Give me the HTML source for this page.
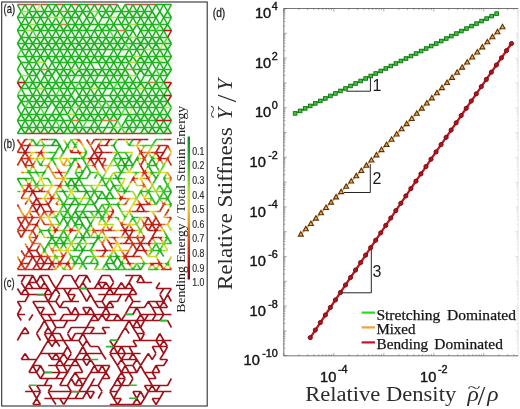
<!DOCTYPE html>
<html><head><meta charset="utf-8"><style>
html,body{margin:0;padding:0;background:#fff;width:520px;height:409px;overflow:hidden}
svg{display:block;filter:blur(0.3px)}
</style></head><body>
<svg width="520" height="409" viewBox="0 0 520 409">
<rect width="520" height="409" fill="#fff"/>
<rect x="1.7" y="2" width="205.5" height="404" fill="none" stroke="#303030" stroke-width="1.1"/>
<rect x="17.4" y="4.8" width="154" height="128.9" fill="#eefaee"/>
<path d="M17.4 4.5L25.1 4.5M25.1 4.5L32.8 4.5M32.8 4.5L40.5 4.5M40.5 4.5L48.2 4.5M55.9 4.5L63.6 4.5M71.3 4.5L79.0 4.5M86.7 4.5L94.4 4.5M94.4 4.5L102.1 4.5M102.1 4.5L109.8 4.5M109.8 4.5L117.5 4.5M125.2 4.5L132.9 4.5M132.9 4.5L140.6 4.5M140.6 4.5L148.3 4.5M148.3 4.5L156.0 4.5" stroke="#c05a48" stroke-width="1.35" fill="none"/>
<path d="M48.2 4.5L55.9 4.5M63.6 4.5L71.3 4.5M79.0 4.5L86.7 4.5M156.0 4.5L163.7 4.5M163.7 4.5L171.4 4.5M17.4 133.5L25.1 133.5M63.6 133.5L71.3 133.5M140.6 133.5L148.3 133.5M156.0 133.5L163.7 133.5" stroke="#18b018" stroke-width="1.35" fill="none"/>
<path d="M17.4 4.5L21.2 11.5M25.1 4.5L21.2 11.5M25.1 4.5L28.9 11.5M32.8 4.5L28.9 11.5M32.8 4.5L36.6 11.5M40.5 4.5L44.4 11.5M48.2 4.5L44.4 11.5M48.2 4.5L52.0 11.5M55.9 4.5L52.0 11.5M55.9 4.5L59.8 11.5M63.6 4.5L59.8 11.5M63.6 4.5L67.5 11.5M71.3 4.5L67.5 11.5M71.3 4.5L75.2 11.5M79.0 4.5L75.2 11.5M79.0 4.5L82.8 11.5M86.7 4.5L82.8 11.5M86.7 4.5L90.5 11.5M94.4 4.5L90.5 11.5M94.4 4.5L98.2 11.5M102.1 4.5L98.2 11.5M102.1 4.5L106.0 11.5M109.8 4.5L106.0 11.5M109.8 4.5L113.7 11.5M117.5 4.5L113.7 11.5M117.5 4.5L121.4 11.5M125.2 4.5L121.4 11.5M125.2 4.5L129.1 11.5M132.9 4.5L129.1 11.5M132.9 4.5L136.8 11.5M140.6 4.5L136.8 11.5M140.6 4.5L144.4 11.5M148.3 4.5L144.4 11.5M148.3 4.5L152.2 11.5M156.0 4.5L152.2 11.5M156.0 4.5L159.8 11.5M163.7 4.5L159.8 11.5M163.7 4.5L167.6 11.5M171.4 4.5L167.6 11.5M21.2 11.5L17.4 17.5M28.9 11.5L25.1 17.5M28.9 11.5L32.8 17.5M36.6 11.5L32.8 17.5M36.6 11.5L40.5 17.5M44.4 11.5L40.5 17.5M44.4 11.5L48.2 17.5M52.0 11.5L48.2 17.5M52.0 11.5L55.9 17.5M59.8 11.5L55.9 17.5M59.8 11.5L63.6 17.5M67.5 11.5L63.6 17.5M67.5 11.5L71.3 17.5M75.2 11.5L71.3 17.5M75.2 11.5L79.0 17.5M82.8 11.5L79.0 17.5M82.8 11.5L86.7 17.5M90.5 11.5L86.7 17.5M90.5 11.5L94.4 17.5M98.2 11.5L102.1 17.5M106.0 11.5L102.1 17.5M106.0 11.5L109.8 17.5M113.7 11.5L109.8 17.5M121.4 11.5L117.5 17.5M121.4 11.5L125.2 17.5M129.1 11.5L125.2 17.5M129.1 11.5L132.9 17.5M136.8 11.5L132.9 17.5M136.8 11.5L140.6 17.5M144.4 11.5L140.6 17.5M144.4 11.5L148.3 17.5M152.2 11.5L148.3 17.5M152.2 11.5L156.0 17.5M159.8 11.5L156.0 17.5M159.8 11.5L163.7 17.5M167.6 11.5L163.7 17.5M167.6 11.5L171.4 17.5M17.4 17.5L21.2 24.5M25.1 17.5L21.2 24.5M25.1 17.5L28.9 24.5M32.8 17.5L28.9 24.5M32.8 17.5L36.6 24.5M40.5 17.5L36.6 24.5M40.5 17.5L44.4 24.5M48.2 17.5L44.4 24.5M48.2 17.5L52.0 24.5M55.9 17.5L52.0 24.5M55.9 17.5L59.8 24.5M63.6 17.5L59.8 24.5M63.6 17.5L67.5 24.5M71.3 17.5L67.5 24.5M71.3 17.5L75.2 24.5M79.0 17.5L75.2 24.5M79.0 17.5L82.8 24.5M86.7 17.5L82.8 24.5M86.7 17.5L90.5 24.5M94.4 17.5L90.5 24.5M94.4 17.5L98.2 24.5M102.1 17.5L98.2 24.5M109.8 17.5L106.0 24.5M109.8 17.5L113.7 24.5M117.5 17.5L113.7 24.5M117.5 17.5L121.4 24.5M125.2 17.5L121.4 24.5M125.2 17.5L129.1 24.5M132.9 17.5L129.1 24.5M132.9 17.5L136.8 24.5M140.6 17.5L136.8 24.5M140.6 17.5L144.4 24.5M148.3 17.5L144.4 24.5M148.3 17.5L152.2 24.5M156.0 17.5L152.2 24.5M156.0 17.5L159.8 24.5M163.7 17.5L159.8 24.5M163.7 17.5L167.6 24.5M171.4 17.5L167.6 24.5M21.2 24.5L17.4 30.5M21.2 24.5L25.1 30.5M28.9 24.5L25.1 30.5M28.9 24.5L32.8 30.5M36.6 24.5L32.8 30.5M36.6 24.5L40.5 30.5M44.4 24.5L40.5 30.5M44.4 24.5L48.2 30.5M52.0 24.5L48.2 30.5M52.0 24.5L55.9 30.5M59.8 24.5L55.9 30.5M59.8 24.5L63.6 30.5M67.5 24.5L63.6 30.5M67.5 24.5L71.3 30.5M75.2 24.5L71.3 30.5M75.2 24.5L79.0 30.5M82.8 24.5L79.0 30.5M82.8 24.5L86.7 30.5M90.5 24.5L86.7 30.5M98.2 24.5L94.4 30.5M98.2 24.5L102.1 30.5M106.0 24.5L102.1 30.5M106.0 24.5L109.8 30.5M113.7 24.5L109.8 30.5M113.7 24.5L117.5 30.5M121.4 24.5L125.2 30.5M129.1 24.5L125.2 30.5M129.1 24.5L132.9 30.5M136.8 24.5L132.9 30.5M136.8 24.5L140.6 30.5M144.4 24.5L140.6 30.5M144.4 24.5L148.3 30.5M152.2 24.5L148.3 30.5M152.2 24.5L156.0 30.5M159.8 24.5L163.7 30.5M167.6 24.5L163.7 30.5M167.6 24.5L171.4 30.5M17.4 30.5L21.2 37.5M25.1 30.5L21.2 37.5M25.1 30.5L28.9 37.5M32.8 30.5L28.9 37.5M40.5 30.5L36.6 37.5M40.5 30.5L44.4 37.5M48.2 30.5L44.4 37.5M48.2 30.5L52.0 37.5M55.9 30.5L52.0 37.5M55.9 30.5L59.8 37.5M63.6 30.5L59.8 37.5M63.6 30.5L67.5 37.5M71.3 30.5L67.5 37.5M71.3 30.5L75.2 37.5M79.0 30.5L75.2 37.5M79.0 30.5L82.8 37.5M86.7 30.5L82.8 37.5M86.7 30.5L90.5 37.5M94.4 30.5L90.5 37.5M94.4 30.5L98.2 37.5M102.1 30.5L98.2 37.5M102.1 30.5L106.0 37.5M109.8 30.5L106.0 37.5M117.5 30.5L113.7 37.5M117.5 30.5L121.4 37.5M125.2 30.5L121.4 37.5M125.2 30.5L129.1 37.5M132.9 30.5L129.1 37.5M132.9 30.5L136.8 37.5M140.6 30.5L136.8 37.5M140.6 30.5L144.4 37.5M148.3 30.5L144.4 37.5M148.3 30.5L152.2 37.5M156.0 30.5L152.2 37.5M156.0 30.5L159.8 37.5M163.7 30.5L159.8 37.5M163.7 30.5L167.6 37.5M21.2 37.5L17.4 43.5M21.2 37.5L25.1 43.5M28.9 37.5L25.1 43.5M28.9 37.5L32.8 43.5M36.6 37.5L32.8 43.5M36.6 37.5L40.5 43.5M44.4 37.5L40.5 43.5M44.4 37.5L48.2 43.5M52.0 37.5L48.2 43.5M52.0 37.5L55.9 43.5M59.8 37.5L55.9 43.5M59.8 37.5L63.6 43.5M67.5 37.5L63.6 43.5M67.5 37.5L71.3 43.5M75.2 37.5L71.3 43.5M75.2 37.5L79.0 43.5M82.8 37.5L79.0 43.5M82.8 37.5L86.7 43.5M90.5 37.5L86.7 43.5M90.5 37.5L94.4 43.5M98.2 37.5L94.4 43.5M98.2 37.5L102.1 43.5M106.0 37.5L102.1 43.5M106.0 37.5L109.8 43.5M113.7 37.5L109.8 43.5M113.7 37.5L117.5 43.5M121.4 37.5L117.5 43.5M121.4 37.5L125.2 43.5M129.1 37.5L125.2 43.5M129.1 37.5L132.9 43.5M136.8 37.5L132.9 43.5M136.8 37.5L140.6 43.5M144.4 37.5L140.6 43.5M144.4 37.5L148.3 43.5M152.2 37.5L148.3 43.5M152.2 37.5L156.0 43.5M159.8 37.5L156.0 43.5M159.8 37.5L163.7 43.5M167.6 37.5L171.4 43.5M17.4 43.5L21.2 49.5M25.1 43.5L21.2 49.5M25.1 43.5L28.9 49.5M32.8 43.5L28.9 49.5M32.8 43.5L36.6 49.5M40.5 43.5L36.6 49.5M40.5 43.5L44.4 49.5M48.2 43.5L44.4 49.5M48.2 43.5L52.0 49.5M55.9 43.5L52.0 49.5M55.9 43.5L59.8 49.5M63.6 43.5L59.8 49.5M63.6 43.5L67.5 49.5M71.3 43.5L67.5 49.5M71.3 43.5L75.2 49.5M79.0 43.5L75.2 49.5M79.0 43.5L82.8 49.5M86.7 43.5L82.8 49.5M86.7 43.5L90.5 49.5M94.4 43.5L90.5 49.5M94.4 43.5L98.2 49.5M102.1 43.5L98.2 49.5M102.1 43.5L106.0 49.5M109.8 43.5L106.0 49.5M109.8 43.5L113.7 49.5M117.5 43.5L113.7 49.5M117.5 43.5L121.4 49.5M125.2 43.5L121.4 49.5M132.9 43.5L129.1 49.5M132.9 43.5L136.8 49.5M140.6 43.5L136.8 49.5M140.6 43.5L144.4 49.5M148.3 43.5L144.4 49.5M148.3 43.5L152.2 49.5M156.0 43.5L152.2 49.5M156.0 43.5L159.8 49.5M163.7 43.5L167.6 49.5M171.4 43.5L167.6 49.5M21.2 49.5L25.1 56.5M28.9 49.5L25.1 56.5M28.9 49.5L32.8 56.5M36.6 49.5L32.8 56.5M36.6 49.5L40.5 56.5M44.4 49.5L40.5 56.5M44.4 49.5L48.2 56.5M52.0 49.5L48.2 56.5M52.0 49.5L55.9 56.5M59.8 49.5L55.9 56.5M59.8 49.5L63.6 56.5M67.5 49.5L63.6 56.5M67.5 49.5L71.3 56.5M75.2 49.5L71.3 56.5M75.2 49.5L79.0 56.5M82.8 49.5L79.0 56.5M82.8 49.5L86.7 56.5M90.5 49.5L86.7 56.5M90.5 49.5L94.4 56.5M98.2 49.5L94.4 56.5M98.2 49.5L102.1 56.5M106.0 49.5L102.1 56.5M113.7 49.5L109.8 56.5M113.7 49.5L117.5 56.5M121.4 49.5L117.5 56.5M129.1 49.5L125.2 56.5M129.1 49.5L132.9 56.5M136.8 49.5L132.9 56.5M136.8 49.5L140.6 56.5M144.4 49.5L140.6 56.5M144.4 49.5L148.3 56.5M152.2 49.5L148.3 56.5M152.2 49.5L156.0 56.5M159.8 49.5L156.0 56.5M159.8 49.5L163.7 56.5M167.6 49.5L163.7 56.5M167.6 49.5L171.4 56.5M17.4 56.5L21.2 62.5M25.1 56.5L28.9 62.5M32.8 56.5L28.9 62.5M32.8 56.5L36.6 62.5M40.5 56.5L36.6 62.5M40.5 56.5L44.4 62.5M48.2 56.5L44.4 62.5M48.2 56.5L52.0 62.5M55.9 56.5L52.0 62.5M55.9 56.5L59.8 62.5M63.6 56.5L59.8 62.5M63.6 56.5L67.5 62.5M71.3 56.5L67.5 62.5M71.3 56.5L75.2 62.5M79.0 56.5L75.2 62.5M79.0 56.5L82.8 62.5M86.7 56.5L82.8 62.5M86.7 56.5L90.5 62.5M94.4 56.5L90.5 62.5M94.4 56.5L98.2 62.5M102.1 56.5L98.2 62.5M102.1 56.5L106.0 62.5M109.8 56.5L106.0 62.5M109.8 56.5L113.7 62.5M117.5 56.5L113.7 62.5M117.5 56.5L121.4 62.5M125.2 56.5L121.4 62.5M125.2 56.5L129.1 62.5M132.9 56.5L129.1 62.5M132.9 56.5L136.8 62.5M140.6 56.5L136.8 62.5M140.6 56.5L144.4 62.5M148.3 56.5L144.4 62.5M148.3 56.5L152.2 62.5M156.0 56.5L152.2 62.5M156.0 56.5L159.8 62.5M163.7 56.5L167.6 62.5M171.4 56.5L167.6 62.5M21.2 62.5L17.4 69.5M21.2 62.5L25.1 69.5M28.9 62.5L25.1 69.5M28.9 62.5L32.8 69.5M36.6 62.5L32.8 69.5M36.6 62.5L40.5 69.5M44.4 62.5L40.5 69.5M44.4 62.5L48.2 69.5M52.0 62.5L48.2 69.5M52.0 62.5L55.9 69.5M59.8 62.5L55.9 69.5M59.8 62.5L63.6 69.5M67.5 62.5L63.6 69.5M67.5 62.5L71.3 69.5M75.2 62.5L71.3 69.5M75.2 62.5L79.0 69.5M82.8 62.5L79.0 69.5M82.8 62.5L86.7 69.5M90.5 62.5L86.7 69.5M90.5 62.5L94.4 69.5M98.2 62.5L102.1 69.5M106.0 62.5L102.1 69.5M106.0 62.5L109.8 69.5M113.7 62.5L109.8 69.5M113.7 62.5L117.5 69.5M121.4 62.5L117.5 69.5M121.4 62.5L125.2 69.5M129.1 62.5L125.2 69.5M129.1 62.5L132.9 69.5M136.8 62.5L132.9 69.5M136.8 62.5L140.6 69.5M144.4 62.5L140.6 69.5M144.4 62.5L148.3 69.5M152.2 62.5L148.3 69.5M152.2 62.5L156.0 69.5M159.8 62.5L156.0 69.5M159.8 62.5L163.7 69.5M167.6 62.5L163.7 69.5M167.6 62.5L171.4 69.5M17.4 69.5L21.2 75.5M25.1 69.5L28.9 75.5M32.8 69.5L28.9 75.5M32.8 69.5L36.6 75.5M40.5 69.5L36.6 75.5M40.5 69.5L44.4 75.5M48.2 69.5L44.4 75.5M48.2 69.5L52.0 75.5M55.9 69.5L52.0 75.5M55.9 69.5L59.8 75.5M63.6 69.5L59.8 75.5M63.6 69.5L67.5 75.5M71.3 69.5L67.5 75.5M71.3 69.5L75.2 75.5M79.0 69.5L75.2 75.5M79.0 69.5L82.8 75.5M86.7 69.5L82.8 75.5M86.7 69.5L90.5 75.5M94.4 69.5L90.5 75.5M94.4 69.5L98.2 75.5M102.1 69.5L98.2 75.5M102.1 69.5L106.0 75.5M109.8 69.5L106.0 75.5M109.8 69.5L113.7 75.5M117.5 69.5L113.7 75.5M117.5 69.5L121.4 75.5M125.2 69.5L121.4 75.5M125.2 69.5L129.1 75.5M132.9 69.5L136.8 75.5M140.6 69.5L136.8 75.5M140.6 69.5L144.4 75.5M148.3 69.5L144.4 75.5M148.3 69.5L152.2 75.5M156.0 69.5L152.2 75.5M163.7 69.5L159.8 75.5M163.7 69.5L167.6 75.5M171.4 69.5L167.6 75.5M21.2 75.5L17.4 82.5M21.2 75.5L25.1 82.5M28.9 75.5L25.1 82.5M28.9 75.5L32.8 82.5M36.6 75.5L32.8 82.5M36.6 75.5L40.5 82.5M44.4 75.5L40.5 82.5M44.4 75.5L48.2 82.5M52.0 75.5L48.2 82.5M52.0 75.5L55.9 82.5M59.8 75.5L55.9 82.5M59.8 75.5L63.6 82.5M67.5 75.5L63.6 82.5M67.5 75.5L71.3 82.5M75.2 75.5L71.3 82.5M82.8 75.5L79.0 82.5M82.8 75.5L86.7 82.5M90.5 75.5L86.7 82.5M90.5 75.5L94.4 82.5M98.2 75.5L94.4 82.5M106.0 75.5L102.1 82.5M106.0 75.5L109.8 82.5M113.7 75.5L109.8 82.5M113.7 75.5L117.5 82.5M121.4 75.5L117.5 82.5M121.4 75.5L125.2 82.5M129.1 75.5L125.2 82.5M129.1 75.5L132.9 82.5M136.8 75.5L132.9 82.5M136.8 75.5L140.6 82.5M144.4 75.5L140.6 82.5M152.2 75.5L148.3 82.5M152.2 75.5L156.0 82.5M159.8 75.5L156.0 82.5M159.8 75.5L163.7 82.5M167.6 75.5L163.7 82.5M25.1 82.5L21.2 88.5M25.1 82.5L28.9 88.5M32.8 82.5L28.9 88.5M32.8 82.5L36.6 88.5M40.5 82.5L36.6 88.5M40.5 82.5L44.4 88.5M48.2 82.5L44.4 88.5M48.2 82.5L52.0 88.5M55.9 82.5L52.0 88.5M55.9 82.5L59.8 88.5M63.6 82.5L59.8 88.5M63.6 82.5L67.5 88.5M71.3 82.5L67.5 88.5M71.3 82.5L75.2 88.5M79.0 82.5L82.8 88.5M86.7 82.5L82.8 88.5M86.7 82.5L90.5 88.5M94.4 82.5L90.5 88.5M94.4 82.5L98.2 88.5M102.1 82.5L98.2 88.5M102.1 82.5L106.0 88.5M109.8 82.5L106.0 88.5M109.8 82.5L113.7 88.5M117.5 82.5L121.4 88.5M125.2 82.5L121.4 88.5M125.2 82.5L129.1 88.5M132.9 82.5L129.1 88.5M132.9 82.5L136.8 88.5M140.6 82.5L136.8 88.5M140.6 82.5L144.4 88.5M148.3 82.5L144.4 88.5M148.3 82.5L152.2 88.5M156.0 82.5L152.2 88.5M156.0 82.5L159.8 88.5M163.7 82.5L167.6 88.5M21.2 88.5L25.1 95.5M28.9 88.5L32.8 95.5M36.6 88.5L32.8 95.5M36.6 88.5L40.5 95.5M44.4 88.5L40.5 95.5M44.4 88.5L48.2 95.5M52.0 88.5L48.2 95.5M52.0 88.5L55.9 95.5M59.8 88.5L63.6 95.5M67.5 88.5L63.6 95.5M67.5 88.5L71.3 95.5M75.2 88.5L71.3 95.5M75.2 88.5L79.0 95.5M82.8 88.5L79.0 95.5M82.8 88.5L86.7 95.5M90.5 88.5L86.7 95.5M90.5 88.5L94.4 95.5M98.2 88.5L94.4 95.5M98.2 88.5L102.1 95.5M106.0 88.5L102.1 95.5M113.7 88.5L109.8 95.5M113.7 88.5L117.5 95.5M121.4 88.5L117.5 95.5M121.4 88.5L125.2 95.5M129.1 88.5L125.2 95.5M129.1 88.5L132.9 95.5M136.8 88.5L132.9 95.5M136.8 88.5L140.6 95.5M144.4 88.5L140.6 95.5M144.4 88.5L148.3 95.5M152.2 88.5L148.3 95.5M152.2 88.5L156.0 95.5M159.8 88.5L156.0 95.5M159.8 88.5L163.7 95.5M167.6 88.5L163.7 95.5M167.6 88.5L171.4 95.5M17.4 95.5L21.2 101.5M25.1 95.5L21.2 101.5M25.1 95.5L28.9 101.5M32.8 95.5L28.9 101.5M32.8 95.5L36.6 101.5M40.5 95.5L36.6 101.5M40.5 95.5L44.4 101.5M48.2 95.5L44.4 101.5M48.2 95.5L52.0 101.5M55.9 95.5L52.0 101.5M55.9 95.5L59.8 101.5M63.6 95.5L59.8 101.5M63.6 95.5L67.5 101.5M71.3 95.5L67.5 101.5M71.3 95.5L75.2 101.5M79.0 95.5L75.2 101.5M79.0 95.5L82.8 101.5M86.7 95.5L82.8 101.5M86.7 95.5L90.5 101.5M94.4 95.5L90.5 101.5M94.4 95.5L98.2 101.5M102.1 95.5L98.2 101.5M102.1 95.5L106.0 101.5M109.8 95.5L113.7 101.5M117.5 95.5L113.7 101.5M117.5 95.5L121.4 101.5M125.2 95.5L121.4 101.5M125.2 95.5L129.1 101.5M132.9 95.5L129.1 101.5M132.9 95.5L136.8 101.5M140.6 95.5L136.8 101.5M140.6 95.5L144.4 101.5M148.3 95.5L144.4 101.5M148.3 95.5L152.2 101.5M156.0 95.5L152.2 101.5M156.0 95.5L159.8 101.5M163.7 95.5L159.8 101.5M163.7 95.5L167.6 101.5M21.2 101.5L17.4 107.5M21.2 101.5L25.1 107.5M28.9 101.5L32.8 107.5M36.6 101.5L32.8 107.5M36.6 101.5L40.5 107.5M44.4 101.5L40.5 107.5M44.4 101.5L48.2 107.5M52.0 101.5L48.2 107.5M52.0 101.5L55.9 107.5M59.8 101.5L55.9 107.5M59.8 101.5L63.6 107.5M67.5 101.5L63.6 107.5M67.5 101.5L71.3 107.5M75.2 101.5L71.3 107.5M75.2 101.5L79.0 107.5M82.8 101.5L79.0 107.5M82.8 101.5L86.7 107.5M90.5 101.5L86.7 107.5M90.5 101.5L94.4 107.5M98.2 101.5L94.4 107.5M106.0 101.5L102.1 107.5M113.7 101.5L109.8 107.5M113.7 101.5L117.5 107.5M121.4 101.5L117.5 107.5M121.4 101.5L125.2 107.5M129.1 101.5L125.2 107.5M129.1 101.5L132.9 107.5M136.8 101.5L132.9 107.5M136.8 101.5L140.6 107.5M144.4 101.5L140.6 107.5M144.4 101.5L148.3 107.5M152.2 101.5L148.3 107.5M152.2 101.5L156.0 107.5M159.8 101.5L156.0 107.5M159.8 101.5L163.7 107.5M167.6 101.5L163.7 107.5M167.6 101.5L171.4 107.5M17.4 107.5L21.2 114.5M25.1 107.5L21.2 114.5M25.1 107.5L28.9 114.5M32.8 107.5L28.9 114.5M32.8 107.5L36.6 114.5M40.5 107.5L36.6 114.5M48.2 107.5L44.4 114.5M55.9 107.5L52.0 114.5M55.9 107.5L59.8 114.5M63.6 107.5L59.8 114.5M63.6 107.5L67.5 114.5M71.3 107.5L67.5 114.5M71.3 107.5L75.2 114.5M79.0 107.5L75.2 114.5M79.0 107.5L82.8 114.5M86.7 107.5L82.8 114.5M86.7 107.5L90.5 114.5M94.4 107.5L90.5 114.5M94.4 107.5L98.2 114.5M102.1 107.5L98.2 114.5M102.1 107.5L106.0 114.5M109.8 107.5L106.0 114.5M109.8 107.5L113.7 114.5M117.5 107.5L113.7 114.5M117.5 107.5L121.4 114.5M125.2 107.5L129.1 114.5M132.9 107.5L136.8 114.5M140.6 107.5L136.8 114.5M140.6 107.5L144.4 114.5M148.3 107.5L144.4 114.5M148.3 107.5L152.2 114.5M156.0 107.5L152.2 114.5M156.0 107.5L159.8 114.5M163.7 107.5L159.8 114.5M163.7 107.5L167.6 114.5M171.4 107.5L167.6 114.5M21.2 114.5L17.4 120.5M21.2 114.5L25.1 120.5M28.9 114.5L25.1 120.5M28.9 114.5L32.8 120.5M36.6 114.5L32.8 120.5M36.6 114.5L40.5 120.5M44.4 114.5L40.5 120.5M44.4 114.5L48.2 120.5M52.0 114.5L48.2 120.5M52.0 114.5L55.9 120.5M59.8 114.5L55.9 120.5M59.8 114.5L63.6 120.5M67.5 114.5L71.3 120.5M75.2 114.5L71.3 120.5M75.2 114.5L79.0 120.5M82.8 114.5L79.0 120.5M82.8 114.5L86.7 120.5M90.5 114.5L86.7 120.5M90.5 114.5L94.4 120.5M98.2 114.5L94.4 120.5M98.2 114.5L102.1 120.5M106.0 114.5L102.1 120.5M106.0 114.5L109.8 120.5M113.7 114.5L109.8 120.5M113.7 114.5L117.5 120.5M121.4 114.5L117.5 120.5M129.1 114.5L125.2 120.5M129.1 114.5L132.9 120.5M136.8 114.5L132.9 120.5M136.8 114.5L140.6 120.5M144.4 114.5L140.6 120.5M144.4 114.5L148.3 120.5M152.2 114.5L148.3 120.5M152.2 114.5L156.0 120.5M159.8 114.5L156.0 120.5M159.8 114.5L163.7 120.5M167.6 114.5L163.7 120.5M167.6 114.5L171.4 120.5M17.4 120.5L21.2 127.5M25.1 120.5L21.2 127.5M25.1 120.5L28.9 127.5M32.8 120.5L28.9 127.5M32.8 120.5L36.6 127.5M40.5 120.5L36.6 127.5M40.5 120.5L44.4 127.5M48.2 120.5L44.4 127.5M48.2 120.5L52.0 127.5M55.9 120.5L52.0 127.5M63.6 120.5L59.8 127.5M63.6 120.5L67.5 127.5M71.3 120.5L67.5 127.5M71.3 120.5L75.2 127.5M79.0 120.5L75.2 127.5M79.0 120.5L82.8 127.5M94.4 120.5L90.5 127.5M94.4 120.5L98.2 127.5M102.1 120.5L98.2 127.5M109.8 120.5L106.0 127.5M109.8 120.5L113.7 127.5M117.5 120.5L113.7 127.5M125.2 120.5L121.4 127.5M125.2 120.5L129.1 127.5M132.9 120.5L129.1 127.5M132.9 120.5L136.8 127.5M140.6 120.5L136.8 127.5M140.6 120.5L144.4 127.5M148.3 120.5L144.4 127.5M148.3 120.5L152.2 127.5M156.0 120.5L152.2 127.5M156.0 120.5L159.8 127.5M163.7 120.5L159.8 127.5M163.7 120.5L167.6 127.5M171.4 120.5L167.6 127.5M21.2 127.5L17.4 133.5M21.2 127.5L25.1 133.5M28.9 127.5L25.1 133.5M28.9 127.5L32.8 133.5M36.6 127.5L32.8 133.5M36.6 127.5L40.5 133.5M44.4 127.5L40.5 133.5M44.4 127.5L48.2 133.5M52.0 127.5L48.2 133.5M52.0 127.5L55.9 133.5M59.8 127.5L55.9 133.5M59.8 127.5L63.6 133.5M67.5 127.5L63.6 133.5M67.5 127.5L71.3 133.5M75.2 127.5L71.3 133.5M75.2 127.5L79.0 133.5M82.8 127.5L79.0 133.5M82.8 127.5L86.7 133.5M90.5 127.5L86.7 133.5M90.5 127.5L94.4 133.5M98.2 127.5L94.4 133.5M98.2 127.5L102.1 133.5M106.0 127.5L102.1 133.5M113.7 127.5L109.8 133.5M113.7 127.5L117.5 133.5M121.4 127.5L117.5 133.5M129.1 127.5L125.2 133.5M129.1 127.5L132.9 133.5M136.8 127.5L132.9 133.5M144.4 127.5L140.6 133.5M144.4 127.5L148.3 133.5M152.2 127.5L148.3 133.5M152.2 127.5L156.0 133.5M159.8 127.5L156.0 133.5M159.8 127.5L163.7 133.5M167.6 127.5L163.7 133.5M167.6 127.5L171.4 133.5" stroke="#18b018" stroke-width="1.50" fill="none"/>
<path d="M40.5 4.5L36.6 11.5M163.7 43.5L159.8 49.5M163.7 56.5L159.8 62.5M132.9 107.5L129.1 114.5" stroke="#d0e860" stroke-width="1.50" fill="none"/>
<path d="M21.2 11.5L28.9 11.5M90.5 11.5L98.2 11.5M48.2 17.5L55.9 17.5M55.9 17.5L63.6 17.5M109.8 17.5L117.5 17.5M28.9 24.5L36.6 24.5M129.1 24.5L136.8 24.5M25.1 30.5L32.8 30.5M129.1 37.5L136.8 37.5M144.4 49.5L152.2 49.5M132.9 56.5L140.6 56.5M36.6 62.5L44.4 62.5M129.1 62.5L136.8 62.5M71.3 69.5L79.0 69.5M21.2 75.5L28.9 75.5M129.1 75.5L136.8 75.5M36.6 88.5L44.4 88.5M90.5 88.5L98.2 88.5M136.8 88.5L144.4 88.5M71.3 107.5L79.0 107.5M163.7 107.5L171.4 107.5M67.5 114.5L75.2 114.5M113.7 127.5L121.4 127.5" stroke="#b8dc50" stroke-width="1.35" fill="none"/>
<path d="M28.9 11.5L36.6 11.5M36.6 11.5L44.4 11.5M44.4 11.5L52.0 11.5M52.0 11.5L59.8 11.5M67.5 11.5L75.2 11.5M75.2 11.5L82.8 11.5M82.8 11.5L90.5 11.5M98.2 11.5L106.0 11.5M106.0 11.5L113.7 11.5M113.7 11.5L121.4 11.5M121.4 11.5L129.1 11.5M129.1 11.5L136.8 11.5M136.8 11.5L144.4 11.5M144.4 11.5L152.2 11.5M17.4 17.5L25.1 17.5M25.1 17.5L32.8 17.5M32.8 17.5L40.5 17.5M40.5 17.5L48.2 17.5M63.6 17.5L71.3 17.5M71.3 17.5L79.0 17.5M86.7 17.5L94.4 17.5M102.1 17.5L109.8 17.5M117.5 17.5L125.2 17.5M125.2 17.5L132.9 17.5M132.9 17.5L140.6 17.5M140.6 17.5L148.3 17.5M148.3 17.5L156.0 17.5M163.7 17.5L171.4 17.5M21.2 24.5L28.9 24.5M36.6 24.5L44.4 24.5M44.4 24.5L52.0 24.5M52.0 24.5L59.8 24.5M67.5 24.5L75.2 24.5M75.2 24.5L82.8 24.5M82.8 24.5L90.5 24.5M90.5 24.5L98.2 24.5M98.2 24.5L106.0 24.5M106.0 24.5L113.7 24.5M113.7 24.5L121.4 24.5M121.4 24.5L129.1 24.5M136.8 24.5L144.4 24.5M144.4 24.5L152.2 24.5M152.2 24.5L159.8 24.5M159.8 24.5L167.6 24.5M17.4 30.5L25.1 30.5M32.8 30.5L40.5 30.5M40.5 30.5L48.2 30.5M48.2 30.5L55.9 30.5M55.9 30.5L63.6 30.5M63.6 30.5L71.3 30.5M71.3 30.5L79.0 30.5M79.0 30.5L86.7 30.5M86.7 30.5L94.4 30.5M94.4 30.5L102.1 30.5M102.1 30.5L109.8 30.5M109.8 30.5L117.5 30.5M125.2 30.5L132.9 30.5M140.6 30.5L148.3 30.5M148.3 30.5L156.0 30.5M156.0 30.5L163.7 30.5M21.2 37.5L28.9 37.5M28.9 37.5L36.6 37.5M36.6 37.5L44.4 37.5M44.4 37.5L52.0 37.5M52.0 37.5L59.8 37.5M59.8 37.5L67.5 37.5M67.5 37.5L75.2 37.5M75.2 37.5L82.8 37.5M82.8 37.5L90.5 37.5M90.5 37.5L98.2 37.5M98.2 37.5L106.0 37.5M106.0 37.5L113.7 37.5M113.7 37.5L121.4 37.5M121.4 37.5L129.1 37.5M136.8 37.5L144.4 37.5M144.4 37.5L152.2 37.5M152.2 37.5L159.8 37.5M159.8 37.5L167.6 37.5M17.4 43.5L25.1 43.5M25.1 43.5L32.8 43.5M32.8 43.5L40.5 43.5M40.5 43.5L48.2 43.5M48.2 43.5L55.9 43.5M55.9 43.5L63.6 43.5M63.6 43.5L71.3 43.5M71.3 43.5L79.0 43.5M79.0 43.5L86.7 43.5M86.7 43.5L94.4 43.5M94.4 43.5L102.1 43.5M102.1 43.5L109.8 43.5M109.8 43.5L117.5 43.5M117.5 43.5L125.2 43.5M125.2 43.5L132.9 43.5M132.9 43.5L140.6 43.5M140.6 43.5L148.3 43.5M148.3 43.5L156.0 43.5M156.0 43.5L163.7 43.5M163.7 43.5L171.4 43.5M21.2 49.5L28.9 49.5M28.9 49.5L36.6 49.5M36.6 49.5L44.4 49.5M44.4 49.5L52.0 49.5M52.0 49.5L59.8 49.5M59.8 49.5L67.5 49.5M67.5 49.5L75.2 49.5M75.2 49.5L82.8 49.5M82.8 49.5L90.5 49.5M90.5 49.5L98.2 49.5M98.2 49.5L106.0 49.5M106.0 49.5L113.7 49.5M113.7 49.5L121.4 49.5M121.4 49.5L129.1 49.5M129.1 49.5L136.8 49.5M136.8 49.5L144.4 49.5M152.2 49.5L159.8 49.5M159.8 49.5L167.6 49.5M17.4 56.5L25.1 56.5M25.1 56.5L32.8 56.5M32.8 56.5L40.5 56.5M40.5 56.5L48.2 56.5M48.2 56.5L55.9 56.5M55.9 56.5L63.6 56.5M63.6 56.5L71.3 56.5M71.3 56.5L79.0 56.5M79.0 56.5L86.7 56.5M86.7 56.5L94.4 56.5M94.4 56.5L102.1 56.5M102.1 56.5L109.8 56.5M109.8 56.5L117.5 56.5M117.5 56.5L125.2 56.5M125.2 56.5L132.9 56.5M140.6 56.5L148.3 56.5M148.3 56.5L156.0 56.5M156.0 56.5L163.7 56.5M163.7 56.5L171.4 56.5M21.2 62.5L28.9 62.5M28.9 62.5L36.6 62.5M52.0 62.5L59.8 62.5M59.8 62.5L67.5 62.5M67.5 62.5L75.2 62.5M75.2 62.5L82.8 62.5M82.8 62.5L90.5 62.5M90.5 62.5L98.2 62.5M98.2 62.5L106.0 62.5M106.0 62.5L113.7 62.5M113.7 62.5L121.4 62.5M121.4 62.5L129.1 62.5M136.8 62.5L144.4 62.5M144.4 62.5L152.2 62.5M152.2 62.5L159.8 62.5M159.8 62.5L167.6 62.5M25.1 69.5L32.8 69.5M32.8 69.5L40.5 69.5M48.2 69.5L55.9 69.5M55.9 69.5L63.6 69.5M63.6 69.5L71.3 69.5M79.0 69.5L86.7 69.5M86.7 69.5L94.4 69.5M94.4 69.5L102.1 69.5M102.1 69.5L109.8 69.5M109.8 69.5L117.5 69.5M117.5 69.5L125.2 69.5M132.9 69.5L140.6 69.5M140.6 69.5L148.3 69.5M156.0 69.5L163.7 69.5M163.7 69.5L171.4 69.5M28.9 75.5L36.6 75.5M44.4 75.5L52.0 75.5M59.8 75.5L67.5 75.5M67.5 75.5L75.2 75.5M75.2 75.5L82.8 75.5M82.8 75.5L90.5 75.5M90.5 75.5L98.2 75.5M98.2 75.5L106.0 75.5M106.0 75.5L113.7 75.5M113.7 75.5L121.4 75.5M121.4 75.5L129.1 75.5M144.4 75.5L152.2 75.5M152.2 75.5L159.8 75.5M159.8 75.5L167.6 75.5M25.1 82.5L32.8 82.5M32.8 82.5L40.5 82.5M40.5 82.5L48.2 82.5M48.2 82.5L55.9 82.5M55.9 82.5L63.6 82.5M63.6 82.5L71.3 82.5M71.3 82.5L79.0 82.5M79.0 82.5L86.7 82.5M86.7 82.5L94.4 82.5M94.4 82.5L102.1 82.5M102.1 82.5L109.8 82.5M109.8 82.5L117.5 82.5M117.5 82.5L125.2 82.5M125.2 82.5L132.9 82.5M132.9 82.5L140.6 82.5M140.6 82.5L148.3 82.5M156.0 82.5L163.7 82.5M21.2 88.5L28.9 88.5M28.9 88.5L36.6 88.5M44.4 88.5L52.0 88.5M52.0 88.5L59.8 88.5M59.8 88.5L67.5 88.5M67.5 88.5L75.2 88.5M75.2 88.5L82.8 88.5M82.8 88.5L90.5 88.5M98.2 88.5L106.0 88.5M106.0 88.5L113.7 88.5M113.7 88.5L121.4 88.5M121.4 88.5L129.1 88.5M129.1 88.5L136.8 88.5M144.4 88.5L152.2 88.5M152.2 88.5L159.8 88.5M159.8 88.5L167.6 88.5M17.4 95.5L25.1 95.5M25.1 95.5L32.8 95.5M32.8 95.5L40.5 95.5M40.5 95.5L48.2 95.5M48.2 95.5L55.9 95.5M55.9 95.5L63.6 95.5M63.6 95.5L71.3 95.5M79.0 95.5L86.7 95.5M86.7 95.5L94.4 95.5M94.4 95.5L102.1 95.5M102.1 95.5L109.8 95.5M109.8 95.5L117.5 95.5M117.5 95.5L125.2 95.5M125.2 95.5L132.9 95.5M132.9 95.5L140.6 95.5M140.6 95.5L148.3 95.5M148.3 95.5L156.0 95.5M156.0 95.5L163.7 95.5M21.2 101.5L28.9 101.5M28.9 101.5L36.6 101.5M36.6 101.5L44.4 101.5M44.4 101.5L52.0 101.5M52.0 101.5L59.8 101.5M59.8 101.5L67.5 101.5M67.5 101.5L75.2 101.5M75.2 101.5L82.8 101.5M82.8 101.5L90.5 101.5M90.5 101.5L98.2 101.5M98.2 101.5L106.0 101.5M106.0 101.5L113.7 101.5M113.7 101.5L121.4 101.5M121.4 101.5L129.1 101.5M129.1 101.5L136.8 101.5M136.8 101.5L144.4 101.5M144.4 101.5L152.2 101.5M152.2 101.5L159.8 101.5M159.8 101.5L167.6 101.5M25.1 107.5L32.8 107.5M32.8 107.5L40.5 107.5M40.5 107.5L48.2 107.5M55.9 107.5L63.6 107.5M63.6 107.5L71.3 107.5M79.0 107.5L86.7 107.5M86.7 107.5L94.4 107.5M94.4 107.5L102.1 107.5M102.1 107.5L109.8 107.5M109.8 107.5L117.5 107.5M117.5 107.5L125.2 107.5M125.2 107.5L132.9 107.5M132.9 107.5L140.6 107.5M140.6 107.5L148.3 107.5M148.3 107.5L156.0 107.5M156.0 107.5L163.7 107.5M21.2 114.5L28.9 114.5M28.9 114.5L36.6 114.5M36.6 114.5L44.4 114.5M44.4 114.5L52.0 114.5M52.0 114.5L59.8 114.5M59.8 114.5L67.5 114.5M75.2 114.5L82.8 114.5M82.8 114.5L90.5 114.5M90.5 114.5L98.2 114.5M98.2 114.5L106.0 114.5M106.0 114.5L113.7 114.5M113.7 114.5L121.4 114.5M121.4 114.5L129.1 114.5M129.1 114.5L136.8 114.5M136.8 114.5L144.4 114.5M144.4 114.5L152.2 114.5M152.2 114.5L159.8 114.5M159.8 114.5L167.6 114.5M17.4 120.5L25.1 120.5M25.1 120.5L32.8 120.5M32.8 120.5L40.5 120.5M40.5 120.5L48.2 120.5M48.2 120.5L55.9 120.5M55.9 120.5L63.6 120.5M63.6 120.5L71.3 120.5M79.0 120.5L86.7 120.5M86.7 120.5L94.4 120.5M94.4 120.5L102.1 120.5M125.2 120.5L132.9 120.5M132.9 120.5L140.6 120.5M140.6 120.5L148.3 120.5M148.3 120.5L156.0 120.5M21.2 127.5L28.9 127.5M28.9 127.5L36.6 127.5M36.6 127.5L44.4 127.5M44.4 127.5L52.0 127.5M52.0 127.5L59.8 127.5M59.8 127.5L67.5 127.5M67.5 127.5L75.2 127.5M75.2 127.5L82.8 127.5M82.8 127.5L90.5 127.5M90.5 127.5L98.2 127.5M98.2 127.5L106.0 127.5M106.0 127.5L113.7 127.5M121.4 127.5L129.1 127.5M129.1 127.5L136.8 127.5M136.8 127.5L144.4 127.5M144.4 127.5L152.2 127.5M152.2 127.5L159.8 127.5M159.8 127.5L167.6 127.5" stroke="#22b422" stroke-width="1.35" fill="none"/>
<path d="M59.8 11.5L67.5 11.5M59.8 24.5L67.5 24.5M117.5 30.5L125.2 30.5M40.5 69.5L48.2 69.5M125.2 69.5L132.9 69.5M148.3 82.5L156.0 82.5M71.3 120.5L79.0 120.5M102.1 120.5L109.8 120.5M109.8 120.5L117.5 120.5" stroke="#d08040" stroke-width="1.35" fill="none"/>
<path d="M21.2 11.5L25.1 17.5M98.2 11.5L94.4 17.5M159.8 24.5L156.0 30.5M32.8 30.5L36.6 37.5M109.8 30.5L113.7 37.5M167.6 37.5L163.7 43.5M125.2 43.5L129.1 49.5M21.2 49.5L17.4 56.5M156.0 69.5L159.8 75.5M79.0 82.5L75.2 88.5M117.5 82.5L113.7 88.5M163.7 82.5L159.8 88.5M21.2 88.5L17.4 95.5M59.8 88.5L55.9 95.5M28.9 101.5L25.1 107.5M98.2 101.5L102.1 107.5M106.0 101.5L109.8 107.5M40.5 107.5L44.4 114.5M125.2 107.5L121.4 114.5M55.9 120.5L59.8 127.5M86.7 120.5L82.8 127.5M117.5 120.5L121.4 127.5M121.4 127.5L125.2 133.5" stroke="#58d848" stroke-width="1.50" fill="none"/>
<path d="M163.7 30.5L171.4 30.5M17.4 82.5L25.1 82.5M163.7 82.5L171.4 82.5M163.7 95.5L171.4 95.5M156.0 120.5L163.7 120.5M163.7 120.5L171.4 120.5" stroke="#b81818" stroke-width="1.35" fill="none"/>
<path d="M171.4 30.5L167.6 37.5M17.4 82.5L21.2 88.5M171.4 82.5L167.6 88.5M171.4 95.5L167.6 101.5" stroke="#b81818" stroke-width="1.50" fill="none"/>
<path d="M25.1 133.5L32.8 133.5M32.8 133.5L40.5 133.5M40.5 133.5L48.2 133.5M48.2 133.5L55.9 133.5M55.9 133.5L63.6 133.5M71.3 133.5L79.0 133.5M79.0 133.5L86.7 133.5M86.7 133.5L94.4 133.5M94.4 133.5L102.1 133.5M102.1 133.5L109.8 133.5M109.8 133.5L117.5 133.5M117.5 133.5L125.2 133.5M125.2 133.5L132.9 133.5M132.9 133.5L140.6 133.5M148.3 133.5L156.0 133.5M163.7 133.5L171.4 133.5" stroke="#b83828" stroke-width="1.35" fill="none"/>
<path d="M25.1 139.5L27.7 139.5M45.6 139.5L48.2 139.5M99.5 139.5L102.1 139.5M130.3 139.5L132.9 139.5M163.7 139.5L166.3 139.5M20.0 143.5L21.2 145.5M22.5 143.5L21.2 145.5M88.0 141.5L89.3 143.5M21.2 145.5L23.8 145.5M106.0 145.5L108.5 145.5M21.2 145.5L20.0 147.8M21.2 145.5L22.5 147.8M70.0 150.2L71.3 152.5M72.6 150.2L71.3 152.5M93.1 150.2L94.4 152.5M139.3 150.2L140.6 152.5M167.6 145.5L168.8 147.8M17.4 152.5L20.0 152.5M79.0 152.5L81.6 152.5M140.6 152.5L143.2 152.5M27.7 156.5L28.9 158.5M79.0 152.5L80.3 154.5M145.7 156.5L144.4 158.5M21.2 158.5L23.8 158.5M103.4 158.5L106.0 158.5M21.2 158.5L20.0 160.8M20.0 160.8L18.7 163.2M21.2 158.5L22.5 160.8M27.7 160.8L26.4 163.2M106.0 158.5L104.7 160.8M104.7 160.8L103.4 163.2M167.6 158.5L168.8 160.8M168.8 160.8L170.1 163.2M170.1 163.2L171.4 165.5M27.7 165.5L30.2 165.5M30.2 165.5L32.8 165.5M102.1 165.5L104.7 165.5M79.0 165.5L77.7 167.8M102.1 165.5L103.4 167.8M54.6 172.5L57.2 172.5M134.2 176.5L132.9 178.5M144.4 172.5L143.2 174.5M61.0 183.2L59.8 185.5M132.9 178.5L134.2 180.8M25.1 191.5L23.8 193.8M23.8 193.8L22.5 196.2M50.8 196.2L52.0 198.5M53.3 196.2L52.0 198.5M122.6 196.2L121.4 198.5M49.5 198.5L52.0 198.5M121.4 198.5L120.1 200.5M149.6 202.5L148.3 204.5M148.3 204.5L150.9 204.5M17.4 204.5L18.7 206.8M162.4 206.8L161.1 209.2M161.1 209.2L159.8 211.5M168.8 209.2L167.6 211.5M49.5 211.5L52.0 211.5M44.4 211.5L43.1 213.5M44.4 211.5L45.6 213.5M20.0 217.5L22.5 217.5M25.1 217.5L27.7 217.5M145.7 217.5L148.3 217.5M168.8 217.5L171.4 217.5M25.1 217.5L23.8 219.8M43.1 222.2L44.4 224.5M156.0 217.5L154.7 219.8M156.0 217.5L157.3 219.8M171.4 217.5L170.1 219.8M44.4 224.5L46.9 224.5M20.0 226.5L18.7 228.5M27.7 226.5L26.4 228.5M34.1 228.5L32.8 230.5M53.3 226.5L54.6 228.5M108.5 228.5L109.8 230.5M111.1 228.5L109.8 230.5M159.8 224.5L161.1 226.5M20.0 230.5L22.5 230.5M27.7 230.5L30.2 230.5M94.4 230.5L97.0 230.5M97.0 230.5L99.5 230.5M102.1 230.5L104.7 230.5M109.8 230.5L112.4 230.5M18.7 232.8L20.0 235.2M111.1 237.5L113.7 237.5M113.7 237.5L116.2 237.5M126.5 237.5L129.1 237.5M131.6 237.5L134.2 237.5M134.2 237.5L136.8 237.5M136.8 237.5L139.3 237.5M159.8 237.5L162.4 237.5M34.1 241.5L32.8 243.5M113.7 237.5L114.9 239.5M131.6 241.5L132.9 243.5M136.8 237.5L138.0 239.5M138.0 239.5L139.3 241.5M152.2 237.5L153.4 239.5M132.9 243.5L135.5 243.5M32.8 243.5L31.5 245.8M39.2 245.8L37.9 248.2M102.1 243.5L103.4 245.8M95.7 250.5L98.2 250.5M23.8 254.5L25.1 256.5M26.4 254.5L25.1 256.5M62.3 254.5L63.6 256.5M64.9 254.5L63.6 256.5M103.4 254.5L102.1 256.5M25.1 256.5L27.7 256.5M45.6 256.5L48.2 256.5M25.1 256.5L23.8 258.8M126.5 263.5L129.1 263.5M18.7 267.5L17.4 269.5M27.7 265.5L26.4 267.5M59.8 263.5L58.5 265.5M17.4 269.5L20.0 269.5" stroke="#cb2c14" stroke-width="1.7" fill="none"/>
<path d="M27.7 139.5L30.2 139.5M31.5 141.5L30.2 143.5M100.8 141.5L99.5 143.5M138.0 143.5L136.8 145.5M136.8 145.5L138.0 147.8M143.2 147.8L141.9 150.2M149.6 150.2L148.3 152.5M170.1 150.2L171.4 152.5M30.2 152.5L32.8 152.5M32.8 152.5L35.4 152.5M81.6 152.5L84.1 152.5M130.3 152.5L132.9 152.5M37.9 156.5L36.6 158.5M80.3 154.5L81.6 156.5M171.4 152.5L170.1 154.5M62.3 158.5L64.9 158.5M64.9 158.5L67.5 158.5M154.7 158.5L157.3 158.5M61.0 160.8L62.3 163.2M158.6 160.8L157.3 163.2M166.3 160.8L165.0 163.2M63.6 165.5L66.2 165.5M89.3 165.5L91.8 165.5M139.3 172.5L141.9 172.5M165.0 172.5L167.6 172.5M135.5 174.5L134.2 176.5M61.0 178.5L63.6 178.5M31.5 180.8L30.2 183.2M40.5 178.5L41.8 180.8M31.5 185.5L34.1 185.5M52.0 185.5L54.6 185.5M22.5 187.5L23.8 189.5M49.5 189.5L48.2 191.5M48.2 191.5L46.9 193.8M26.4 198.5L28.9 198.5M41.8 198.5L44.4 198.5M44.4 198.5L46.9 198.5M54.6 198.5L57.2 198.5M116.2 198.5L118.8 198.5M129.1 198.5L131.6 198.5M28.9 198.5L27.7 200.5M44.4 198.5L45.6 200.5M58.5 200.5L57.2 202.5M150.9 200.5L149.6 202.5M161.1 200.5L162.4 202.5M132.9 204.5L135.5 204.5M150.9 204.5L153.4 204.5M130.3 209.2L129.1 211.5M126.5 211.5L129.1 211.5M28.9 211.5L27.7 213.5M46.9 215.5L48.2 217.5M49.5 215.5L48.2 217.5M107.2 213.5L108.5 215.5M165.0 215.5L163.7 217.5M40.5 217.5L43.1 217.5M43.1 217.5L45.6 217.5M163.7 217.5L166.3 217.5M49.5 219.8L50.8 222.2M50.8 222.2L52.0 224.5M168.8 222.2L167.6 224.5M52.0 224.5L54.6 224.5M98.2 224.5L100.8 224.5M126.5 224.5L129.1 224.5M165.0 224.5L167.6 224.5M37.9 226.5L39.2 228.5M68.7 226.5L70.0 228.5M73.9 226.5L72.6 228.5M143.2 226.5L141.9 228.5M50.8 230.5L53.3 230.5M114.9 230.5L117.5 230.5M117.5 230.5L120.1 230.5M93.1 232.8L91.8 235.2M141.9 232.8L143.2 235.2M106.0 237.5L108.5 237.5M118.8 237.5L121.4 237.5M121.4 237.5L123.9 237.5M106.0 237.5L107.2 239.5M40.5 243.5L41.8 245.8M68.7 248.2L67.5 250.5M118.8 245.8L120.1 248.2M120.1 248.2L121.4 250.5M166.3 248.2L167.6 250.5M57.2 250.5L59.8 250.5M64.9 250.5L67.5 250.5M118.8 250.5L121.4 250.5M121.4 250.5L123.9 250.5M59.8 250.5L61.0 252.5M147.0 254.5L148.3 256.5M58.5 256.5L61.0 256.5M171.4 256.5L170.1 258.8M57.2 267.5L55.9 269.5M130.3 265.5L131.6 267.5M153.4 265.5L154.7 267.5M158.6 265.5L157.3 267.5" stroke="#ebc025" stroke-width="1.7" fill="none"/>
<path d="M30.2 139.5L32.8 139.5M32.8 139.5L31.5 141.5M127.8 143.5L129.1 145.5M153.4 143.5L152.2 145.5M34.1 145.5L36.6 145.5M141.9 145.5L144.4 145.5M147.0 145.5L149.6 145.5M149.6 145.5L152.2 145.5M84.1 152.5L86.7 152.5M120.1 152.5L122.6 152.5M122.6 152.5L125.2 152.5M62.3 154.5L61.0 156.5M81.6 156.5L82.8 158.5M114.9 156.5L113.7 158.5M131.6 154.5L130.3 156.5M70.0 158.5L72.6 158.5M82.8 158.5L85.4 158.5M37.9 160.8L39.2 163.2M43.1 160.8L41.8 163.2M52.0 158.5L50.8 160.8M113.7 158.5L114.9 160.8M114.9 160.8L116.2 163.2M116.2 163.2L117.5 165.5M114.9 165.5L117.5 165.5M35.4 170.2L36.6 172.5M126.5 167.8L127.8 170.2M163.7 165.5L162.4 167.8M93.1 172.5L95.7 172.5M136.8 172.5L139.3 172.5M149.6 172.5L152.2 172.5M154.7 172.5L157.3 172.5M43.1 174.5L41.8 176.5M67.5 172.5L66.2 174.5M99.5 174.5L100.8 176.5M136.8 172.5L135.5 174.5M152.2 172.5L150.9 174.5M43.1 178.5L45.6 178.5M66.2 178.5L68.7 178.5M104.7 178.5L107.2 178.5M64.9 180.8L66.2 183.2M108.5 180.8L107.2 183.2M34.1 185.5L36.6 185.5M82.8 185.5L85.4 185.5M73.9 187.5L72.6 189.5M91.8 187.5L93.1 189.5M95.7 189.5L94.4 191.5M118.8 189.5L117.5 191.5M141.9 189.5L140.6 191.5M166.3 187.5L165.0 189.5M165.0 189.5L163.7 191.5M17.4 191.5L20.0 191.5M66.2 191.5L68.7 191.5M73.9 191.5L76.4 191.5M73.9 196.2L75.2 198.5M85.4 193.8L84.1 196.2M139.3 193.8L138.0 196.2M148.3 191.5L147.0 193.8M158.6 196.2L159.8 198.5M163.7 191.5L162.4 193.8M67.5 198.5L70.0 198.5M75.2 198.5L77.7 198.5M88.0 198.5L90.5 198.5M80.3 202.5L79.0 204.5M89.3 200.5L88.0 202.5M88.0 202.5L86.7 204.5M102.1 204.5L104.7 204.5M62.3 206.8L61.0 209.2M102.1 204.5L103.4 206.8M103.4 206.8L104.7 209.2M104.7 209.2L106.0 211.5M107.2 209.2L106.0 211.5M62.3 211.5L64.9 211.5M58.5 213.5L57.2 215.5M91.8 213.5L93.1 215.5M126.5 215.5L125.2 217.5M97.0 217.5L99.5 217.5M58.5 222.2L59.8 224.5M93.1 219.8L91.8 222.2M103.4 219.8L104.7 222.2M131.6 219.8L130.3 222.2M67.5 224.5L68.7 226.5M76.4 226.5L77.7 228.5M139.3 228.5L140.6 230.5M46.9 237.5L49.5 237.5M76.4 243.5L79.0 243.5M156.0 243.5L158.6 243.5M48.2 243.5L49.5 245.8M57.2 245.8L58.5 248.2M64.9 245.8L66.2 248.2M162.4 245.8L161.1 248.2M54.6 254.5L55.9 256.5M70.0 254.5L71.3 256.5M91.8 252.5L93.1 254.5M111.1 254.5L109.8 256.5M158.6 252.5L157.3 254.5M53.3 256.5L55.9 256.5M55.9 256.5L58.5 256.5M55.9 256.5L57.2 258.8M93.1 258.8L91.8 261.2M143.2 261.2L144.4 263.5M139.3 263.5L141.9 263.5M144.4 263.5L147.0 263.5M62.3 267.5L63.6 269.5M131.6 267.5L132.9 269.5M154.7 267.5L156.0 269.5M157.3 267.5L156.0 269.5M63.6 269.5L66.2 269.5" stroke="#48c621" stroke-width="1.7" fill="none"/>
<path d="M40.5 139.5L43.1 139.5M94.4 139.5L97.0 139.5M102.1 139.5L104.7 139.5M109.8 139.5L112.4 139.5M120.1 139.5L122.6 139.5M125.2 139.5L127.8 139.5M23.8 145.5L26.4 145.5M100.8 145.5L103.4 145.5M22.5 147.8L23.8 150.2M99.5 147.8L100.8 150.2M159.8 145.5L158.6 147.8M158.6 147.8L157.3 150.2M167.6 145.5L166.3 147.8M166.3 147.8L165.0 150.2M20.0 152.5L22.5 152.5M37.9 152.5L40.5 152.5M94.4 152.5L97.0 152.5M23.8 154.5L22.5 156.5M26.4 154.5L27.7 156.5M40.5 152.5L39.2 154.5M40.5 152.5L41.8 154.5M94.4 152.5L93.1 154.5M94.4 152.5L95.7 154.5M162.4 158.5L165.0 158.5M90.5 158.5L89.3 160.8M97.0 160.8L95.7 163.2M100.8 163.2L102.1 165.5M159.8 158.5L161.1 160.8M58.5 170.2L59.8 172.5M140.6 165.5L141.9 167.8M141.9 167.8L143.2 170.2M143.2 170.2L144.4 172.5M59.8 172.5L62.3 172.5M144.4 172.5L145.7 174.5M28.9 185.5L30.2 187.5M41.8 189.5L40.5 191.5M40.5 191.5L43.1 191.5M121.4 198.5L123.9 198.5M52.0 198.5L50.8 200.5M50.8 200.5L49.5 202.5M145.7 204.5L148.3 204.5M41.8 206.8L43.1 209.2M43.1 209.2L44.4 211.5M48.2 204.5L49.5 206.8M49.5 206.8L50.8 209.2M34.1 211.5L36.6 211.5M134.2 211.5L136.8 211.5M144.4 211.5L147.0 211.5M112.4 213.5L111.1 215.5M30.2 217.5L32.8 217.5M18.7 219.8L20.0 222.2M20.0 222.2L21.2 224.5M22.5 222.2L21.2 224.5M32.8 217.5L31.5 219.8M149.6 219.8L150.9 222.2M150.9 222.2L152.2 224.5M153.4 222.2L152.2 224.5M158.6 222.2L159.8 224.5M149.6 224.5L152.2 224.5M152.2 224.5L154.7 224.5M154.7 224.5L157.3 224.5M157.3 224.5L159.8 224.5M21.2 224.5L20.0 226.5M21.2 224.5L22.5 226.5M22.5 226.5L23.8 228.5M23.8 228.5L25.1 230.5M57.2 228.5L55.9 230.5M122.6 226.5L123.9 228.5M131.6 228.5L132.9 230.5M145.7 226.5L147.0 228.5M147.0 228.5L148.3 230.5M152.2 224.5L150.9 226.5M150.9 226.5L149.6 228.5M149.6 228.5L148.3 230.5M159.8 224.5L158.6 226.5M68.7 230.5L71.3 230.5M107.2 230.5L109.8 230.5M156.0 230.5L158.6 230.5M25.1 230.5L23.8 232.8M23.8 232.8L22.5 235.2M22.5 235.2L21.2 237.5M35.4 235.2L36.6 237.5M71.3 230.5L70.0 232.8M127.8 235.2L129.1 237.5M131.6 232.8L130.3 235.2M130.3 235.2L129.1 237.5M36.6 237.5L35.4 239.5M129.1 237.5L127.8 239.5M144.4 237.5L143.2 239.5M143.2 239.5L141.9 241.5M159.8 237.5L161.1 239.5M140.6 243.5L143.2 243.5M148.3 243.5L150.9 243.5M27.7 248.2L28.9 250.5M37.9 248.2L36.6 250.5M103.4 245.8L104.7 248.2M134.2 245.8L135.5 248.2M140.6 243.5L139.3 245.8M140.6 243.5L141.9 245.8M106.0 250.5L108.5 250.5M21.2 250.5L22.5 252.5M104.7 252.5L103.4 254.5M144.4 250.5L145.7 252.5M27.7 256.5L30.2 256.5M40.5 256.5L43.1 256.5M132.9 256.5L135.5 256.5M22.5 261.2L21.2 263.5M30.2 261.2L28.9 263.5M35.4 261.2L36.6 263.5M40.5 256.5L39.2 258.8M39.2 258.8L37.9 261.2M37.9 261.2L36.6 263.5M46.9 258.8L45.6 261.2M49.5 258.8L50.8 261.2M63.6 256.5L62.3 258.8M23.8 263.5L26.4 263.5M26.4 263.5L28.9 263.5M36.6 263.5L39.2 263.5M57.2 263.5L59.8 263.5M59.8 263.5L62.3 263.5M129.1 263.5L131.6 263.5M21.2 263.5L20.0 265.5M21.2 263.5L22.5 265.5M36.6 263.5L35.4 265.5M35.4 265.5L34.1 267.5M36.6 263.5L37.9 265.5M37.9 265.5L39.2 267.5M52.0 263.5L53.3 265.5M159.8 263.5L161.1 265.5M161.1 265.5L162.4 267.5M30.2 269.5L32.8 269.5M48.2 269.5L50.8 269.5" stroke="#be2114" stroke-width="1.7" fill="none"/>
<path d="M43.1 139.5L45.6 139.5M97.0 139.5L99.5 139.5M122.6 139.5L125.2 139.5M127.8 139.5L130.3 139.5M166.3 139.5L168.8 139.5M168.8 139.5L171.4 139.5M18.7 141.5L20.0 143.5M23.8 141.5L22.5 143.5M30.2 143.5L28.9 145.5M94.4 139.5L93.1 141.5M28.9 145.5L31.5 145.5M98.2 145.5L100.8 145.5M159.8 145.5L162.4 145.5M162.4 145.5L165.0 145.5M165.0 145.5L167.6 145.5M41.8 150.2L40.5 152.5M98.2 145.5L97.0 147.8M97.0 147.8L95.7 150.2M95.7 150.2L94.4 152.5M98.2 145.5L99.5 147.8M40.5 152.5L43.1 152.5M109.8 152.5L112.4 152.5M153.4 152.5L156.0 152.5M22.5 156.5L21.2 158.5M140.6 152.5L141.9 154.5M141.9 154.5L143.2 156.5M143.2 156.5L144.4 158.5M88.0 158.5L90.5 158.5M100.8 158.5L103.4 158.5M157.3 158.5L159.8 158.5M165.0 158.5L167.6 158.5M18.7 163.2L17.4 165.5M22.5 160.8L23.8 163.2M23.8 163.2L25.1 165.5M26.4 163.2L25.1 165.5M93.1 163.2L94.4 165.5M95.7 163.2L94.4 165.5M103.4 163.2L102.1 165.5M144.4 158.5L143.2 160.8M143.2 160.8L141.9 163.2M141.9 163.2L140.6 165.5M159.8 158.5L158.6 160.8M25.1 165.5L27.7 165.5M145.7 174.5L147.0 176.5M147.0 176.5L148.3 178.5M132.9 178.5L135.5 178.5M132.9 178.5L131.6 180.8M28.9 185.5L27.7 187.5M27.7 187.5L26.4 189.5M26.4 189.5L25.1 191.5M34.1 189.5L32.8 191.5M39.2 189.5L40.5 191.5M25.1 191.5L27.7 191.5M120.1 196.2L121.4 198.5M36.6 198.5L39.2 198.5M118.8 198.5L121.4 198.5M31.5 202.5L32.8 204.5M46.9 202.5L48.2 204.5M139.3 202.5L140.6 204.5M147.0 202.5L148.3 204.5M138.0 204.5L140.6 204.5M32.8 204.5L31.5 206.8M50.8 209.2L52.0 211.5M112.4 209.2L113.7 211.5M163.7 204.5L162.4 206.8M44.4 211.5L46.9 211.5M46.9 211.5L49.5 211.5M111.1 211.5L113.7 211.5M31.5 215.5L32.8 217.5M111.1 215.5L109.8 217.5M167.6 211.5L166.3 213.5M17.4 217.5L20.0 217.5M27.7 217.5L30.2 217.5M32.8 217.5L35.4 217.5M17.4 217.5L18.7 219.8M23.8 219.8L22.5 222.2M31.5 219.8L30.2 222.2M148.3 217.5L147.0 219.8M147.0 219.8L145.7 222.2M145.7 222.2L144.4 224.5M148.3 217.5L149.6 219.8M154.7 219.8L153.4 222.2M157.3 219.8L158.6 222.2M31.5 224.5L34.1 224.5M144.4 224.5L147.0 224.5M147.0 224.5L149.6 224.5M159.8 224.5L162.4 224.5M26.4 228.5L25.1 230.5M35.4 226.5L34.1 228.5M36.6 224.5L37.9 226.5M70.0 228.5L71.3 230.5M72.6 228.5L71.3 230.5M121.4 224.5L122.6 226.5M144.4 224.5L145.7 226.5M22.5 230.5L25.1 230.5M25.1 230.5L27.7 230.5M53.3 230.5L55.9 230.5M55.9 230.5L58.5 230.5M104.7 230.5L107.2 230.5M132.9 230.5L135.5 230.5M20.0 235.2L21.2 237.5M34.1 232.8L35.4 235.2M55.9 230.5L54.6 232.8M34.1 237.5L36.6 237.5M129.1 237.5L131.6 237.5M139.3 237.5L141.9 237.5M141.9 237.5L144.4 237.5M35.4 239.5L34.1 241.5M129.1 237.5L130.3 239.5M130.3 239.5L131.6 241.5M139.3 241.5L140.6 243.5M141.9 241.5L140.6 243.5M130.3 243.5L132.9 243.5M135.5 243.5L138.0 243.5M138.0 243.5L140.6 243.5M31.5 245.8L30.2 248.2M132.9 243.5L134.2 245.8M148.3 243.5L149.6 245.8M144.4 250.5L147.0 250.5M22.5 252.5L23.8 254.5M27.7 252.5L26.4 254.5M123.9 254.5L125.2 256.5M126.5 254.5L125.2 256.5M43.1 256.5L45.6 256.5M135.5 256.5L138.0 256.5M20.0 261.2L21.2 263.5M23.8 258.8L22.5 261.2M48.2 256.5L46.9 258.8M48.2 256.5L49.5 258.8M53.3 261.2L52.0 263.5M62.3 258.8L61.0 261.2M61.0 261.2L59.8 263.5M68.7 261.2L67.5 263.5M158.6 261.2L159.8 263.5M67.5 263.5L70.0 263.5M149.6 263.5L152.2 263.5M20.0 265.5L18.7 267.5M22.5 265.5L23.8 267.5M28.9 263.5L27.7 265.5M67.5 263.5L66.2 265.5M68.7 265.5L70.0 267.5M129.1 263.5L130.3 265.5M152.2 263.5L150.9 265.5M152.2 263.5L153.4 265.5M162.4 267.5L163.7 269.5M27.7 269.5L30.2 269.5M163.7 269.5L166.3 269.5M166.3 269.5L168.8 269.5M168.8 269.5L171.4 269.5" stroke="#c52714" stroke-width="1.7" fill="none"/>
<path d="M48.2 139.5L50.8 139.5M34.1 141.5L35.4 143.5M35.4 143.5L36.6 145.5M66.2 143.5L67.5 145.5M68.7 143.5L67.5 145.5M131.6 141.5L130.3 143.5M36.6 145.5L39.2 145.5M111.1 145.5L113.7 145.5M58.5 147.8L57.2 150.2M63.6 152.5L62.3 154.5M86.7 152.5L85.4 154.5M85.4 154.5L84.1 156.5M84.1 156.5L82.8 158.5M118.8 154.5L120.1 156.5M126.5 154.5L127.8 156.5M138.0 156.5L136.8 158.5M150.9 156.5L152.2 158.5M136.8 158.5L139.3 158.5M39.2 163.2L40.5 165.5M41.8 163.2L40.5 165.5M72.6 163.2L71.3 165.5M75.2 158.5L76.4 160.8M82.8 158.5L84.1 160.8M131.6 163.2L132.9 165.5M134.2 163.2L132.9 165.5M136.8 158.5L138.0 160.8M45.6 170.2L44.4 172.5M85.4 167.8L84.1 170.2M122.6 170.2L121.4 172.5M150.9 170.2L152.2 172.5M156.0 165.5L157.3 167.8M28.9 172.5L31.5 172.5M31.5 172.5L34.1 172.5M34.1 172.5L36.6 172.5M36.6 172.5L39.2 172.5M77.7 172.5L80.3 172.5M28.9 172.5L30.2 174.5M44.4 172.5L43.1 174.5M95.7 176.5L94.4 178.5M121.4 172.5L120.1 174.5M152.2 172.5L153.4 174.5M165.0 176.5L163.7 178.5M27.7 178.5L30.2 178.5M68.7 178.5L71.3 178.5M81.6 178.5L84.1 178.5M18.7 180.8L20.0 183.2M25.1 178.5L26.4 180.8M66.2 183.2L67.5 185.5M102.1 178.5L103.4 180.8M103.4 180.8L104.7 183.2M104.7 183.2L106.0 185.5M165.0 180.8L166.3 183.2M77.7 185.5L80.3 185.5M62.3 189.5L63.6 191.5M67.5 185.5L68.7 187.5M84.1 187.5L85.4 189.5M106.0 185.5L107.2 187.5M114.9 187.5L116.2 189.5M159.8 185.5L161.1 187.5M170.1 189.5L171.4 191.5M120.1 191.5L122.6 191.5M168.8 191.5L171.4 191.5M64.9 193.8L66.2 196.2M88.0 193.8L89.3 196.2M95.7 193.8L97.0 196.2M102.1 191.5L100.8 193.8M102.1 191.5L103.4 193.8M103.4 193.8L104.7 196.2M166.3 196.2L167.6 198.5M168.8 196.2L167.6 198.5M165.0 198.5L167.6 198.5M62.3 202.5L63.6 204.5M64.9 202.5L63.6 204.5M107.2 200.5L108.5 202.5M89.3 204.5L91.8 204.5M112.4 204.5L114.9 204.5M117.5 204.5L120.1 204.5M63.6 204.5L64.9 206.8M64.9 206.8L66.2 209.2M66.2 209.2L67.5 211.5M80.3 211.5L82.8 211.5M85.4 211.5L88.0 211.5M88.0 211.5L90.5 211.5M100.8 211.5L103.4 211.5M67.5 211.5L66.2 213.5M67.5 211.5L68.7 213.5M73.9 213.5L72.6 215.5M81.6 213.5L80.3 215.5M82.8 211.5L84.1 213.5M98.2 211.5L97.0 213.5M103.4 215.5L102.1 217.5M131.6 215.5L132.9 217.5M66.2 217.5L68.7 217.5M73.9 217.5L76.4 217.5M70.0 219.8L68.7 222.2M72.6 219.8L73.9 222.2M91.8 222.2L90.5 224.5M132.9 217.5L131.6 219.8M49.5 228.5L48.2 230.5M66.2 226.5L64.9 228.5M75.2 224.5L76.4 226.5M88.0 228.5L86.7 230.5M40.5 230.5L41.8 232.8M53.3 235.2L52.0 237.5M86.7 230.5L88.0 232.8M99.5 235.2L98.2 237.5M93.1 237.5L95.7 237.5M49.5 241.5L48.2 243.5M57.2 241.5L55.9 243.5M67.5 237.5L66.2 239.5M98.2 237.5L99.5 239.5M48.2 243.5L50.8 243.5M50.8 243.5L53.3 243.5M168.8 243.5L171.4 243.5M43.1 248.2L44.4 250.5M48.2 243.5L46.9 245.8M55.9 243.5L57.2 245.8M80.3 245.8L81.6 248.2M75.2 250.5L77.7 250.5M44.4 250.5L45.6 252.5M159.8 250.5L161.1 252.5M161.1 252.5L162.4 254.5M117.5 256.5L120.1 256.5M84.1 261.2L82.8 263.5M122.6 261.2L121.4 263.5M80.3 263.5L82.8 263.5M85.4 263.5L88.0 263.5M88.0 263.5L90.5 263.5M121.4 263.5L123.9 263.5M75.2 263.5L73.9 265.5M82.8 263.5L84.1 265.5M116.2 267.5L117.5 269.5M118.8 267.5L117.5 269.5M134.2 267.5L132.9 269.5M144.4 263.5L143.2 265.5M114.9 269.5L117.5 269.5M130.3 269.5L132.9 269.5M153.4 269.5L156.0 269.5" stroke="#23b41c" stroke-width="1.7" fill="none"/>
<path d="M50.8 139.5L53.3 139.5M32.8 139.5L34.1 141.5M73.9 143.5L75.2 145.5M132.9 139.5L131.6 141.5M46.9 145.5L49.5 145.5M59.8 145.5L58.5 147.8M114.9 147.8L116.2 150.2M120.1 156.5L121.4 158.5M130.3 156.5L129.1 158.5M72.6 158.5L75.2 158.5M80.3 158.5L82.8 158.5M118.8 158.5L121.4 158.5M121.4 158.5L120.1 160.8M135.5 160.8L134.2 163.2M149.6 163.2L148.3 165.5M120.1 165.5L122.6 165.5M130.3 165.5L132.9 165.5M148.3 165.5L150.9 165.5M84.1 170.2L82.8 172.5M148.3 165.5L149.6 167.8M149.6 167.8L150.9 170.2M39.2 172.5L41.8 172.5M80.3 172.5L82.8 172.5M77.7 176.5L79.0 178.5M153.4 174.5L154.7 176.5M157.3 176.5L156.0 178.5M45.6 178.5L48.2 178.5M79.0 178.5L81.6 178.5M48.2 178.5L49.5 180.8M79.0 178.5L80.3 180.8M156.0 178.5L154.7 180.8M163.7 178.5L165.0 180.8M75.2 185.5L73.9 187.5M107.2 187.5L108.5 189.5M108.5 189.5L109.8 191.5M111.1 189.5L109.8 191.5M123.9 189.5L125.2 191.5M126.5 189.5L125.2 191.5M63.6 191.5L66.2 191.5M76.4 191.5L79.0 191.5M89.3 191.5L91.8 191.5M122.6 191.5L125.2 191.5M125.2 191.5L127.8 191.5M86.7 191.5L85.4 193.8M97.0 196.2L98.2 198.5M100.8 193.8L99.5 196.2M104.7 196.2L106.0 198.5M109.8 191.5L108.5 193.8M108.5 193.8L107.2 196.2M107.2 196.2L106.0 198.5M109.8 191.5L111.1 193.8M111.1 193.8L112.4 196.2M112.4 196.2L113.7 198.5M171.4 191.5L170.1 193.8M170.1 193.8L168.8 196.2M106.0 198.5L108.5 198.5M108.5 198.5L111.1 198.5M111.1 198.5L113.7 198.5M73.9 200.5L72.6 202.5M91.8 200.5L93.1 202.5M106.0 198.5L107.2 200.5M167.6 198.5L168.8 200.5M168.8 200.5L170.1 202.5M63.6 204.5L66.2 204.5M73.9 204.5L76.4 204.5M68.7 209.2L67.5 211.5M77.7 206.8L76.4 209.2M99.5 209.2L98.2 211.5M117.5 204.5L118.8 206.8M77.7 211.5L80.3 211.5M90.5 211.5L93.1 211.5M93.1 211.5L95.7 211.5M98.2 211.5L100.8 211.5M62.3 215.5L63.6 217.5M66.2 213.5L64.9 215.5M80.3 215.5L79.0 217.5M84.1 213.5L85.4 215.5M99.5 213.5L100.8 215.5M100.8 215.5L102.1 217.5M63.6 217.5L66.2 217.5M76.4 217.5L79.0 217.5M132.9 217.5L135.5 217.5M63.6 217.5L62.3 219.8M64.9 219.8L66.2 222.2M66.2 222.2L67.5 224.5M68.7 222.2L67.5 224.5M73.9 222.2L75.2 224.5M132.9 217.5L134.2 219.8M67.5 224.5L66.2 226.5M82.8 224.5L81.6 226.5M84.1 226.5L85.4 228.5M85.4 228.5L86.7 230.5M90.5 224.5L89.3 226.5M89.3 226.5L88.0 228.5M40.5 230.5L43.1 230.5M86.7 230.5L85.4 232.8M166.3 235.2L167.6 237.5M49.5 237.5L52.0 237.5M54.6 237.5L57.2 237.5M77.7 237.5L80.3 237.5M85.4 237.5L88.0 237.5M98.2 237.5L100.8 237.5M50.8 239.5L49.5 241.5M54.6 241.5L55.9 243.5M61.0 239.5L62.3 241.5M66.2 239.5L64.9 241.5M81.6 239.5L80.3 241.5M167.6 237.5L166.3 239.5M168.8 239.5L170.1 241.5M170.1 241.5L171.4 243.5M53.3 243.5L55.9 243.5M55.9 243.5L58.5 243.5M46.9 245.8L45.6 248.2M63.6 243.5L64.9 245.8M93.1 245.8L91.8 248.2M85.4 250.5L88.0 250.5M81.6 252.5L80.3 254.5M162.4 254.5L163.7 256.5M112.4 256.5L114.9 256.5M72.6 258.8L73.9 261.2M77.7 258.8L76.4 261.2M85.4 258.8L84.1 261.2M108.5 258.8L107.2 261.2M111.1 258.8L112.4 261.2M77.7 263.5L80.3 263.5M90.5 263.5L93.1 263.5M84.1 265.5L85.4 267.5M106.0 263.5L104.7 265.5M114.9 265.5L116.2 267.5M122.6 265.5L123.9 267.5M139.3 267.5L140.6 269.5M143.2 265.5L141.9 267.5M112.4 269.5L114.9 269.5M132.9 269.5L135.5 269.5" stroke="#20af1b" stroke-width="1.7" fill="none"/>
<path d="M53.3 139.5L55.9 139.5M55.9 139.5L57.2 141.5M57.2 141.5L58.5 143.5M58.5 143.5L59.8 145.5M114.9 143.5L113.7 145.5M57.2 145.5L59.8 145.5M59.8 145.5L61.0 147.8M61.0 147.8L62.3 150.2M62.3 150.2L63.6 152.5M67.5 145.5L66.2 147.8M66.2 147.8L64.9 150.2M64.9 150.2L63.6 152.5M127.8 156.5L129.1 158.5M77.7 158.5L80.3 158.5M121.4 158.5L123.9 158.5M123.9 158.5L126.5 158.5M73.9 160.8L72.6 163.2M121.4 158.5L122.6 160.8M130.3 160.8L131.6 163.2M136.8 158.5L135.5 160.8M152.2 158.5L150.9 160.8M150.9 160.8L149.6 163.2M152.2 158.5L153.4 160.8M153.4 160.8L154.7 163.2M154.7 163.2L156.0 165.5M127.8 165.5L130.3 165.5M150.9 165.5L153.4 165.5M153.4 165.5L156.0 165.5M123.9 167.8L122.6 170.2M125.2 165.5L126.5 167.8M41.8 172.5L44.4 172.5M82.8 172.5L81.6 174.5M81.6 174.5L80.3 176.5M80.3 176.5L79.0 178.5M116.2 176.5L117.5 178.5M120.1 174.5L118.8 176.5M154.7 176.5L156.0 178.5M25.1 178.5L27.7 178.5M71.3 178.5L73.9 178.5M73.9 178.5L76.4 178.5M76.4 178.5L79.0 178.5M114.9 178.5L117.5 178.5M117.5 178.5L120.1 178.5M17.4 178.5L18.7 180.8M71.3 178.5L70.0 180.8M70.0 180.8L68.7 183.2M68.7 183.2L67.5 185.5M71.3 178.5L72.6 180.8M79.0 178.5L77.7 180.8M77.7 180.8L76.4 183.2M112.4 183.2L113.7 185.5M117.5 178.5L118.8 180.8M67.5 185.5L70.0 185.5M70.0 185.5L72.6 185.5M75.2 185.5L77.7 185.5M113.7 185.5L116.2 185.5M85.4 189.5L86.7 191.5M112.4 187.5L111.1 189.5M113.7 185.5L114.9 187.5M61.0 191.5L63.6 191.5M63.6 191.5L64.9 193.8M86.7 191.5L88.0 193.8M99.5 196.2L98.2 198.5M98.2 198.5L100.8 198.5M100.8 198.5L103.4 198.5M103.4 198.5L106.0 198.5M72.6 202.5L71.3 204.5M98.2 198.5L97.0 200.5M170.1 202.5L171.4 204.5M66.2 204.5L68.7 204.5M91.8 204.5L94.4 204.5M114.9 204.5L117.5 204.5M70.0 206.8L68.7 209.2M76.4 209.2L75.2 211.5M97.0 209.2L98.2 211.5M75.2 211.5L77.7 211.5M95.7 211.5L98.2 211.5M64.9 215.5L63.6 217.5M75.2 211.5L73.9 213.5M75.2 211.5L76.4 213.5M76.4 213.5L77.7 215.5M77.7 215.5L79.0 217.5M98.2 211.5L99.5 213.5M79.0 217.5L81.6 217.5M86.7 217.5L89.3 217.5M63.6 217.5L64.9 219.8M79.0 217.5L77.7 219.8M77.7 219.8L76.4 222.2M76.4 222.2L75.2 224.5M79.0 217.5L80.3 219.8M80.3 219.8L81.6 222.2M88.0 219.8L89.3 222.2M89.3 222.2L90.5 224.5M75.2 224.5L77.7 224.5M77.7 224.5L80.3 224.5M82.8 224.5L84.1 226.5M43.1 230.5L45.6 230.5M45.6 230.5L48.2 230.5M48.2 230.5L49.5 232.8M81.6 235.2L82.8 237.5M85.4 232.8L84.1 235.2M95.7 237.5L98.2 237.5M53.3 239.5L54.6 241.5M82.8 237.5L84.1 239.5M167.6 237.5L168.8 239.5M58.5 243.5L61.0 243.5M63.6 243.5L66.2 243.5M91.8 243.5L94.4 243.5M45.6 248.2L44.4 250.5M63.6 243.5L62.3 245.8M84.1 248.2L82.8 250.5M77.7 250.5L80.3 250.5M116.2 254.5L117.5 256.5M86.7 256.5L89.3 256.5M73.9 261.2L75.2 263.5M76.4 261.2L75.2 263.5M97.0 261.2L98.2 263.5M107.2 261.2L106.0 263.5M112.4 261.2L113.7 263.5M75.2 263.5L77.7 263.5M93.1 263.5L95.7 263.5M98.2 263.5L97.0 265.5M113.7 263.5L114.9 265.5M120.1 265.5L118.8 267.5M141.9 267.5L140.6 269.5M107.2 269.5L109.8 269.5M135.5 269.5L138.0 269.5M138.0 269.5L140.6 269.5" stroke="#1daa1a" stroke-width="1.7" fill="none"/>
<path d="M71.3 139.5L73.9 139.5M40.5 139.5L41.8 141.5M134.2 145.5L136.8 145.5M136.8 145.5L139.3 145.5M139.3 154.5L138.0 156.5M36.6 158.5L39.2 158.5M39.2 158.5L41.8 158.5M44.4 158.5L46.9 158.5M50.8 160.8L49.5 163.2M76.4 160.8L77.7 163.2M138.0 160.8L139.3 163.2M145.7 160.8L147.0 163.2M31.5 167.8L30.2 170.2M34.1 167.8L35.4 170.2M97.0 170.2L98.2 172.5M109.8 165.5L108.5 167.8M127.8 170.2L129.1 172.5M23.8 172.5L26.4 172.5M159.8 172.5L162.4 172.5M41.8 176.5L40.5 178.5M106.0 172.5L104.7 174.5M113.7 172.5L112.4 174.5M167.6 172.5L166.3 174.5M40.5 178.5L43.1 178.5M63.6 178.5L66.2 178.5M26.4 180.8L27.7 183.2M43.1 183.2L44.4 185.5M63.6 178.5L64.9 180.8M99.5 183.2L98.2 185.5M123.9 180.8L122.6 183.2M122.6 183.2L121.4 185.5M135.5 183.2L136.8 185.5M140.6 178.5L141.9 180.8M46.9 185.5L49.5 185.5M49.5 185.5L52.0 185.5M62.3 185.5L64.9 185.5M93.1 185.5L95.7 185.5M98.2 185.5L100.8 185.5M136.8 185.5L139.3 185.5M57.2 189.5L55.9 191.5M70.0 189.5L71.3 191.5M72.6 189.5L71.3 191.5M98.2 185.5L97.0 187.5M152.2 185.5L153.4 187.5M153.4 187.5L154.7 189.5M154.7 189.5L156.0 191.5M68.7 191.5L71.3 191.5M71.3 191.5L73.9 191.5M45.6 196.2L44.4 198.5M55.9 191.5L54.6 193.8M80.3 198.5L82.8 198.5M82.8 198.5L85.4 198.5M82.8 198.5L81.6 200.5M135.5 200.5L134.2 202.5M134.2 202.5L132.9 204.5M166.3 204.5L168.8 204.5M57.2 211.5L59.8 211.5M152.2 211.5L154.7 211.5M152.2 211.5L153.4 213.5M48.2 217.5L50.8 217.5M112.4 217.5L114.9 217.5M118.8 219.8L120.1 222.2M103.4 224.5L106.0 224.5M131.6 224.5L134.2 224.5M91.8 226.5L93.1 228.5M162.4 228.5L163.7 230.5M167.6 224.5L168.8 226.5M168.8 226.5L170.1 228.5M43.1 235.2L44.4 237.5M79.0 230.5L77.7 232.8M44.4 237.5L46.9 237.5M84.1 243.5L86.7 243.5M49.5 245.8L50.8 248.2M66.2 248.2L67.5 250.5M71.3 243.5L70.0 245.8M53.3 252.5L54.6 254.5M113.7 250.5L112.4 252.5M94.4 256.5L97.0 256.5M120.1 256.5L122.6 256.5M148.3 256.5L150.9 256.5M150.9 256.5L153.4 256.5M153.4 256.5L156.0 256.5M123.9 258.8L122.6 261.2M141.9 258.8L143.2 261.2M123.9 263.5L126.5 263.5M134.2 263.5L136.8 263.5M66.2 269.5L68.7 269.5M94.4 269.5L97.0 269.5M97.0 269.5L99.5 269.5M99.5 269.5L102.1 269.5" stroke="#cada28" stroke-width="1.7" fill="none"/>
<path d="M73.9 139.5L76.4 139.5M81.6 143.5L82.8 145.5M31.5 145.5L34.1 145.5M154.7 145.5L157.3 145.5M43.1 147.8L41.8 150.2M43.1 152.5L45.6 152.5M112.4 152.5L114.9 152.5M31.5 154.5L30.2 156.5M43.1 156.5L44.4 158.5M31.5 158.5L34.1 158.5M85.4 158.5L88.0 158.5M62.3 163.2L63.6 165.5M67.5 158.5L66.2 160.8M66.2 160.8L64.9 163.2M50.8 170.2L52.0 172.5M77.7 167.8L76.4 170.2M104.7 170.2L106.0 172.5M52.0 172.5L53.3 174.5M53.3 174.5L54.6 176.5M54.6 176.5L55.9 178.5M167.6 172.5L168.8 174.5M55.9 178.5L58.5 178.5M58.5 178.5L61.0 178.5M63.6 178.5L62.3 180.8M141.9 180.8L143.2 183.2M23.8 185.5L26.4 185.5M139.3 185.5L141.9 185.5M35.4 187.5L34.1 189.5M37.9 187.5L39.2 189.5M30.2 196.2L28.9 198.5M28.9 198.5L30.2 200.5M20.0 209.2L21.2 211.5M30.2 209.2L28.9 211.5M111.1 206.8L112.4 209.2M28.9 211.5L31.5 211.5M54.6 211.5L57.2 211.5M154.7 211.5L157.3 211.5M21.2 211.5L22.5 213.5M28.9 211.5L30.2 213.5M153.4 213.5L154.7 215.5M104.7 226.5L103.4 228.5M129.1 224.5L127.8 226.5M129.1 224.5L130.3 226.5M58.5 230.5L61.0 230.5M76.4 230.5L79.0 230.5M135.5 230.5L138.0 230.5M30.2 235.2L28.9 237.5M70.0 232.8L68.7 235.2M122.6 235.2L121.4 237.5M28.9 237.5L30.2 239.5M116.2 241.5L117.5 243.5M153.4 239.5L154.7 241.5M114.9 243.5L117.5 243.5M117.5 243.5L120.1 243.5M112.4 248.2L113.7 250.5M149.6 245.8L150.9 248.2M93.1 250.5L95.7 250.5M111.1 250.5L113.7 250.5M123.9 250.5L126.5 250.5M126.5 250.5L129.1 250.5M147.0 250.5L149.6 250.5M67.5 250.5L66.2 252.5M121.4 250.5L122.6 252.5M97.0 256.5L99.5 256.5M17.4 256.5L18.7 258.8M54.6 258.8L53.3 261.2M70.0 258.8L68.7 261.2M147.0 263.5L149.6 263.5M54.6 267.5L55.9 269.5M66.2 265.5L64.9 267.5M150.9 265.5L149.6 267.5M53.3 269.5L55.9 269.5" stroke="#eba421" stroke-width="1.7" fill="none"/>
<path d="M76.4 139.5L79.0 139.5M27.7 152.5L30.2 152.5M35.4 152.5L37.9 152.5M143.2 152.5L145.7 152.5M39.2 154.5L37.9 156.5M41.8 154.5L43.1 156.5M140.6 152.5L139.3 154.5M147.0 154.5L145.7 156.5M141.9 158.5L144.4 158.5M34.1 163.2L32.8 165.5M139.3 163.2L140.6 165.5M144.4 158.5L145.7 160.8M167.6 158.5L166.3 160.8M91.8 165.5L94.4 165.5M48.2 165.5L49.5 167.8M149.6 176.5L148.3 178.5M170.1 176.5L171.4 178.5M27.7 183.2L28.9 185.5M143.2 183.2L144.4 185.5M59.8 185.5L62.3 185.5M141.9 185.5L144.4 185.5M43.1 187.5L41.8 189.5M59.8 185.5L61.0 187.5M22.5 191.5L25.1 191.5M49.5 193.8L50.8 196.2M30.2 200.5L31.5 202.5M57.2 202.5L55.9 204.5M162.4 202.5L163.7 204.5M165.0 202.5L163.7 204.5M55.9 204.5L58.5 204.5M135.5 204.5L138.0 204.5M163.7 204.5L166.3 204.5M31.5 206.8L30.2 209.2M147.0 211.5L149.6 211.5M157.3 211.5L159.8 211.5M23.8 215.5L25.1 217.5M26.4 215.5L25.1 217.5M30.2 213.5L31.5 215.5M43.1 213.5L41.8 215.5M52.0 211.5L53.3 213.5M166.3 213.5L165.0 215.5M107.2 217.5L109.8 217.5M109.8 217.5L112.4 217.5M41.8 219.8L43.1 222.2M122.6 222.2L121.4 224.5M46.9 224.5L49.5 224.5M93.1 228.5L94.4 230.5M103.4 228.5L102.1 230.5M130.3 226.5L131.6 228.5M144.4 224.5L143.2 226.5M91.8 230.5L94.4 230.5M120.1 230.5L122.6 230.5M32.8 230.5L31.5 232.8M94.4 230.5L93.1 232.8M102.1 230.5L103.4 232.8M31.5 237.5L34.1 237.5M31.5 241.5L32.8 243.5M103.4 241.5L102.1 243.5M107.2 239.5L108.5 241.5M32.8 243.5L35.4 243.5M131.6 245.8L130.3 248.2M52.0 250.5L54.6 250.5M108.5 250.5L111.1 250.5M66.2 252.5L64.9 254.5M122.6 252.5L123.9 254.5M145.7 252.5L147.0 254.5M99.5 256.5L102.1 256.5M18.7 258.8L20.0 261.2M59.8 263.5L61.0 265.5M165.0 267.5L163.7 269.5M170.1 267.5L171.4 269.5" stroke="#da4f17" stroke-width="1.7" fill="none"/>
<path d="M104.7 139.5L107.2 139.5M117.5 139.5L120.1 139.5M17.4 139.5L18.7 141.5M25.1 139.5L23.8 141.5M86.7 139.5L88.0 141.5M103.4 145.5L106.0 145.5M100.8 150.2L102.1 152.5M157.3 150.2L156.0 152.5M165.0 150.2L163.7 152.5M25.1 152.5L27.7 152.5M71.3 152.5L73.9 152.5M73.9 152.5L76.4 152.5M76.4 152.5L79.0 152.5M97.0 152.5L99.5 152.5M99.5 152.5L102.1 152.5M104.7 152.5L107.2 152.5M107.2 152.5L109.8 152.5M156.0 152.5L158.6 152.5M158.6 152.5L161.1 152.5M161.1 152.5L163.7 152.5M93.1 154.5L91.8 156.5M95.7 154.5L97.0 156.5M97.0 156.5L98.2 158.5M156.0 152.5L157.3 154.5M98.2 158.5L100.8 158.5M91.8 160.8L93.1 163.2M98.2 158.5L97.0 160.8M98.2 158.5L99.5 160.8M99.5 160.8L100.8 163.2M57.2 172.5L59.8 172.5M59.8 172.5L61.0 174.5M30.2 187.5L31.5 189.5M27.7 191.5L30.2 191.5M32.8 191.5L31.5 193.8M35.4 196.2L36.6 198.5M36.6 198.5L35.4 200.5M35.4 200.5L34.1 202.5M34.1 202.5L32.8 204.5M36.6 198.5L37.9 200.5M37.9 200.5L39.2 202.5M49.5 202.5L48.2 204.5M32.8 204.5L35.4 204.5M35.4 204.5L37.9 204.5M43.1 204.5L45.6 204.5M45.6 204.5L48.2 204.5M140.6 204.5L143.2 204.5M143.2 204.5L145.7 204.5M32.8 204.5L34.1 206.8M40.5 204.5L41.8 206.8M140.6 204.5L139.3 206.8M139.3 206.8L138.0 209.2M140.6 204.5L141.9 206.8M36.6 211.5L37.9 213.5M113.7 211.5L112.4 213.5M37.9 222.2L36.6 224.5M34.1 224.5L36.6 224.5M36.6 224.5L35.4 226.5M54.6 228.5L55.9 230.5M126.5 228.5L125.2 230.5M152.2 224.5L153.4 226.5M153.4 226.5L154.7 228.5M158.6 226.5L157.3 228.5M71.3 230.5L73.9 230.5M122.6 230.5L125.2 230.5M148.3 230.5L150.9 230.5M150.9 230.5L153.4 230.5M125.2 230.5L123.9 232.8M126.5 232.8L127.8 235.2M132.9 230.5L131.6 232.8M154.7 232.8L153.4 235.2M153.4 235.2L152.2 237.5M152.2 237.5L154.7 237.5M154.7 237.5L157.3 237.5M108.5 241.5L109.8 243.5M127.8 239.5L126.5 241.5M152.2 237.5L150.9 239.5M109.8 243.5L112.4 243.5M122.6 243.5L125.2 243.5M127.8 243.5L130.3 243.5M143.2 243.5L145.7 243.5M30.2 248.2L28.9 250.5M109.8 243.5L111.1 245.8M135.5 248.2L136.8 250.5M139.3 245.8L138.0 248.2M141.9 245.8L143.2 248.2M143.2 248.2L144.4 250.5M28.9 250.5L31.5 250.5M31.5 250.5L34.1 250.5M34.1 250.5L36.6 250.5M98.2 250.5L100.8 250.5M28.9 250.5L27.7 252.5M28.9 250.5L30.2 252.5M36.6 250.5L37.9 252.5M37.9 252.5L39.2 254.5M39.2 254.5L40.5 256.5M134.2 254.5L132.9 256.5M30.2 256.5L32.8 256.5M35.4 256.5L37.9 256.5M37.9 256.5L40.5 256.5M125.2 256.5L127.8 256.5M127.8 256.5L130.3 256.5M130.3 256.5L132.9 256.5M31.5 258.8L30.2 261.2M34.1 258.8L35.4 261.2M40.5 256.5L41.8 258.8M41.8 258.8L43.1 261.2M45.6 261.2L44.4 263.5M50.8 261.2L52.0 263.5M125.2 256.5L126.5 258.8M126.5 258.8L127.8 261.2M21.2 263.5L23.8 263.5M39.2 263.5L41.8 263.5M54.6 263.5L57.2 263.5M62.3 263.5L64.9 263.5M152.2 263.5L154.7 263.5M154.7 263.5L157.3 263.5M157.3 263.5L159.8 263.5M34.1 267.5L32.8 269.5M39.2 267.5L40.5 269.5M41.8 267.5L40.5 269.5M67.5 263.5L68.7 265.5M32.8 269.5L35.4 269.5M35.4 269.5L37.9 269.5M37.9 269.5L40.5 269.5M40.5 269.5L43.1 269.5" stroke="#b71b14" stroke-width="1.7" fill="none"/>
<path d="M107.2 139.5L109.8 139.5M132.9 139.5L135.5 139.5M135.5 139.5L138.0 139.5M138.0 139.5L140.6 139.5M140.6 139.5L143.2 139.5M109.8 139.5L108.5 141.5M108.5 141.5L107.2 143.5M107.2 143.5L106.0 145.5M26.4 145.5L28.9 145.5M23.8 150.2L25.1 152.5M22.5 152.5L25.1 152.5M102.1 152.5L104.7 152.5M25.1 152.5L23.8 154.5M25.1 152.5L26.4 154.5M91.8 156.5L90.5 158.5M102.1 152.5L100.8 154.5M100.8 154.5L99.5 156.5M99.5 156.5L98.2 158.5M157.3 154.5L158.6 156.5M158.6 156.5L159.8 158.5M163.7 152.5L162.4 154.5M162.4 154.5L161.1 156.5M93.1 158.5L95.7 158.5M95.7 158.5L98.2 158.5M159.8 158.5L162.4 158.5M90.5 158.5L91.8 160.8M31.5 189.5L32.8 191.5M30.2 191.5L32.8 191.5M32.8 191.5L35.4 191.5M35.4 191.5L37.9 191.5M37.9 191.5L40.5 191.5M32.8 191.5L34.1 193.8M34.1 193.8L35.4 196.2M39.2 202.5L40.5 204.5M37.9 204.5L40.5 204.5M40.5 204.5L43.1 204.5M34.1 206.8L35.4 209.2M35.4 209.2L36.6 211.5M40.5 204.5L39.2 206.8M39.2 206.8L37.9 209.2M37.9 209.2L36.6 211.5M138.0 209.2L136.8 211.5M141.9 206.8L143.2 209.2M143.2 209.2L144.4 211.5M136.8 211.5L139.3 211.5M139.3 211.5L141.9 211.5M141.9 211.5L144.4 211.5M123.9 228.5L125.2 230.5M154.7 228.5L156.0 230.5M157.3 228.5L156.0 230.5M127.8 230.5L130.3 230.5M130.3 230.5L132.9 230.5M153.4 230.5L156.0 230.5M125.2 230.5L126.5 232.8M156.0 230.5L154.7 232.8M157.3 237.5L159.8 237.5M126.5 241.5L125.2 243.5M150.9 239.5L149.6 241.5M149.6 241.5L148.3 243.5M125.2 243.5L127.8 243.5M145.7 243.5L148.3 243.5M104.7 248.2L106.0 250.5M138.0 248.2L136.8 250.5M100.8 250.5L103.4 250.5M103.4 250.5L106.0 250.5M136.8 250.5L139.3 250.5M139.3 250.5L141.9 250.5M141.9 250.5L144.4 250.5M30.2 252.5L31.5 254.5M31.5 254.5L32.8 256.5M106.0 250.5L104.7 252.5M136.8 250.5L135.5 252.5M135.5 252.5L134.2 254.5M32.8 256.5L35.4 256.5M32.8 256.5L31.5 258.8M32.8 256.5L34.1 258.8M43.1 261.2L44.4 263.5M127.8 261.2L129.1 263.5M41.8 263.5L44.4 263.5M44.4 263.5L46.9 263.5M46.9 263.5L49.5 263.5M49.5 263.5L52.0 263.5M52.0 263.5L54.6 263.5M64.9 263.5L67.5 263.5M44.4 263.5L43.1 265.5M43.1 265.5L41.8 267.5M52.0 263.5L50.8 265.5M50.8 265.5L49.5 267.5M49.5 267.5L48.2 269.5M43.1 269.5L45.6 269.5M45.6 269.5L48.2 269.5" stroke="#b11614" stroke-width="1.7" fill="none"/>
<path d="M112.4 139.5L114.9 139.5M79.0 139.5L77.7 141.5M80.3 141.5L81.6 143.5M89.3 143.5L90.5 145.5M91.8 143.5L90.5 145.5M139.3 141.5L138.0 143.5M90.5 145.5L91.8 147.8M138.0 147.8L139.3 150.2M168.8 147.8L170.1 150.2M30.2 156.5L28.9 158.5M28.9 158.5L31.5 158.5M32.8 165.5L31.5 167.8M32.8 165.5L34.1 167.8M103.4 167.8L104.7 170.2M21.2 172.5L23.8 172.5M143.2 174.5L141.9 176.5M135.5 178.5L138.0 178.5M62.3 180.8L61.0 183.2M131.6 180.8L130.3 183.2M171.4 178.5L170.1 180.8M54.6 185.5L57.2 185.5M144.4 185.5L143.2 187.5M144.4 185.5L145.7 187.5M21.2 198.5L23.8 198.5M39.2 198.5L41.8 198.5M46.9 198.5L49.5 198.5M27.7 200.5L26.4 202.5M45.6 200.5L46.9 202.5M127.8 200.5L126.5 202.5M138.0 200.5L139.3 202.5M122.6 204.5L125.2 204.5M18.7 206.8L20.0 209.2M45.6 213.5L46.9 215.5M50.8 213.5L49.5 215.5M166.3 217.5L168.8 217.5M120.1 222.2L121.4 224.5M170.1 219.8L168.8 222.2M123.9 224.5L126.5 224.5M162.4 224.5L165.0 224.5M107.2 226.5L108.5 228.5M112.4 226.5L111.1 228.5M112.4 230.5L114.9 230.5M158.6 230.5L161.1 230.5M94.4 230.5L95.7 232.8M138.0 235.2L136.8 237.5M108.5 237.5L111.1 237.5M116.2 237.5L118.8 237.5M123.9 237.5L126.5 237.5M30.2 239.5L31.5 241.5M114.9 239.5L116.2 241.5M161.1 239.5L162.4 241.5M35.4 243.5L37.9 243.5M40.5 243.5L39.2 245.8M50.8 248.2L52.0 250.5M46.9 254.5L48.2 256.5M52.0 250.5L53.3 252.5M61.0 252.5L62.3 254.5M129.1 250.5L127.8 252.5M48.2 256.5L50.8 256.5M102.1 256.5L104.7 256.5M157.3 258.8L158.6 261.2M131.6 263.5L134.2 263.5M58.5 265.5L57.2 267.5" stroke="#e26c1a" stroke-width="1.7" fill="none"/>
<path d="M114.9 139.5L117.5 139.5M63.6 139.5L64.9 141.5M125.2 139.5L126.5 141.5M108.5 145.5L111.1 145.5M68.7 147.8L70.0 150.2M73.9 147.8L72.6 150.2M76.4 147.8L77.7 150.2M82.8 145.5L84.1 147.8M32.8 152.5L31.5 154.5M132.9 152.5L131.6 154.5M148.3 152.5L149.6 154.5M154.7 154.5L153.4 156.5M34.1 158.5L36.6 158.5M41.8 158.5L44.4 158.5M59.8 158.5L62.3 158.5M67.5 158.5L70.0 158.5M36.6 158.5L35.4 160.8M59.8 158.5L61.0 160.8M67.5 158.5L68.7 160.8M107.2 165.5L109.8 165.5M26.4 167.8L27.7 170.2M80.3 167.8L81.6 170.2M108.5 167.8L107.2 170.2M107.2 170.2L106.0 172.5M130.3 170.2L129.1 172.5M147.0 167.8L145.7 170.2M126.5 172.5L129.1 172.5M129.1 172.5L131.6 172.5M147.0 172.5L149.6 172.5M162.4 172.5L165.0 172.5M39.2 176.5L40.5 178.5M64.9 176.5L63.6 178.5M141.9 176.5L140.6 178.5M150.9 174.5L149.6 176.5M138.0 178.5L140.6 178.5M140.6 178.5L143.2 178.5M40.5 178.5L39.2 180.8M41.8 180.8L43.1 183.2M125.2 178.5L123.9 180.8M130.3 183.2L129.1 185.5M150.9 183.2L152.2 185.5M170.1 180.8L168.8 183.2M95.7 185.5L98.2 185.5M44.4 185.5L43.1 187.5M52.0 185.5L50.8 187.5M50.8 187.5L49.5 189.5M143.2 187.5L141.9 189.5M145.7 187.5L147.0 189.5M20.0 191.5L22.5 191.5M46.9 193.8L45.6 196.2M71.3 191.5L70.0 193.8M71.3 191.5L72.6 193.8M123.9 193.8L122.6 196.2M143.2 196.2L144.4 198.5M145.7 196.2L144.4 198.5M131.6 198.5L134.2 198.5M144.4 198.5L147.0 198.5M120.1 200.5L118.8 202.5M136.8 198.5L138.0 200.5M166.3 200.5L165.0 202.5M58.5 204.5L61.0 204.5M132.9 204.5L131.6 206.8M131.6 206.8L130.3 209.2M170.1 206.8L168.8 209.2M123.9 211.5L126.5 211.5M149.6 211.5L152.2 211.5M53.3 213.5L54.6 215.5M129.1 211.5L127.8 213.5M129.1 211.5L130.3 213.5M45.6 217.5L48.2 217.5M104.7 217.5L107.2 217.5M140.6 217.5L143.2 217.5M48.2 217.5L49.5 219.8M99.5 222.2L98.2 224.5M107.2 222.2L106.0 224.5M123.9 219.8L122.6 222.2M140.6 217.5L141.9 219.8M100.8 224.5L103.4 224.5M129.1 224.5L131.6 224.5M52.0 224.5L50.8 226.5M106.0 224.5L104.7 226.5M106.0 224.5L107.2 226.5M113.7 224.5L112.4 226.5M89.3 230.5L91.8 230.5M161.1 230.5L163.7 230.5M39.2 232.8L37.9 235.2M54.6 232.8L53.3 235.2M104.7 235.2L106.0 237.5M139.3 232.8L138.0 235.2M162.4 237.5L165.0 237.5M106.0 237.5L104.7 239.5M162.4 241.5L163.7 243.5M70.0 245.8L68.7 248.2M117.5 243.5L116.2 245.8M116.2 245.8L114.9 248.2M114.9 248.2L113.7 250.5M117.5 243.5L118.8 245.8M165.0 245.8L166.3 248.2M59.8 250.5L62.3 250.5M62.3 250.5L64.9 250.5M67.5 250.5L70.0 250.5M113.7 250.5L116.2 250.5M116.2 250.5L118.8 250.5M165.0 250.5L167.6 250.5M43.1 252.5L41.8 254.5M67.5 250.5L68.7 252.5M50.8 256.5L53.3 256.5M104.7 256.5L107.2 256.5M57.2 258.8L58.5 261.2M156.0 256.5L157.3 258.8M70.0 263.5L72.6 263.5M162.4 263.5L165.0 263.5M61.0 265.5L62.3 267.5M166.3 265.5L165.0 267.5M168.8 265.5L170.1 267.5M158.6 269.5L161.1 269.5" stroke="#ebdc28" stroke-width="1.7" fill="none"/>
<path d="M143.2 139.5L145.7 139.5M145.7 139.5L148.3 139.5M28.9 145.5L27.7 147.8M27.7 147.8L26.4 150.2M26.4 150.2L25.1 152.5M161.1 156.5L159.8 158.5M90.5 158.5L93.1 158.5M125.2 230.5L127.8 230.5" stroke="#aa1014" stroke-width="1.7" fill="none"/>
<path d="M156.0 139.5L158.6 139.5M37.9 143.5L36.6 145.5M76.4 143.5L75.2 145.5M116.2 141.5L114.9 143.5M130.3 143.5L129.1 145.5M39.2 145.5L41.8 145.5M41.8 145.5L44.4 145.5M44.4 145.5L46.9 145.5M57.2 150.2L55.9 152.5M75.2 145.5L76.4 147.8M85.4 150.2L86.7 152.5M116.2 150.2L117.5 152.5M53.3 152.5L55.9 152.5M55.9 152.5L54.6 154.5M54.6 154.5L53.3 156.5M53.3 156.5L52.0 158.5M117.5 152.5L118.8 154.5M153.4 156.5L152.2 158.5M116.2 158.5L118.8 158.5M52.0 158.5L53.3 160.8M84.1 160.8L85.4 163.2M85.4 163.2L86.7 165.5M120.1 160.8L118.8 163.2M40.5 165.5L43.1 165.5M71.3 165.5L70.0 167.8M70.0 167.8L68.7 170.2M81.6 170.2L82.8 172.5M86.7 165.5L85.4 167.8M86.7 165.5L88.0 167.8M88.0 167.8L89.3 170.2M89.3 170.2L90.5 172.5M118.8 167.8L120.1 170.2M120.1 170.2L121.4 172.5M90.5 172.5L93.1 172.5M152.2 172.5L154.7 172.5M30.2 174.5L31.5 176.5M76.4 174.5L77.7 176.5M90.5 172.5L89.3 174.5M89.3 174.5L88.0 176.5M100.8 176.5L102.1 178.5M30.2 178.5L32.8 178.5M84.1 178.5L86.7 178.5M102.1 178.5L104.7 178.5M112.4 178.5L114.9 178.5M163.7 178.5L166.3 178.5M35.4 183.2L36.6 185.5M80.3 180.8L81.6 183.2M107.2 183.2L106.0 185.5M111.1 180.8L112.4 183.2M118.8 180.8L120.1 183.2M166.3 183.2L167.6 185.5M64.9 185.5L67.5 185.5M103.4 185.5L106.0 185.5M159.8 185.5L158.6 187.5M161.1 187.5L162.4 189.5M168.8 187.5L170.1 189.5M58.5 191.5L61.0 191.5M91.8 191.5L94.4 191.5M94.4 191.5L97.0 191.5M97.0 191.5L99.5 191.5M99.5 191.5L102.1 191.5M140.6 191.5L143.2 191.5M143.2 191.5L145.7 191.5M145.7 191.5L148.3 191.5M166.3 191.5L168.8 191.5M89.3 196.2L90.5 198.5M94.4 191.5L95.7 193.8M125.2 191.5L123.9 193.8M148.3 191.5L149.6 193.8M149.6 193.8L150.9 196.2M150.9 196.2L152.2 198.5M165.0 193.8L166.3 196.2M159.8 198.5L162.4 198.5M162.4 198.5L165.0 198.5M59.8 198.5L61.0 200.5M61.0 200.5L62.3 202.5M66.2 200.5L64.9 202.5M75.2 198.5L73.9 200.5M90.5 198.5L91.8 200.5M108.5 202.5L109.8 204.5M118.8 202.5L117.5 204.5M152.2 198.5L153.4 200.5M153.4 200.5L154.7 202.5M154.7 202.5L156.0 204.5M158.6 200.5L157.3 202.5M157.3 202.5L156.0 204.5M76.4 204.5L79.0 204.5M109.8 204.5L112.4 204.5M168.8 204.5L171.4 204.5M63.6 204.5L62.3 206.8M79.0 204.5L77.7 206.8M84.1 209.2L82.8 211.5M100.8 206.8L99.5 209.2M171.4 204.5L170.1 206.8M64.9 211.5L67.5 211.5M82.8 211.5L85.4 211.5M68.7 213.5L70.0 215.5M70.0 215.5L71.3 217.5M72.6 215.5L71.3 217.5M82.8 211.5L81.6 213.5M90.5 211.5L91.8 213.5M104.7 213.5L103.4 215.5M68.7 217.5L71.3 217.5M71.3 217.5L73.9 217.5M99.5 217.5L102.1 217.5M114.9 217.5L117.5 217.5M62.3 219.8L61.0 222.2M71.3 217.5L70.0 219.8M71.3 217.5L72.6 219.8M102.1 217.5L100.8 219.8M102.1 217.5L103.4 219.8M117.5 217.5L118.8 219.8M64.9 228.5L63.6 230.5M63.6 230.5L62.3 232.8M63.6 230.5L64.9 232.8M64.9 232.8L66.2 235.2M66.2 235.2L67.5 237.5M88.0 232.8L89.3 235.2M97.0 235.2L98.2 237.5M57.2 237.5L59.8 237.5M64.9 237.5L67.5 237.5M75.2 237.5L77.7 237.5M88.0 237.5L90.5 237.5M165.0 237.5L167.6 237.5M58.5 239.5L57.2 241.5M59.8 237.5L61.0 239.5M55.9 243.5L54.6 245.8M73.9 248.2L75.2 250.5M77.7 245.8L76.4 248.2M76.4 248.2L75.2 250.5M91.8 248.2L90.5 250.5M153.4 248.2L152.2 250.5M158.6 248.2L159.8 250.5M161.1 248.2L159.8 250.5M88.0 250.5L90.5 250.5M152.2 250.5L154.7 250.5M154.7 250.5L157.3 250.5M157.3 250.5L159.8 250.5M44.4 250.5L43.1 252.5M80.3 254.5L79.0 256.5M159.8 250.5L158.6 252.5M71.3 256.5L73.9 256.5M73.9 256.5L76.4 256.5M76.4 256.5L79.0 256.5M89.3 256.5L91.8 256.5M109.8 256.5L112.4 256.5M71.3 256.5L72.6 258.8M79.0 256.5L77.7 258.8M79.0 256.5L80.3 258.8M80.3 258.8L81.6 261.2M81.6 261.2L82.8 263.5M91.8 261.2L90.5 263.5M95.7 258.8L97.0 261.2M109.8 256.5L108.5 258.8M109.8 256.5L111.1 258.8M168.8 261.2L167.6 263.5M72.6 263.5L75.2 263.5M82.8 263.5L85.4 263.5M141.9 263.5L144.4 263.5M123.9 267.5L125.2 269.5M138.0 265.5L139.3 267.5M117.5 269.5L120.1 269.5M127.8 269.5L130.3 269.5M150.9 269.5L153.4 269.5" stroke="#25b91d" stroke-width="1.7" fill="none"/>
<path d="M158.6 139.5L161.1 139.5M161.1 139.5L163.7 139.5M43.1 143.5L44.4 145.5M70.0 141.5L68.7 143.5M72.6 141.5L73.9 143.5M156.0 139.5L154.7 141.5M154.7 141.5L153.4 143.5M129.1 145.5L131.6 145.5M144.4 145.5L147.0 145.5M67.5 145.5L68.7 147.8M75.2 145.5L73.9 147.8M48.2 152.5L50.8 152.5M50.8 152.5L53.3 152.5M117.5 152.5L120.1 152.5M117.5 152.5L116.2 154.5M116.2 154.5L114.9 156.5M125.2 152.5L126.5 154.5M49.5 158.5L52.0 158.5M52.0 158.5L54.6 158.5M113.7 158.5L116.2 158.5M152.2 158.5L154.7 158.5M53.3 160.8L54.6 163.2M54.6 163.2L55.9 165.5M70.0 163.2L71.3 165.5M118.8 163.2L117.5 165.5M147.0 163.2L148.3 165.5M157.3 163.2L156.0 165.5M68.7 165.5L71.3 165.5M117.5 165.5L120.1 165.5M27.7 170.2L28.9 172.5M30.2 170.2L28.9 172.5M68.7 170.2L67.5 172.5M117.5 165.5L118.8 167.8M132.9 165.5L131.6 167.8M148.3 165.5L147.0 167.8M157.3 167.8L158.6 170.2M26.4 172.5L28.9 172.5M75.2 172.5L77.7 172.5M118.8 172.5L121.4 172.5M121.4 172.5L123.9 172.5M134.2 172.5L136.8 172.5M31.5 176.5L32.8 178.5M36.6 172.5L37.9 174.5M75.2 172.5L76.4 174.5M88.0 176.5L86.7 178.5M97.0 174.5L95.7 176.5M103.4 176.5L102.1 178.5M114.9 174.5L116.2 176.5M158.6 174.5L157.3 176.5M120.1 178.5L122.6 178.5M20.0 183.2L21.2 185.5M32.8 178.5L34.1 180.8M34.1 180.8L35.4 183.2M37.9 183.2L36.6 185.5M49.5 180.8L50.8 183.2M81.6 183.2L82.8 185.5M102.1 178.5L100.8 180.8M154.7 180.8L153.4 183.2M36.6 185.5L39.2 185.5M80.3 185.5L82.8 185.5M116.2 185.5L118.8 185.5M82.8 185.5L84.1 187.5M93.1 189.5L94.4 191.5M116.2 189.5L117.5 191.5M122.6 187.5L123.9 189.5M127.8 187.5L126.5 189.5M149.6 189.5L148.3 191.5M162.4 189.5L163.7 191.5M167.6 185.5L166.3 187.5M167.6 185.5L168.8 187.5M117.5 191.5L120.1 191.5M127.8 191.5L130.3 191.5M148.3 191.5L150.9 191.5M163.7 191.5L166.3 191.5M58.5 196.2L59.8 198.5M66.2 196.2L67.5 198.5M94.4 191.5L93.1 193.8M93.1 193.8L91.8 196.2M91.8 196.2L90.5 198.5M140.6 191.5L139.3 193.8M140.6 191.5L141.9 193.8M162.4 193.8L161.1 196.2M161.1 196.2L159.8 198.5M163.7 191.5L165.0 193.8M70.0 198.5L72.6 198.5M72.6 198.5L75.2 198.5M113.7 198.5L116.2 198.5M149.6 198.5L152.2 198.5M67.5 198.5L66.2 200.5M75.2 198.5L76.4 200.5M76.4 200.5L77.7 202.5M77.7 202.5L79.0 204.5M90.5 198.5L89.3 200.5M159.8 198.5L158.6 200.5M167.6 198.5L166.3 200.5M61.0 204.5L63.6 204.5M79.0 204.5L81.6 204.5M81.6 204.5L84.1 204.5M84.1 204.5L86.7 204.5M86.7 204.5L89.3 204.5M104.7 204.5L107.2 204.5M107.2 204.5L109.8 204.5M86.7 204.5L85.4 206.8M85.4 206.8L84.1 209.2M102.1 204.5L100.8 206.8M109.8 204.5L108.5 206.8M108.5 206.8L107.2 209.2M118.8 206.8L120.1 209.2M103.4 211.5L106.0 211.5M57.2 215.5L55.9 217.5M61.0 213.5L62.3 215.5M97.0 213.5L95.7 215.5M106.0 211.5L104.7 213.5M123.9 215.5L125.2 217.5M53.3 217.5L55.9 217.5M89.3 217.5L91.8 217.5M102.1 217.5L104.7 217.5M135.5 217.5L138.0 217.5M55.9 217.5L57.2 219.8M57.2 219.8L58.5 222.2M61.0 222.2L59.8 224.5M134.2 219.8L135.5 222.2M39.2 228.5L40.5 230.5M75.2 224.5L73.9 226.5M81.6 226.5L80.3 228.5M90.5 224.5L91.8 226.5M48.2 230.5L50.8 230.5M86.7 230.5L89.3 230.5M40.5 230.5L39.2 232.8M62.3 232.8L61.0 235.2M61.0 235.2L59.8 237.5M76.4 235.2L75.2 237.5M80.3 232.8L81.6 235.2M89.3 235.2L90.5 237.5M165.0 232.8L166.3 235.2M59.8 237.5L62.3 237.5M62.3 237.5L64.9 237.5M90.5 237.5L93.1 237.5M100.8 237.5L103.4 237.5M59.8 237.5L58.5 239.5M67.5 237.5L68.7 239.5M75.2 237.5L73.9 239.5M80.3 241.5L79.0 243.5M84.1 239.5L85.4 241.5M166.3 239.5L165.0 241.5M66.2 243.5L68.7 243.5M89.3 243.5L91.8 243.5M166.3 243.5L168.8 243.5M62.3 245.8L61.0 248.2M79.0 243.5L77.7 245.8M79.0 243.5L80.3 245.8M85.4 245.8L84.1 248.2M156.0 243.5L154.7 245.8M154.7 245.8L153.4 248.2M156.0 243.5L157.3 245.8M157.3 245.8L158.6 248.2M72.6 250.5L75.2 250.5M159.8 250.5L162.4 250.5M90.5 250.5L91.8 252.5M114.9 252.5L116.2 254.5M152.2 250.5L150.9 252.5M165.0 263.5L167.6 263.5M82.8 263.5L81.6 265.5M97.0 265.5L95.7 267.5M104.7 265.5L103.4 267.5M135.5 265.5L134.2 267.5M167.6 263.5L166.3 265.5M167.6 263.5L168.8 265.5M104.7 269.5L107.2 269.5M120.1 269.5L122.6 269.5M122.6 269.5L125.2 269.5M125.2 269.5L127.8 269.5M148.3 269.5L150.9 269.5M156.0 269.5L158.6 269.5" stroke="#28be1e" stroke-width="1.7" fill="none"/>
<path d="M40.5 139.5L39.2 141.5M77.7 141.5L76.4 143.5M150.9 147.8L149.6 150.2M127.8 152.5L130.3 152.5M61.0 156.5L59.8 158.5M57.2 158.5L59.8 158.5M139.3 158.5L141.9 158.5M44.4 158.5L43.1 160.8M111.1 163.2L109.8 165.5M43.1 165.5L45.6 165.5M66.2 165.5L68.7 165.5M109.8 165.5L112.4 165.5M46.9 167.8L45.6 170.2M55.9 165.5L57.2 167.8M161.1 170.2L159.8 172.5M113.7 172.5L116.2 172.5M112.4 174.5L111.1 176.5M111.1 176.5L109.8 178.5M113.7 172.5L114.9 174.5M122.6 178.5L125.2 178.5M166.3 178.5L168.8 178.5M50.8 183.2L52.0 185.5M44.4 185.5L46.9 185.5M90.5 185.5L93.1 185.5M61.0 187.5L62.3 189.5M121.4 185.5L120.1 187.5M152.2 185.5L150.9 187.5M157.3 189.5L156.0 191.5M153.4 191.5L156.0 191.5M156.0 191.5L158.6 191.5M70.0 193.8L68.7 196.2M72.6 193.8L73.9 196.2M84.1 196.2L82.8 198.5M117.5 191.5L118.8 193.8M132.9 191.5L134.2 193.8M134.2 193.8L135.5 196.2M135.5 196.2L136.8 198.5M147.0 193.8L145.7 196.2M156.0 191.5L157.3 193.8M134.2 198.5L136.8 198.5M136.8 198.5L135.5 200.5M120.1 204.5L122.6 204.5M121.4 211.5L123.9 211.5M127.8 213.5L126.5 215.5M130.3 222.2L129.1 224.5M140.6 217.5L139.3 219.8M139.3 219.8L138.0 222.2M138.0 222.2L136.8 224.5M54.6 224.5L57.2 224.5M106.0 224.5L108.5 224.5M108.5 224.5L111.1 224.5M111.1 224.5L113.7 224.5M134.2 224.5L136.8 224.5M59.8 224.5L58.5 226.5M77.7 228.5L79.0 230.5M80.3 228.5L79.0 230.5M170.1 228.5L171.4 230.5M79.0 230.5L80.3 232.8M95.7 232.8L97.0 235.2M100.8 232.8L99.5 235.2M103.4 237.5L106.0 237.5M70.0 241.5L71.3 243.5M72.6 241.5L71.3 243.5M85.4 241.5L86.7 243.5M99.5 239.5L100.8 241.5M71.3 243.5L73.9 243.5M86.7 243.5L89.3 243.5M54.6 245.8L53.3 248.2M58.5 248.2L59.8 250.5M61.0 248.2L59.8 250.5M71.3 243.5L72.6 245.8M86.7 243.5L85.4 245.8M163.7 243.5L165.0 245.8M45.6 252.5L46.9 254.5M113.7 250.5L114.9 252.5M149.6 254.5L148.3 256.5M80.3 267.5L79.0 269.5" stroke="#a9d928" stroke-width="1.7" fill="none"/>
<path d="M39.2 141.5L37.9 143.5M64.9 141.5L66.2 143.5M71.3 139.5L70.0 141.5M71.3 139.5L72.6 141.5M117.5 139.5L116.2 141.5M131.6 145.5L134.2 145.5M44.4 145.5L43.1 147.8M144.4 145.5L143.2 147.8M152.2 145.5L150.9 147.8M125.2 152.5L127.8 152.5M149.6 154.5L150.9 156.5M46.9 158.5L49.5 158.5M54.6 158.5L57.2 158.5M113.7 158.5L112.4 160.8M165.0 163.2L163.7 165.5M86.7 165.5L89.3 165.5M162.4 167.8L161.1 170.2M116.2 172.5L118.8 172.5M104.7 174.5L103.4 176.5M166.3 174.5L165.0 176.5M107.2 178.5L109.8 178.5M109.8 178.5L112.4 178.5M100.8 180.8L99.5 183.2M109.8 178.5L108.5 180.8M109.8 178.5L111.1 180.8M168.8 183.2L167.6 185.5M39.2 185.5L41.8 185.5M85.4 185.5L88.0 185.5M100.8 185.5L103.4 185.5M36.6 185.5L35.4 187.5M36.6 185.5L37.9 187.5M68.7 187.5L70.0 189.5M147.0 189.5L148.3 191.5M150.9 187.5L149.6 189.5M158.6 187.5L157.3 189.5M55.9 191.5L58.5 191.5M150.9 191.5L153.4 191.5M161.1 191.5L163.7 191.5M57.2 193.8L58.5 196.2M68.7 196.2L67.5 198.5M157.3 193.8L158.6 196.2M57.2 198.5L59.8 198.5M59.8 198.5L58.5 200.5M152.2 198.5L150.9 200.5M159.8 198.5L161.1 200.5M153.4 204.5L156.0 204.5M61.0 209.2L59.8 211.5M120.1 209.2L121.4 211.5M59.8 211.5L62.3 211.5M54.6 215.5L55.9 217.5M59.8 211.5L61.0 213.5M122.6 213.5L123.9 215.5M130.3 213.5L131.6 215.5M125.2 217.5L123.9 219.8M135.5 222.2L136.8 224.5M57.2 224.5L59.8 224.5M50.8 226.5L49.5 228.5M138.0 226.5L139.3 228.5M141.9 228.5L140.6 230.5M61.0 230.5L63.6 230.5M63.6 230.5L66.2 230.5M41.8 232.8L43.1 235.2M68.7 235.2L67.5 237.5M140.6 230.5L139.3 232.8M140.6 230.5L141.9 232.8M163.7 230.5L165.0 232.8M68.7 239.5L70.0 241.5M73.9 239.5L72.6 241.5M165.0 241.5L163.7 243.5M79.0 243.5L81.6 243.5M158.6 243.5L161.1 243.5M163.7 243.5L166.3 243.5M41.8 245.8L43.1 248.2M72.6 245.8L73.9 248.2M150.9 248.2L152.2 250.5M90.5 250.5L93.1 250.5M149.6 250.5L152.2 250.5M150.9 252.5L149.6 254.5M91.8 256.5L94.4 256.5M107.2 256.5L109.8 256.5M55.9 256.5L54.6 258.8M71.3 256.5L70.0 258.8M94.4 256.5L93.1 258.8M94.4 256.5L95.7 258.8M136.8 263.5L139.3 263.5M64.9 267.5L63.6 269.5M81.6 265.5L80.3 267.5M136.8 263.5L135.5 265.5M136.8 263.5L138.0 265.5" stroke="#68ce24" stroke-width="1.7" fill="none"/>
<path d="M41.8 141.5L43.1 143.5M102.1 139.5L100.8 141.5M126.5 141.5L127.8 143.5M139.3 145.5L141.9 145.5M152.2 145.5L154.7 145.5M84.1 147.8L85.4 150.2M45.6 152.5L48.2 152.5M114.9 152.5L117.5 152.5M36.6 158.5L37.9 160.8M68.7 160.8L70.0 163.2M88.0 163.2L86.7 165.5M112.4 160.8L111.1 163.2M162.4 163.2L163.7 165.5M112.4 165.5L114.9 165.5M76.4 170.2L75.2 172.5M131.6 167.8L130.3 170.2M158.6 170.2L159.8 172.5M64.9 172.5L67.5 172.5M95.7 172.5L98.2 172.5M123.9 172.5L126.5 172.5M131.6 172.5L134.2 172.5M157.3 172.5L159.8 172.5M37.9 174.5L39.2 176.5M66.2 174.5L64.9 176.5M98.2 172.5L97.0 174.5M98.2 172.5L99.5 174.5M159.8 172.5L158.6 174.5M32.8 178.5L31.5 180.8M39.2 180.8L37.9 183.2M120.1 183.2L121.4 185.5M153.4 183.2L152.2 185.5M21.2 185.5L23.8 185.5M41.8 185.5L44.4 185.5M88.0 185.5L90.5 185.5M118.8 185.5L121.4 185.5M21.2 185.5L22.5 187.5M90.5 185.5L91.8 187.5M97.0 187.5L95.7 189.5M120.1 187.5L118.8 189.5M121.4 185.5L122.6 187.5M129.1 185.5L127.8 187.5M130.3 191.5L132.9 191.5M158.6 191.5L161.1 191.5M55.9 191.5L57.2 193.8M138.0 196.2L136.8 198.5M141.9 193.8L143.2 196.2M77.7 198.5L80.3 198.5M85.4 198.5L88.0 198.5M147.0 198.5L149.6 198.5M81.6 200.5L80.3 202.5M109.8 204.5L111.1 206.8M106.0 211.5L108.5 211.5M59.8 211.5L58.5 213.5M93.1 215.5L94.4 217.5M95.7 215.5L94.4 217.5M106.0 211.5L107.2 213.5M121.4 211.5L122.6 213.5M50.8 217.5L53.3 217.5M91.8 217.5L94.4 217.5M94.4 217.5L97.0 217.5M138.0 217.5L140.6 217.5M94.4 217.5L93.1 219.8M100.8 219.8L99.5 222.2M104.7 222.2L106.0 224.5M136.8 224.5L138.0 226.5M138.0 230.5L140.6 230.5M77.7 232.8L76.4 235.2M91.8 235.2L90.5 237.5M154.7 241.5L156.0 243.5M68.7 243.5L71.3 243.5M73.9 243.5L76.4 243.5M81.6 243.5L84.1 243.5M153.4 243.5L156.0 243.5M161.1 243.5L163.7 243.5M163.7 243.5L162.4 245.8M70.0 250.5L72.6 250.5M162.4 250.5L165.0 250.5M68.7 252.5L70.0 254.5M93.1 254.5L94.4 256.5M112.4 252.5L111.1 254.5M157.3 254.5L156.0 256.5M170.1 258.8L168.8 261.2M73.9 265.5L72.6 267.5M95.7 267.5L94.4 269.5M103.4 267.5L102.1 269.5M149.6 267.5L148.3 269.5M102.1 269.5L104.7 269.5" stroke="#88d628" stroke-width="1.7" fill="none"/>
<path d="M55.9 139.5L54.6 141.5M54.6 141.5L53.3 143.5M49.5 145.5L52.0 145.5M52.0 145.5L54.6 145.5M54.6 145.5L57.2 145.5M113.7 145.5L114.9 147.8M75.2 158.5L77.7 158.5M126.5 158.5L129.1 158.5M75.2 158.5L73.9 160.8M122.6 160.8L123.9 163.2M123.9 163.2L125.2 165.5M129.1 158.5L127.8 160.8M129.1 158.5L130.3 160.8M122.6 165.5L125.2 165.5M125.2 165.5L127.8 165.5M125.2 165.5L123.9 167.8M118.8 176.5L117.5 178.5M17.4 178.5L20.0 178.5M20.0 178.5L22.5 178.5M22.5 178.5L25.1 178.5M72.6 180.8L73.9 183.2M73.9 183.2L75.2 185.5M76.4 183.2L75.2 185.5M72.6 185.5L75.2 185.5M75.2 185.5L76.4 187.5M76.4 187.5L77.7 189.5M77.7 189.5L79.0 191.5M113.7 185.5L112.4 187.5M79.0 191.5L81.6 191.5M81.6 191.5L84.1 191.5M84.1 191.5L86.7 191.5M86.7 191.5L89.3 191.5M93.1 202.5L94.4 204.5M97.0 200.5L95.7 202.5M95.7 202.5L94.4 204.5M68.7 204.5L71.3 204.5M71.3 204.5L73.9 204.5M71.3 204.5L70.0 206.8M94.4 204.5L95.7 206.8M95.7 206.8L97.0 209.2M85.4 215.5L86.7 217.5M81.6 217.5L84.1 217.5M84.1 217.5L86.7 217.5M81.6 222.2L82.8 224.5M86.7 217.5L88.0 219.8M80.3 224.5L82.8 224.5M49.5 232.8L50.8 235.2M50.8 235.2L52.0 237.5M84.1 235.2L82.8 237.5M52.0 237.5L54.6 237.5M80.3 237.5L82.8 237.5M82.8 237.5L85.4 237.5M52.0 237.5L50.8 239.5M52.0 237.5L53.3 239.5M62.3 241.5L63.6 243.5M64.9 241.5L63.6 243.5M82.8 237.5L81.6 239.5M98.2 237.5L97.0 239.5M97.0 239.5L95.7 241.5M61.0 243.5L63.6 243.5M81.6 248.2L82.8 250.5M94.4 243.5L93.1 245.8M80.3 250.5L82.8 250.5M82.8 250.5L85.4 250.5M82.8 250.5L81.6 252.5M114.9 256.5L117.5 256.5M86.7 256.5L85.4 258.8M116.2 258.8L114.9 261.2M114.9 261.2L113.7 263.5M95.7 263.5L98.2 263.5M106.0 263.5L108.5 263.5M108.5 263.5L111.1 263.5M111.1 263.5L113.7 263.5M85.4 267.5L86.7 269.5M106.0 263.5L107.2 265.5M107.2 265.5L108.5 267.5M108.5 267.5L109.8 269.5M121.4 263.5L120.1 265.5M121.4 263.5L122.6 265.5M109.8 269.5L112.4 269.5" stroke="#1ba519" stroke-width="1.7" fill="none"/>
<path d="M53.3 143.5L52.0 145.5M127.8 160.8L126.5 163.2M126.5 163.2L125.2 165.5M95.7 241.5L94.4 243.5M117.5 256.5L116.2 258.8M117.5 256.5L118.8 258.8M118.8 258.8L120.1 261.2M120.1 261.2L121.4 263.5" stroke="#18a018" stroke-width="1.7" fill="none"/>
<path d="M79.0 139.5L80.3 141.5M93.1 141.5L91.8 143.5M99.5 143.5L98.2 145.5M140.6 139.5L139.3 141.5M157.3 145.5L159.8 145.5M20.0 147.8L18.7 150.2M18.7 150.2L17.4 152.5M77.7 150.2L79.0 152.5M91.8 147.8L93.1 150.2M141.9 150.2L140.6 152.5M150.9 152.5L153.4 152.5M156.0 152.5L154.7 154.5M168.8 156.5L167.6 158.5M23.8 158.5L26.4 158.5M26.4 158.5L28.9 158.5M28.9 158.5L27.7 160.8M28.9 158.5L30.2 160.8M30.2 160.8L31.5 163.2M31.5 163.2L32.8 165.5M77.7 163.2L79.0 165.5M25.1 165.5L26.4 167.8M79.0 165.5L80.3 167.8M94.4 165.5L95.7 167.8M145.7 170.2L144.4 172.5M141.9 172.5L144.4 172.5M144.4 172.5L147.0 172.5M61.0 174.5L62.3 176.5M145.7 178.5L148.3 178.5M30.2 183.2L28.9 185.5M148.3 178.5L149.6 180.8M26.4 185.5L28.9 185.5M28.9 185.5L31.5 185.5M57.2 185.5L59.8 185.5M23.8 189.5L25.1 191.5M59.8 185.5L58.5 187.5M43.1 191.5L45.6 191.5M22.5 196.2L21.2 198.5M31.5 193.8L30.2 196.2M52.0 198.5L54.6 198.5M123.9 198.5L126.5 198.5M26.4 202.5L25.1 204.5M126.5 202.5L125.2 204.5M145.7 200.5L147.0 202.5M31.5 211.5L34.1 211.5M52.0 211.5L54.6 211.5M131.6 211.5L134.2 211.5M37.9 213.5L39.2 215.5M52.0 211.5L50.8 213.5M108.5 215.5L109.8 217.5M154.7 215.5L156.0 217.5M22.5 217.5L25.1 217.5M35.4 217.5L37.9 217.5M25.1 217.5L26.4 219.8M26.4 219.8L27.7 222.2M27.7 222.2L28.9 224.5M30.2 222.2L28.9 224.5M39.2 219.8L37.9 222.2M109.8 217.5L108.5 219.8M143.2 222.2L144.4 224.5M28.9 224.5L31.5 224.5M121.4 224.5L123.9 224.5M18.7 228.5L17.4 230.5M28.9 224.5L27.7 226.5M127.8 226.5L126.5 228.5M17.4 230.5L20.0 230.5M30.2 230.5L32.8 230.5M73.9 230.5L76.4 230.5M99.5 230.5L102.1 230.5M17.4 230.5L18.7 232.8M32.8 230.5L34.1 232.8M37.9 235.2L36.6 237.5M123.9 232.8L122.6 235.2M143.2 235.2L144.4 237.5M112.4 243.5L114.9 243.5M120.1 243.5L122.6 243.5M26.4 245.8L27.7 248.2M111.1 245.8L112.4 248.2M132.9 243.5L131.6 245.8M41.8 254.5L40.5 256.5M127.8 252.5L126.5 254.5M61.0 256.5L63.6 256.5M122.6 256.5L125.2 256.5M138.0 256.5L140.6 256.5M58.5 261.2L59.8 263.5M125.2 256.5L123.9 258.8M159.8 263.5L162.4 263.5M23.8 267.5L25.1 269.5M26.4 267.5L25.1 269.5M53.3 265.5L54.6 267.5M70.0 267.5L71.3 269.5M159.8 263.5L158.6 265.5M20.0 269.5L22.5 269.5M22.5 269.5L25.1 269.5M25.1 269.5L27.7 269.5M50.8 269.5L53.3 269.5M161.1 269.5L163.7 269.5" stroke="#d23214" stroke-width="1.7" fill="none"/>
<path d="M145.7 152.5L148.3 152.5M148.3 152.5L150.9 152.5M148.3 152.5L147.0 154.5M170.1 154.5L168.8 156.5M35.4 160.8L34.1 163.2M49.5 163.2L48.2 165.5M64.9 163.2L63.6 165.5M89.3 160.8L88.0 163.2M161.1 160.8L162.4 163.2M45.6 165.5L48.2 165.5M104.7 165.5L107.2 165.5M48.2 165.5L46.9 167.8M49.5 167.8L50.8 170.2M57.2 167.8L58.5 170.2M95.7 167.8L97.0 170.2M52.0 172.5L54.6 172.5M62.3 172.5L64.9 172.5M62.3 176.5L63.6 178.5M168.8 174.5L170.1 176.5M143.2 178.5L145.7 178.5M168.8 178.5L171.4 178.5M134.2 180.8L135.5 183.2M149.6 180.8L150.9 183.2M58.5 187.5L57.2 189.5M45.6 191.5L48.2 191.5M48.2 191.5L49.5 193.8M54.6 193.8L53.3 196.2M118.8 193.8L120.1 196.2M23.8 198.5L26.4 198.5M126.5 198.5L129.1 198.5M129.1 198.5L127.8 200.5M144.4 198.5L145.7 200.5M108.5 211.5L111.1 211.5M129.1 211.5L131.6 211.5M22.5 213.5L23.8 215.5M27.7 213.5L26.4 215.5M39.2 215.5L40.5 217.5M41.8 215.5L40.5 217.5M37.9 217.5L40.5 217.5M143.2 217.5L145.7 217.5M40.5 217.5L39.2 219.8M40.5 217.5L41.8 219.8M108.5 219.8L107.2 222.2M141.9 219.8L143.2 222.2M49.5 224.5L52.0 224.5M52.0 224.5L53.3 226.5M58.5 226.5L57.2 228.5M161.1 226.5L162.4 228.5M66.2 230.5L68.7 230.5M31.5 232.8L30.2 235.2M102.1 230.5L100.8 232.8M103.4 232.8L104.7 235.2M28.9 237.5L31.5 237.5M100.8 241.5L102.1 243.5M104.7 239.5L103.4 241.5M37.9 243.5L40.5 243.5M150.9 243.5L153.4 243.5M25.1 243.5L26.4 245.8M53.3 248.2L52.0 250.5M130.3 248.2L129.1 250.5M54.6 250.5L57.2 250.5M140.6 256.5L141.9 258.8M72.6 267.5L71.3 269.5M68.7 269.5L71.3 269.5" stroke="#ea891e" stroke-width="1.7" fill="none"/>
<path d="M17.4 275.5L25.1 275.5M25.1 275.5L32.8 275.5M40.5 275.5L48.2 275.5M63.6 275.5L71.3 275.5M79.0 275.5L86.7 275.5M102.1 275.5L109.8 275.5M125.2 275.5L132.9 275.5M132.9 275.5L140.6 275.5M25.1 275.5L21.2 282.5M32.8 275.5L28.9 282.5M32.8 275.5L36.6 282.5M40.5 275.5L36.6 282.5M40.5 275.5L44.4 282.5M48.2 275.5L52.0 282.5M63.6 275.5L59.8 282.5M71.3 275.5L75.2 282.5M79.0 275.5L75.2 282.5M86.7 275.5L82.8 282.5M86.7 275.5L90.5 282.5M102.1 275.5L98.2 282.5M109.8 275.5L113.7 282.5M132.9 275.5L129.1 282.5M140.6 275.5L136.8 282.5M140.6 275.5L144.4 282.5M28.9 282.5L36.6 282.5M98.2 282.5L106.0 282.5M136.8 282.5L144.4 282.5M144.4 282.5L152.2 282.5M21.2 282.5L25.1 288.5M28.9 282.5L25.1 288.5M28.9 282.5L32.8 288.5M36.6 282.5L40.5 288.5M44.4 282.5L40.5 288.5M44.4 282.5L48.2 288.5M52.0 282.5L55.9 288.5M59.8 282.5L55.9 288.5M75.2 282.5L79.0 288.5M82.8 282.5L79.0 288.5M82.8 282.5L86.7 288.5M98.2 282.5L94.4 288.5M98.2 282.5L102.1 288.5M106.0 282.5L102.1 288.5M106.0 282.5L109.8 288.5M113.7 282.5L109.8 288.5M121.4 282.5L117.5 288.5M121.4 282.5L125.2 288.5M129.1 282.5L125.2 288.5M129.1 282.5L132.9 288.5M159.8 282.5L156.0 288.5M25.1 288.5L32.8 288.5M32.8 288.5L40.5 288.5M40.5 288.5L48.2 288.5M55.9 288.5L63.6 288.5M63.6 288.5L71.3 288.5M71.3 288.5L79.0 288.5M79.0 288.5L86.7 288.5M86.7 288.5L94.4 288.5M94.4 288.5L102.1 288.5M102.1 288.5L109.8 288.5M109.8 288.5L117.5 288.5M117.5 288.5L125.2 288.5M125.2 288.5L132.9 288.5M156.0 288.5L163.7 288.5M163.7 288.5L171.4 288.5M17.4 288.5L21.2 294.5M25.1 288.5L21.2 294.5M25.1 288.5L28.9 294.5M48.2 288.5L44.4 294.5M48.2 288.5L52.0 294.5M55.9 288.5L52.0 294.5M55.9 288.5L59.8 294.5M63.6 288.5L67.5 294.5M71.3 288.5L67.5 294.5M79.0 288.5L82.8 294.5M86.7 288.5L90.5 294.5M109.8 288.5L106.0 294.5M109.8 288.5L113.7 294.5M117.5 288.5L113.7 294.5M132.9 288.5L129.1 294.5M132.9 288.5L136.8 294.5M163.7 288.5L159.8 294.5M171.4 288.5L167.6 294.5M21.2 294.5L28.9 294.5M28.9 294.5L36.6 294.5M36.6 294.5L44.4 294.5M44.4 294.5L52.0 294.5M67.5 294.5L75.2 294.5M98.2 294.5L106.0 294.5M106.0 294.5L113.7 294.5M113.7 294.5L121.4 294.5M121.4 294.5L129.1 294.5M129.1 294.5L136.8 294.5M28.9 294.5L25.1 301.5M44.4 294.5L48.2 301.5M52.0 294.5L48.2 301.5M59.8 294.5L55.9 301.5M67.5 294.5L71.3 301.5M75.2 294.5L71.3 301.5M82.8 294.5L86.7 301.5M90.5 294.5L86.7 301.5M90.5 294.5L94.4 301.5M106.0 294.5L102.1 301.5M121.4 294.5L117.5 301.5M129.1 294.5L125.2 301.5M129.1 294.5L132.9 301.5M159.8 294.5L163.7 301.5M167.6 294.5L163.7 301.5M167.6 294.5L171.4 301.5M17.4 301.5L25.1 301.5M32.8 301.5L40.5 301.5M40.5 301.5L48.2 301.5M48.2 301.5L55.9 301.5M63.6 301.5L71.3 301.5M71.3 301.5L79.0 301.5M94.4 301.5L102.1 301.5M109.8 301.5L117.5 301.5M132.9 301.5L140.6 301.5M148.3 301.5L156.0 301.5M156.0 301.5L163.7 301.5M17.4 301.5L21.2 307.5M32.8 301.5L36.6 307.5M48.2 301.5L52.0 307.5M55.9 301.5L59.8 307.5M63.6 301.5L59.8 307.5M94.4 301.5L98.2 307.5M102.1 301.5L106.0 307.5M109.8 301.5L106.0 307.5M109.8 301.5L113.7 307.5M132.9 301.5L129.1 307.5M148.3 301.5L144.4 307.5M148.3 301.5L152.2 307.5M156.0 301.5L159.8 307.5M163.7 301.5L159.8 307.5M163.7 301.5L167.6 307.5M36.6 307.5L44.4 307.5M59.8 307.5L67.5 307.5M82.8 307.5L90.5 307.5M98.2 307.5L106.0 307.5M106.0 307.5L113.7 307.5M129.1 307.5L136.8 307.5M136.8 307.5L144.4 307.5M152.2 307.5L159.8 307.5M159.8 307.5L167.6 307.5M21.2 307.5L17.4 314.5M36.6 307.5L40.5 314.5M44.4 307.5L40.5 314.5M52.0 307.5L55.9 314.5M67.5 307.5L71.3 314.5M75.2 307.5L71.3 314.5M75.2 307.5L79.0 314.5M82.8 307.5L86.7 314.5M90.5 307.5L86.7 314.5M90.5 307.5L94.4 314.5M106.0 307.5L102.1 314.5M106.0 307.5L109.8 314.5M129.1 307.5L125.2 314.5M136.8 307.5L132.9 314.5M136.8 307.5L140.6 314.5M152.2 307.5L156.0 314.5M159.8 307.5L163.7 314.5M17.4 314.5L25.1 314.5M40.5 314.5L48.2 314.5M48.2 314.5L55.9 314.5M63.6 314.5L71.3 314.5M71.3 314.5L79.0 314.5M79.0 314.5L86.7 314.5M86.7 314.5L94.4 314.5M94.4 314.5L102.1 314.5M102.1 314.5L109.8 314.5M109.8 314.5L117.5 314.5M125.2 314.5L132.9 314.5M140.6 314.5L148.3 314.5M148.3 314.5L156.0 314.5M156.0 314.5L163.7 314.5M163.7 314.5L171.4 314.5M17.4 314.5L21.2 320.5M32.8 314.5L28.9 320.5M40.5 314.5L44.4 320.5M48.2 314.5L52.0 320.5M63.6 314.5L59.8 320.5M79.0 314.5L75.2 320.5M94.4 314.5L90.5 320.5M94.4 314.5L98.2 320.5M102.1 314.5L98.2 320.5M102.1 314.5L106.0 320.5M109.8 314.5L106.0 320.5M117.5 314.5L113.7 320.5M117.5 314.5L121.4 320.5M125.2 314.5L121.4 320.5M140.6 314.5L136.8 320.5M140.6 314.5L144.4 320.5M148.3 314.5L144.4 320.5M156.0 314.5L152.2 320.5M163.7 314.5L159.8 320.5M44.4 320.5L52.0 320.5M52.0 320.5L59.8 320.5M59.8 320.5L67.5 320.5M67.5 320.5L75.2 320.5M90.5 320.5L98.2 320.5M106.0 320.5L113.7 320.5M113.7 320.5L121.4 320.5M121.4 320.5L129.1 320.5M129.1 320.5L136.8 320.5M136.8 320.5L144.4 320.5M144.4 320.5L152.2 320.5M152.2 320.5L159.8 320.5M159.8 320.5L167.6 320.5M44.4 320.5L40.5 327.5M44.4 320.5L48.2 327.5M52.0 320.5L55.9 327.5M67.5 320.5L63.6 327.5M90.5 320.5L86.7 327.5M129.1 320.5L125.2 327.5M129.1 320.5L132.9 327.5M136.8 320.5L132.9 327.5M136.8 320.5L140.6 327.5M144.4 320.5L140.6 327.5M167.6 320.5L171.4 327.5M55.9 327.5L63.6 327.5M71.3 327.5L79.0 327.5M79.0 327.5L86.7 327.5M86.7 327.5L94.4 327.5M102.1 327.5L109.8 327.5M132.9 327.5L140.6 327.5M25.1 327.5L21.2 333.5M25.1 327.5L28.9 333.5M40.5 327.5L36.6 333.5M48.2 327.5L44.4 333.5M48.2 327.5L52.0 333.5M55.9 327.5L52.0 333.5M71.3 327.5L67.5 333.5M86.7 327.5L82.8 333.5M94.4 327.5L90.5 333.5M102.1 327.5L106.0 333.5M125.2 327.5L121.4 333.5M125.2 327.5L129.1 333.5M132.9 327.5L136.8 333.5M140.6 327.5L144.4 333.5M21.2 333.5L28.9 333.5M44.4 333.5L52.0 333.5M52.0 333.5L59.8 333.5M75.2 333.5L82.8 333.5M82.8 333.5L90.5 333.5M90.5 333.5L98.2 333.5M98.2 333.5L106.0 333.5M136.8 333.5L144.4 333.5M21.2 333.5L17.4 340.5M36.6 333.5L40.5 340.5M44.4 333.5L48.2 340.5M52.0 333.5L48.2 340.5M52.0 333.5L55.9 340.5M59.8 333.5L63.6 340.5M67.5 333.5L71.3 340.5M75.2 333.5L71.3 340.5M82.8 333.5L79.0 340.5M82.8 333.5L86.7 340.5M121.4 333.5L117.5 340.5M136.8 333.5L140.6 340.5M144.4 333.5L140.6 340.5M159.8 333.5L156.0 340.5M159.8 333.5L163.7 340.5M48.2 340.5L55.9 340.5M55.9 340.5L63.6 340.5M63.6 340.5L71.3 340.5M71.3 340.5L79.0 340.5M132.9 340.5L140.6 340.5M140.6 340.5L148.3 340.5M148.3 340.5L156.0 340.5M156.0 340.5L163.7 340.5M163.7 340.5L171.4 340.5M48.2 340.5L44.4 346.5M48.2 340.5L52.0 346.5M55.9 340.5L52.0 346.5M55.9 340.5L59.8 346.5M63.6 340.5L67.5 346.5M79.0 340.5L82.8 346.5M86.7 340.5L82.8 346.5M86.7 340.5L90.5 346.5M109.8 340.5L113.7 346.5M117.5 340.5L113.7 346.5M132.9 340.5L136.8 346.5M156.0 340.5L159.8 346.5M163.7 340.5L159.8 346.5M163.7 340.5L167.6 346.5M90.5 346.5L98.2 346.5M113.7 346.5L121.4 346.5M121.4 346.5L129.1 346.5M129.1 346.5L136.8 346.5M152.2 346.5L159.8 346.5M159.8 346.5L167.6 346.5M44.4 346.5L40.5 353.5M67.5 346.5L63.6 353.5M67.5 346.5L71.3 353.5M82.8 346.5L79.0 353.5M82.8 346.5L86.7 353.5M98.2 346.5L102.1 353.5M113.7 346.5L109.8 353.5M113.7 346.5L117.5 353.5M121.4 346.5L117.5 353.5M121.4 346.5L125.2 353.5M129.1 346.5L132.9 353.5M152.2 346.5L156.0 353.5M159.8 346.5L163.7 353.5M167.6 346.5L163.7 353.5M40.5 353.5L48.2 353.5M48.2 353.5L55.9 353.5M55.9 353.5L63.6 353.5M79.0 353.5L86.7 353.5M86.7 353.5L94.4 353.5M94.4 353.5L102.1 353.5M109.8 353.5L117.5 353.5M117.5 353.5L125.2 353.5M125.2 353.5L132.9 353.5M132.9 353.5L140.6 353.5M25.1 353.5L21.2 359.5M25.1 353.5L28.9 359.5M40.5 353.5L36.6 359.5M48.2 353.5L52.0 359.5M55.9 353.5L52.0 359.5M55.9 353.5L59.8 359.5M63.6 353.5L59.8 359.5M63.6 353.5L67.5 359.5M71.3 353.5L67.5 359.5M79.0 353.5L75.2 359.5M86.7 353.5L82.8 359.5M86.7 353.5L90.5 359.5M102.1 353.5L106.0 359.5M109.8 353.5L113.7 359.5M117.5 353.5L121.4 359.5M125.2 353.5L121.4 359.5M132.9 353.5L129.1 359.5M132.9 353.5L136.8 359.5M148.3 353.5L144.4 359.5M148.3 353.5L152.2 359.5M156.0 353.5L152.2 359.5M163.7 353.5L159.8 359.5M21.2 359.5L28.9 359.5M28.9 359.5L36.6 359.5M52.0 359.5L59.8 359.5M67.5 359.5L75.2 359.5M75.2 359.5L82.8 359.5M82.8 359.5L90.5 359.5M121.4 359.5L129.1 359.5M129.1 359.5L136.8 359.5M159.8 359.5L167.6 359.5M36.6 359.5L32.8 365.5M59.8 359.5L55.9 365.5M59.8 359.5L63.6 365.5M67.5 359.5L63.6 365.5M75.2 359.5L71.3 365.5M75.2 359.5L79.0 365.5M82.8 359.5L86.7 365.5M90.5 359.5L86.7 365.5M90.5 359.5L94.4 365.5M113.7 359.5L117.5 365.5M121.4 359.5L117.5 365.5M121.4 359.5L125.2 365.5M136.8 359.5L132.9 365.5M136.8 359.5L140.6 365.5M144.4 359.5L140.6 365.5M167.6 359.5L163.7 365.5M32.8 365.5L40.5 365.5M48.2 365.5L55.9 365.5M55.9 365.5L63.6 365.5M63.6 365.5L71.3 365.5M71.3 365.5L79.0 365.5M94.4 365.5L102.1 365.5M102.1 365.5L109.8 365.5M125.2 365.5L132.9 365.5M156.0 365.5L163.7 365.5M32.8 365.5L28.9 372.5M32.8 365.5L36.6 372.5M40.5 365.5L36.6 372.5M40.5 365.5L44.4 372.5M55.9 365.5L59.8 372.5M63.6 365.5L67.5 372.5M71.3 365.5L67.5 372.5M79.0 365.5L82.8 372.5M94.4 365.5L90.5 372.5M94.4 365.5L98.2 372.5M102.1 365.5L98.2 372.5M102.1 365.5L106.0 372.5M109.8 365.5L106.0 372.5M117.5 365.5L121.4 372.5M125.2 365.5L121.4 372.5M125.2 365.5L129.1 372.5M132.9 365.5L136.8 372.5M140.6 365.5L136.8 372.5M140.6 365.5L144.4 372.5M156.0 365.5L152.2 372.5M156.0 365.5L159.8 372.5M28.9 372.5L36.6 372.5M44.4 372.5L52.0 372.5M52.0 372.5L59.8 372.5M59.8 372.5L67.5 372.5M75.2 372.5L82.8 372.5M90.5 372.5L98.2 372.5M98.2 372.5L106.0 372.5M121.4 372.5L129.1 372.5M129.1 372.5L136.8 372.5M144.4 372.5L152.2 372.5M152.2 372.5L159.8 372.5M36.6 372.5L40.5 378.5M44.4 372.5L40.5 378.5M59.8 372.5L55.9 378.5M67.5 372.5L63.6 378.5M75.2 372.5L71.3 378.5M75.2 372.5L79.0 378.5M90.5 372.5L86.7 378.5M106.0 372.5L102.1 378.5M106.0 372.5L109.8 378.5M121.4 372.5L117.5 378.5M121.4 372.5L125.2 378.5M129.1 372.5L132.9 378.5M144.4 372.5L148.3 378.5M152.2 372.5L156.0 378.5M40.5 378.5L48.2 378.5M48.2 378.5L55.9 378.5M55.9 378.5L63.6 378.5M79.0 378.5L86.7 378.5M102.1 378.5L109.8 378.5M117.5 378.5L125.2 378.5M148.3 378.5L156.0 378.5M48.2 378.5L44.4 385.5M63.6 378.5L59.8 385.5M71.3 378.5L67.5 385.5M71.3 378.5L75.2 385.5M79.0 378.5L75.2 385.5M79.0 378.5L82.8 385.5M86.7 378.5L82.8 385.5M94.4 378.5L90.5 385.5M102.1 378.5L98.2 385.5M117.5 378.5L113.7 385.5M117.5 378.5L121.4 385.5M125.2 378.5L121.4 385.5M132.9 378.5L129.1 385.5M148.3 378.5L152.2 385.5M171.4 378.5L167.6 385.5M36.6 385.5L44.4 385.5M44.4 385.5L52.0 385.5M59.8 385.5L67.5 385.5M75.2 385.5L82.8 385.5M90.5 385.5L98.2 385.5M113.7 385.5L121.4 385.5M121.4 385.5L129.1 385.5M144.4 385.5L152.2 385.5M152.2 385.5L159.8 385.5M159.8 385.5L167.6 385.5M28.9 385.5L32.8 391.5M36.6 385.5L40.5 391.5M52.0 385.5L48.2 391.5M67.5 385.5L71.3 391.5M82.8 385.5L79.0 391.5M90.5 385.5L86.7 391.5M98.2 385.5L102.1 391.5M113.7 385.5L109.8 391.5M121.4 385.5L117.5 391.5M144.4 385.5L148.3 391.5M152.2 385.5L148.3 391.5M152.2 385.5L156.0 391.5M159.8 385.5L156.0 391.5M25.1 391.5L32.8 391.5M32.8 391.5L40.5 391.5M48.2 391.5L55.9 391.5M55.9 391.5L63.6 391.5M63.6 391.5L71.3 391.5M71.3 391.5L79.0 391.5M79.0 391.5L86.7 391.5M86.7 391.5L94.4 391.5M109.8 391.5L117.5 391.5M132.9 391.5L140.6 391.5M148.3 391.5L156.0 391.5M156.0 391.5L163.7 391.5M163.7 391.5L171.4 391.5M32.8 391.5L36.6 398.5M40.5 391.5L36.6 398.5M48.2 391.5L52.0 398.5M71.3 391.5L67.5 398.5M79.0 391.5L75.2 398.5M86.7 391.5L82.8 398.5M86.7 391.5L90.5 398.5M94.4 391.5L90.5 398.5M102.1 391.5L98.2 398.5M109.8 391.5L113.7 398.5M117.5 391.5L113.7 398.5M132.9 391.5L136.8 398.5M140.6 391.5L136.8 398.5M140.6 391.5L144.4 398.5M148.3 391.5L144.4 398.5M163.7 391.5L159.8 398.5M44.4 398.5L52.0 398.5M52.0 398.5L59.8 398.5M59.8 398.5L67.5 398.5M67.5 398.5L75.2 398.5M75.2 398.5L82.8 398.5M113.7 398.5L121.4 398.5M152.2 398.5L159.8 398.5M36.6 398.5L32.8 404.5M36.6 398.5L40.5 404.5M52.0 398.5L55.9 404.5M59.8 398.5L63.6 404.5M67.5 398.5L63.6 404.5M113.7 398.5L117.5 404.5M121.4 398.5L117.5 404.5M136.8 398.5L132.9 404.5M136.8 398.5L140.6 404.5M144.4 398.5L140.6 404.5M152.2 398.5L156.0 404.5M159.8 398.5L156.0 404.5M32.8 404.5L40.5 404.5M109.8 404.5L117.5 404.5M117.5 404.5L125.2 404.5M125.2 404.5L132.9 404.5M132.9 404.5L140.6 404.5" stroke="#a01018" stroke-width="1.6" fill="none"/>
<path d="M79.0 288.5L86.7 288.5M125.2 314.3L132.9 314.3M159.8 320.8L167.5 320.8M44.4 372.4L52.1 372.4M28.9 385.2L36.6 385.2M71.3 391.7L79.0 391.7M90.5 359.5L98.2 359.5M109.8 340.1L117.5 340.1M106.0 346.6L113.7 346.6M129.1 385.2L136.8 385.2M129.1 398.2L136.8 398.2M36.6 295.0L44.4 295.0" stroke="#30b830" stroke-width="1.6" fill="none"/>
<text transform="translate(3.6,13.2) scale(0.78,1)" font-family="Liberation Sans, sans-serif" fill="#222" stroke="#222" stroke-width="0.3" font-size="12">(a)</text>
<text transform="translate(3.6,147.8) scale(0.78,1)" font-family="Liberation Sans, sans-serif" fill="#222" stroke="#222" stroke-width="0.3" font-size="12">(b)</text>
<text transform="translate(3.6,286.6) scale(0.78,1)" font-family="Liberation Sans, sans-serif" fill="#222" stroke="#222" stroke-width="0.3" font-size="12">(c)</text>
<text transform="translate(212.8,16.7) scale(0.85,1)" font-family="Liberation Sans, sans-serif" fill="#222" stroke="#222" stroke-width="0.3" font-size="12">(d)</text>
<defs><linearGradient id="cb" x1="0" y1="0" x2="0" y2="1">
<stop offset="0.00" stop-color="#108c1e"/>
<stop offset="0.10" stop-color="#19a325"/>
<stop offset="0.20" stop-color="#3cbb28"/>
<stop offset="0.30" stop-color="#78d228"/>
<stop offset="0.40" stop-color="#c5dc28"/>
<stop offset="0.50" stop-color="#edc825"/>
<stop offset="0.60" stop-color="#f0961e"/>
<stop offset="0.70" stop-color="#df5a17"/>
<stop offset="0.80" stop-color="#ca2f14"/>
<stop offset="0.90" stop-color="#af1414"/>
<stop offset="1.00" stop-color="#780a0f"/>
</linearGradient></defs>
<rect x="187.6" y="136.5" width="2.4" height="143" fill="url(#cb)"/>
<text transform="translate(192.2,154.75) scale(0.86,1)" font-family="Liberation Sans, sans-serif" fill="#2a2a2a" font-size="10.2" stroke="#2a2a2a" stroke-width="0.15">0.1</text>
<text transform="translate(192.2,169.35) scale(0.86,1)" font-family="Liberation Sans, sans-serif" fill="#2a2a2a" font-size="10.2" stroke="#2a2a2a" stroke-width="0.15">0.2</text>
<text transform="translate(192.2,183.95) scale(0.86,1)" font-family="Liberation Sans, sans-serif" fill="#2a2a2a" font-size="10.2" stroke="#2a2a2a" stroke-width="0.15">0.3</text>
<text transform="translate(192.2,198.55) scale(0.86,1)" font-family="Liberation Sans, sans-serif" fill="#2a2a2a" font-size="10.2" stroke="#2a2a2a" stroke-width="0.15">0.4</text>
<text transform="translate(192.2,213.15) scale(0.86,1)" font-family="Liberation Sans, sans-serif" fill="#2a2a2a" font-size="10.2" stroke="#2a2a2a" stroke-width="0.15">0.5</text>
<text transform="translate(192.2,227.75) scale(0.86,1)" font-family="Liberation Sans, sans-serif" fill="#2a2a2a" font-size="10.2" stroke="#2a2a2a" stroke-width="0.15">0.6</text>
<text transform="translate(192.2,242.35) scale(0.86,1)" font-family="Liberation Sans, sans-serif" fill="#2a2a2a" font-size="10.2" stroke="#2a2a2a" stroke-width="0.15">0.7</text>
<text transform="translate(192.2,256.95) scale(0.86,1)" font-family="Liberation Sans, sans-serif" fill="#2a2a2a" font-size="10.2" stroke="#2a2a2a" stroke-width="0.15">0.8</text>
<text transform="translate(192.2,271.55) scale(0.86,1)" font-family="Liberation Sans, sans-serif" fill="#2a2a2a" font-size="10.2" stroke="#2a2a2a" stroke-width="0.15">0.9</text>
<text transform="translate(192.2,286.15) scale(0.86,1)" font-family="Liberation Sans, sans-serif" fill="#2a2a2a" font-size="10.2" stroke="#2a2a2a" stroke-width="0.15">1.0</text>
<text transform="translate(184.7,312.8) rotate(-90)" font-family="Liberation Serif, serif" font-size="13.3" fill="#1a1a1a" textLength="207" lengthAdjust="spacingAndGlyphs">Bending Energy / Total Strain Energy</text>
<path d="M283.80 355.70h3M283.80 348.23h1.6M283.80 343.87h1.6M283.80 340.77h1.6M283.80 338.37h1.6M283.80 336.40h1.6M283.80 334.74h1.6M283.80 333.30h1.6M283.80 332.03h1.6M283.80 330.90h3M283.80 323.43h1.6M283.80 319.07h1.6M283.80 315.97h1.6M283.80 313.57h1.6M283.80 311.60h1.6M283.80 309.94h1.6M283.80 308.50h1.6M283.80 307.23h1.6M283.80 306.10h3M283.80 298.63h1.6M283.80 294.27h1.6M283.80 291.17h1.6M283.80 288.77h1.6M283.80 286.80h1.6M283.80 285.14h1.6M283.80 283.70h1.6M283.80 282.43h1.6M283.80 281.30h3M283.80 273.83h1.6M283.80 269.47h1.6M283.80 266.37h1.6M283.80 263.97h1.6M283.80 262.00h1.6M283.80 260.34h1.6M283.80 258.90h1.6M283.80 257.63h1.6M283.80 256.50h3M283.80 249.03h1.6M283.80 244.67h1.6M283.80 241.57h1.6M283.80 239.17h1.6M283.80 237.20h1.6M283.80 235.54h1.6M283.80 234.10h1.6M283.80 232.83h1.6M283.80 231.70h3M283.80 224.23h1.6M283.80 219.87h1.6M283.80 216.77h1.6M283.80 214.37h1.6M283.80 212.40h1.6M283.80 210.74h1.6M283.80 209.30h1.6M283.80 208.03h1.6M283.80 206.90h3M283.80 199.43h1.6M283.80 195.07h1.6M283.80 191.97h1.6M283.80 189.57h1.6M283.80 187.60h1.6M283.80 185.94h1.6M283.80 184.50h1.6M283.80 183.23h1.6M283.80 182.10h3M283.80 174.63h1.6M283.80 170.27h1.6M283.80 167.17h1.6M283.80 164.77h1.6M283.80 162.80h1.6M283.80 161.14h1.6M283.80 159.70h1.6M283.80 158.43h1.6M283.80 157.30h3M283.80 149.83h1.6M283.80 145.47h1.6M283.80 142.37h1.6M283.80 139.97h1.6M283.80 138.00h1.6M283.80 136.34h1.6M283.80 134.90h1.6M283.80 133.63h1.6M283.80 132.50h3M283.80 125.03h1.6M283.80 120.67h1.6M283.80 117.57h1.6M283.80 115.17h1.6M283.80 113.20h1.6M283.80 111.54h1.6M283.80 110.10h1.6M283.80 108.83h1.6M283.80 107.70h3M283.80 100.23h1.6M283.80 95.87h1.6M283.80 92.77h1.6M283.80 90.37h1.6M283.80 88.40h1.6M283.80 86.74h1.6M283.80 85.30h1.6M283.80 84.03h1.6M283.80 82.90h3M283.80 75.43h1.6M283.80 71.07h1.6M283.80 67.97h1.6M283.80 65.57h1.6M283.80 63.60h1.6M283.80 61.94h1.6M283.80 60.50h1.6M283.80 59.23h1.6M283.80 58.10h3M283.80 50.63h1.6M283.80 46.27h1.6M283.80 43.17h1.6M283.80 40.77h1.6M283.80 38.80h1.6M283.80 37.14h1.6M283.80 35.70h1.6M283.80 34.43h1.6M283.80 33.30h3M283.80 25.83h1.6M283.80 21.47h1.6M283.80 18.37h1.6M283.80 15.97h1.6M283.80 14.00h1.6M283.80 12.34h1.6M283.80 10.90h1.6M283.80 9.63h1.6M283.80 8.50h3M283.80 355.80v-3M283.80 8.50v3M298.85 355.80v-1.6M298.85 8.50v1.6M307.66 355.80v-1.6M307.66 8.50v1.6M313.90 355.80v-1.6M313.90 8.50v1.6M318.75 355.80v-1.6M318.75 8.50v1.6M322.71 355.80v-1.6M322.71 8.50v1.6M326.05 355.80v-1.6M326.05 8.50v1.6M328.95 355.80v-1.6M328.95 8.50v1.6M331.51 355.80v-1.6M331.51 8.50v1.6M333.80 355.80v-3M333.80 8.50v3M348.85 355.80v-1.6M348.85 8.50v1.6M357.66 355.80v-1.6M357.66 8.50v1.6M363.90 355.80v-1.6M363.90 8.50v1.6M368.75 355.80v-1.6M368.75 8.50v1.6M372.71 355.80v-1.6M372.71 8.50v1.6M376.05 355.80v-1.6M376.05 8.50v1.6M378.95 355.80v-1.6M378.95 8.50v1.6M381.51 355.80v-1.6M381.51 8.50v1.6M383.80 355.80v-3M383.80 8.50v3M398.85 355.80v-1.6M398.85 8.50v1.6M407.66 355.80v-1.6M407.66 8.50v1.6M413.90 355.80v-1.6M413.90 8.50v1.6M418.75 355.80v-1.6M418.75 8.50v1.6M422.71 355.80v-1.6M422.71 8.50v1.6M426.05 355.80v-1.6M426.05 8.50v1.6M428.95 355.80v-1.6M428.95 8.50v1.6M431.51 355.80v-1.6M431.51 8.50v1.6M433.80 355.80v-3M433.80 8.50v3M448.85 355.80v-1.6M448.85 8.50v1.6M457.66 355.80v-1.6M457.66 8.50v1.6M463.90 355.80v-1.6M463.90 8.50v1.6M468.75 355.80v-1.6M468.75 8.50v1.6M472.71 355.80v-1.6M472.71 8.50v1.6M476.05 355.80v-1.6M476.05 8.50v1.6M478.95 355.80v-1.6M478.95 8.50v1.6M481.51 355.80v-1.6M481.51 8.50v1.6M483.80 355.80v-3M483.80 8.50v3M498.85 355.80v-1.6M498.85 8.50v1.6M507.66 355.80v-1.6M507.66 8.50v1.6M513.90 355.80v-1.6M513.90 8.50v1.6" stroke="#777" stroke-width="0.6" fill="none"/>
<path d="M518.20 355.70h-3M518.20 348.23h-1.6M518.20 343.87h-1.6M518.20 340.77h-1.6M518.20 338.37h-1.6M518.20 336.40h-1.6M518.20 334.74h-1.6M518.20 333.30h-1.6M518.20 332.03h-1.6M518.20 330.90h-3M518.20 323.43h-1.6M518.20 319.07h-1.6M518.20 315.97h-1.6M518.20 313.57h-1.6M518.20 311.60h-1.6M518.20 309.94h-1.6M518.20 308.50h-1.6M518.20 307.23h-1.6M518.20 306.10h-3M518.20 298.63h-1.6M518.20 294.27h-1.6M518.20 291.17h-1.6M518.20 288.77h-1.6M518.20 286.80h-1.6M518.20 285.14h-1.6M518.20 283.70h-1.6M518.20 282.43h-1.6M518.20 281.30h-3M518.20 273.83h-1.6M518.20 269.47h-1.6M518.20 266.37h-1.6M518.20 263.97h-1.6M518.20 262.00h-1.6M518.20 260.34h-1.6M518.20 258.90h-1.6M518.20 257.63h-1.6M518.20 256.50h-3M518.20 249.03h-1.6M518.20 244.67h-1.6M518.20 241.57h-1.6M518.20 239.17h-1.6M518.20 237.20h-1.6M518.20 235.54h-1.6M518.20 234.10h-1.6M518.20 232.83h-1.6M518.20 231.70h-3M518.20 224.23h-1.6M518.20 219.87h-1.6M518.20 216.77h-1.6M518.20 214.37h-1.6M518.20 212.40h-1.6M518.20 210.74h-1.6M518.20 209.30h-1.6M518.20 208.03h-1.6M518.20 206.90h-3M518.20 199.43h-1.6M518.20 195.07h-1.6M518.20 191.97h-1.6M518.20 189.57h-1.6M518.20 187.60h-1.6M518.20 185.94h-1.6M518.20 184.50h-1.6M518.20 183.23h-1.6M518.20 182.10h-3M518.20 174.63h-1.6M518.20 170.27h-1.6M518.20 167.17h-1.6M518.20 164.77h-1.6M518.20 162.80h-1.6M518.20 161.14h-1.6M518.20 159.70h-1.6M518.20 158.43h-1.6M518.20 157.30h-3M518.20 149.83h-1.6M518.20 145.47h-1.6M518.20 142.37h-1.6M518.20 139.97h-1.6M518.20 138.00h-1.6M518.20 136.34h-1.6M518.20 134.90h-1.6M518.20 133.63h-1.6M518.20 132.50h-3M518.20 125.03h-1.6M518.20 120.67h-1.6M518.20 117.57h-1.6M518.20 115.17h-1.6M518.20 113.20h-1.6M518.20 111.54h-1.6M518.20 110.10h-1.6M518.20 108.83h-1.6M518.20 107.70h-3M518.20 100.23h-1.6M518.20 95.87h-1.6M518.20 92.77h-1.6M518.20 90.37h-1.6M518.20 88.40h-1.6M518.20 86.74h-1.6M518.20 85.30h-1.6M518.20 84.03h-1.6M518.20 82.90h-3M518.20 75.43h-1.6M518.20 71.07h-1.6M518.20 67.97h-1.6M518.20 65.57h-1.6M518.20 63.60h-1.6M518.20 61.94h-1.6M518.20 60.50h-1.6M518.20 59.23h-1.6M518.20 58.10h-3M518.20 50.63h-1.6M518.20 46.27h-1.6M518.20 43.17h-1.6M518.20 40.77h-1.6M518.20 38.80h-1.6M518.20 37.14h-1.6M518.20 35.70h-1.6M518.20 34.43h-1.6M518.20 33.30h-3M518.20 25.83h-1.6M518.20 21.47h-1.6M518.20 18.37h-1.6M518.20 15.97h-1.6M518.20 14.00h-1.6M518.20 12.34h-1.6M518.20 10.90h-1.6M518.20 9.63h-1.6M518.20 8.50h-3" stroke="#ccc" stroke-width="0.6" fill="none"/>
<path d="M518.20 8.50V355.80" stroke="#e4e4e4" stroke-width="0.8"/>
<path d="M518.20 8.50H283.80M283.80 8.50V355.80H518.20" fill="none" stroke="#505050" stroke-width="0.8"/>
<polyline points="295.10,113.40 300.14,110.91 305.18,108.41 310.22,105.92 315.26,103.42 320.30,100.93 325.34,98.43 330.38,95.94 335.42,93.44 340.46,90.95 345.50,88.45 350.54,85.95 355.58,83.46 360.62,80.97 365.66,78.47 370.70,75.97 375.74,73.48 380.78,70.98 385.82,68.49 390.86,66.00 395.90,63.50 400.94,61.00 405.98,58.51 411.02,56.02 416.06,53.52 421.10,51.02 426.14,48.53 431.18,46.03 436.22,43.54 441.26,41.05 446.30,38.55 451.34,36.05 456.38,33.56 461.42,31.06 466.46,28.57 471.50,26.07 476.54,23.58 481.58,21.08 486.62,18.59 491.66,16.09 496.70,13.60" fill="none" stroke="#1fae1f" stroke-width="1.6"/>
<polyline points="300.80,234.30 305.84,228.96 310.88,223.63 315.93,218.30 320.97,212.98 326.01,207.68 331.06,202.37 336.10,197.08 341.14,191.80 346.18,186.52 351.23,181.25 356.27,175.99 361.31,170.74 366.35,165.49 371.39,160.25 376.44,155.03 381.48,149.80 386.52,144.59 391.56,139.39 396.61,134.19 401.65,129.00 406.69,123.82 411.74,118.65 416.78,113.48 421.82,108.32 426.86,103.18 431.90,98.03 436.95,92.90 441.99,87.78 447.03,82.66 452.07,77.55 457.12,72.45 462.16,67.36 467.20,62.27 472.25,57.19 477.29,52.13 482.33,47.06 487.37,42.01 492.41,36.97 497.46,31.93 502.50,26.90" fill="none" stroke="#f0a050" stroke-width="1.6"/>
<polyline points="310.30,337.60 315.33,330.05 320.36,322.52 325.39,314.99 330.42,307.47 335.45,299.96 340.48,292.47 345.51,284.98 350.54,277.50 355.57,270.03 360.60,262.58 365.63,255.13 370.66,247.69 375.69,240.26 380.72,232.85 385.75,225.44 390.78,218.04 395.81,210.65 400.84,203.28 405.87,195.91 410.90,188.55 415.93,181.20 420.96,173.87 425.99,166.54 431.02,159.22 436.05,151.91 441.08,144.62 446.11,137.33 451.14,130.05 456.17,122.78 461.20,115.53 466.23,108.28 471.26,101.04 476.29,93.81 481.32,86.60 486.35,79.39 491.38,72.19 496.41,65.00 501.44,57.83 506.47,50.66 511.50,43.50" fill="none" stroke="#c0141e" stroke-width="2.3"/>
<rect x="293.30" y="111.60" width="3.6" height="3.6" fill="#38c838" stroke="#106e10" stroke-width="0.9"/>
<rect x="298.34" y="109.11" width="3.6" height="3.6" fill="#38c838" stroke="#106e10" stroke-width="0.9"/>
<rect x="303.38" y="106.61" width="3.6" height="3.6" fill="#38c838" stroke="#106e10" stroke-width="0.9"/>
<rect x="308.42" y="104.12" width="3.6" height="3.6" fill="#38c838" stroke="#106e10" stroke-width="0.9"/>
<rect x="313.46" y="101.62" width="3.6" height="3.6" fill="#38c838" stroke="#106e10" stroke-width="0.9"/>
<rect x="318.50" y="99.13" width="3.6" height="3.6" fill="#38c838" stroke="#106e10" stroke-width="0.9"/>
<rect x="323.54" y="96.63" width="3.6" height="3.6" fill="#38c838" stroke="#106e10" stroke-width="0.9"/>
<rect x="328.58" y="94.14" width="3.6" height="3.6" fill="#38c838" stroke="#106e10" stroke-width="0.9"/>
<rect x="333.62" y="91.64" width="3.6" height="3.6" fill="#38c838" stroke="#106e10" stroke-width="0.9"/>
<rect x="338.66" y="89.15" width="3.6" height="3.6" fill="#38c838" stroke="#106e10" stroke-width="0.9"/>
<rect x="343.70" y="86.65" width="3.6" height="3.6" fill="#38c838" stroke="#106e10" stroke-width="0.9"/>
<rect x="348.74" y="84.16" width="3.6" height="3.6" fill="#38c838" stroke="#106e10" stroke-width="0.9"/>
<rect x="353.78" y="81.66" width="3.6" height="3.6" fill="#38c838" stroke="#106e10" stroke-width="0.9"/>
<rect x="358.82" y="79.17" width="3.6" height="3.6" fill="#38c838" stroke="#106e10" stroke-width="0.9"/>
<rect x="363.86" y="76.67" width="3.6" height="3.6" fill="#38c838" stroke="#106e10" stroke-width="0.9"/>
<rect x="368.90" y="74.17" width="3.6" height="3.6" fill="#38c838" stroke="#106e10" stroke-width="0.9"/>
<rect x="373.94" y="71.68" width="3.6" height="3.6" fill="#38c838" stroke="#106e10" stroke-width="0.9"/>
<rect x="378.98" y="69.19" width="3.6" height="3.6" fill="#38c838" stroke="#106e10" stroke-width="0.9"/>
<rect x="384.02" y="66.69" width="3.6" height="3.6" fill="#38c838" stroke="#106e10" stroke-width="0.9"/>
<rect x="389.06" y="64.20" width="3.6" height="3.6" fill="#38c838" stroke="#106e10" stroke-width="0.9"/>
<rect x="394.10" y="61.70" width="3.6" height="3.6" fill="#38c838" stroke="#106e10" stroke-width="0.9"/>
<rect x="399.14" y="59.20" width="3.6" height="3.6" fill="#38c838" stroke="#106e10" stroke-width="0.9"/>
<rect x="404.18" y="56.71" width="3.6" height="3.6" fill="#38c838" stroke="#106e10" stroke-width="0.9"/>
<rect x="409.22" y="54.22" width="3.6" height="3.6" fill="#38c838" stroke="#106e10" stroke-width="0.9"/>
<rect x="414.26" y="51.72" width="3.6" height="3.6" fill="#38c838" stroke="#106e10" stroke-width="0.9"/>
<rect x="419.30" y="49.23" width="3.6" height="3.6" fill="#38c838" stroke="#106e10" stroke-width="0.9"/>
<rect x="424.34" y="46.73" width="3.6" height="3.6" fill="#38c838" stroke="#106e10" stroke-width="0.9"/>
<rect x="429.38" y="44.23" width="3.6" height="3.6" fill="#38c838" stroke="#106e10" stroke-width="0.9"/>
<rect x="434.42" y="41.74" width="3.6" height="3.6" fill="#38c838" stroke="#106e10" stroke-width="0.9"/>
<rect x="439.46" y="39.25" width="3.6" height="3.6" fill="#38c838" stroke="#106e10" stroke-width="0.9"/>
<rect x="444.50" y="36.75" width="3.6" height="3.6" fill="#38c838" stroke="#106e10" stroke-width="0.9"/>
<rect x="449.54" y="34.25" width="3.6" height="3.6" fill="#38c838" stroke="#106e10" stroke-width="0.9"/>
<rect x="454.58" y="31.76" width="3.6" height="3.6" fill="#38c838" stroke="#106e10" stroke-width="0.9"/>
<rect x="459.62" y="29.26" width="3.6" height="3.6" fill="#38c838" stroke="#106e10" stroke-width="0.9"/>
<rect x="464.66" y="26.77" width="3.6" height="3.6" fill="#38c838" stroke="#106e10" stroke-width="0.9"/>
<rect x="469.70" y="24.27" width="3.6" height="3.6" fill="#38c838" stroke="#106e10" stroke-width="0.9"/>
<rect x="474.74" y="21.78" width="3.6" height="3.6" fill="#38c838" stroke="#106e10" stroke-width="0.9"/>
<rect x="479.78" y="19.28" width="3.6" height="3.6" fill="#38c838" stroke="#106e10" stroke-width="0.9"/>
<rect x="484.82" y="16.79" width="3.6" height="3.6" fill="#38c838" stroke="#106e10" stroke-width="0.9"/>
<rect x="489.86" y="14.29" width="3.6" height="3.6" fill="#38c838" stroke="#106e10" stroke-width="0.9"/>
<rect x="494.90" y="11.80" width="3.6" height="3.6" fill="#38c838" stroke="#106e10" stroke-width="0.9"/>
<path d="M300.80 231.70L303.30 236.10L298.30 236.10Z" fill="#eeaa66" stroke="#5a3408" stroke-width="1.1"/>
<path d="M305.84 226.36L308.34 230.76L303.34 230.76Z" fill="#eeaa66" stroke="#5a3408" stroke-width="1.1"/>
<path d="M310.88 221.03L313.38 225.43L308.38 225.43Z" fill="#eeaa66" stroke="#5a3408" stroke-width="1.1"/>
<path d="M315.93 215.70L318.43 220.10L313.43 220.10Z" fill="#eeaa66" stroke="#5a3408" stroke-width="1.1"/>
<path d="M320.97 210.38L323.47 214.78L318.47 214.78Z" fill="#eeaa66" stroke="#5a3408" stroke-width="1.1"/>
<path d="M326.01 205.08L328.51 209.48L323.51 209.48Z" fill="#eeaa66" stroke="#5a3408" stroke-width="1.1"/>
<path d="M331.06 199.77L333.56 204.17L328.56 204.17Z" fill="#eeaa66" stroke="#5a3408" stroke-width="1.1"/>
<path d="M336.10 194.48L338.60 198.88L333.60 198.88Z" fill="#eeaa66" stroke="#5a3408" stroke-width="1.1"/>
<path d="M341.14 189.20L343.64 193.60L338.64 193.60Z" fill="#eeaa66" stroke="#5a3408" stroke-width="1.1"/>
<path d="M346.18 183.92L348.68 188.32L343.68 188.32Z" fill="#eeaa66" stroke="#5a3408" stroke-width="1.1"/>
<path d="M351.23 178.65L353.73 183.05L348.73 183.05Z" fill="#eeaa66" stroke="#5a3408" stroke-width="1.1"/>
<path d="M356.27 173.39L358.77 177.79L353.77 177.79Z" fill="#eeaa66" stroke="#5a3408" stroke-width="1.1"/>
<path d="M361.31 168.14L363.81 172.54L358.81 172.54Z" fill="#eeaa66" stroke="#5a3408" stroke-width="1.1"/>
<path d="M366.35 162.89L368.85 167.29L363.85 167.29Z" fill="#eeaa66" stroke="#5a3408" stroke-width="1.1"/>
<path d="M371.39 157.65L373.89 162.05L368.89 162.05Z" fill="#eeaa66" stroke="#5a3408" stroke-width="1.1"/>
<path d="M376.44 152.43L378.94 156.83L373.94 156.83Z" fill="#eeaa66" stroke="#5a3408" stroke-width="1.1"/>
<path d="M381.48 147.20L383.98 151.60L378.98 151.60Z" fill="#eeaa66" stroke="#5a3408" stroke-width="1.1"/>
<path d="M386.52 141.99L389.02 146.39L384.02 146.39Z" fill="#eeaa66" stroke="#5a3408" stroke-width="1.1"/>
<path d="M391.56 136.79L394.06 141.19L389.06 141.19Z" fill="#eeaa66" stroke="#5a3408" stroke-width="1.1"/>
<path d="M396.61 131.59L399.11 135.99L394.11 135.99Z" fill="#eeaa66" stroke="#5a3408" stroke-width="1.1"/>
<path d="M401.65 126.40L404.15 130.80L399.15 130.80Z" fill="#eeaa66" stroke="#5a3408" stroke-width="1.1"/>
<path d="M406.69 121.22L409.19 125.62L404.19 125.62Z" fill="#eeaa66" stroke="#5a3408" stroke-width="1.1"/>
<path d="M411.74 116.05L414.24 120.45L409.24 120.45Z" fill="#eeaa66" stroke="#5a3408" stroke-width="1.1"/>
<path d="M416.78 110.88L419.28 115.28L414.28 115.28Z" fill="#eeaa66" stroke="#5a3408" stroke-width="1.1"/>
<path d="M421.82 105.72L424.32 110.12L419.32 110.12Z" fill="#eeaa66" stroke="#5a3408" stroke-width="1.1"/>
<path d="M426.86 100.58L429.36 104.98L424.36 104.98Z" fill="#eeaa66" stroke="#5a3408" stroke-width="1.1"/>
<path d="M431.90 95.43L434.40 99.83L429.40 99.83Z" fill="#eeaa66" stroke="#5a3408" stroke-width="1.1"/>
<path d="M436.95 90.30L439.45 94.70L434.45 94.70Z" fill="#eeaa66" stroke="#5a3408" stroke-width="1.1"/>
<path d="M441.99 85.18L444.49 89.58L439.49 89.58Z" fill="#eeaa66" stroke="#5a3408" stroke-width="1.1"/>
<path d="M447.03 80.06L449.53 84.46L444.53 84.46Z" fill="#eeaa66" stroke="#5a3408" stroke-width="1.1"/>
<path d="M452.07 74.95L454.57 79.35L449.57 79.35Z" fill="#eeaa66" stroke="#5a3408" stroke-width="1.1"/>
<path d="M457.12 69.85L459.62 74.25L454.62 74.25Z" fill="#eeaa66" stroke="#5a3408" stroke-width="1.1"/>
<path d="M462.16 64.76L464.66 69.16L459.66 69.16Z" fill="#eeaa66" stroke="#5a3408" stroke-width="1.1"/>
<path d="M467.20 59.67L469.70 64.07L464.70 64.07Z" fill="#eeaa66" stroke="#5a3408" stroke-width="1.1"/>
<path d="M472.25 54.59L474.75 58.99L469.75 58.99Z" fill="#eeaa66" stroke="#5a3408" stroke-width="1.1"/>
<path d="M477.29 49.53L479.79 53.93L474.79 53.93Z" fill="#eeaa66" stroke="#5a3408" stroke-width="1.1"/>
<path d="M482.33 44.46L484.83 48.86L479.83 48.86Z" fill="#eeaa66" stroke="#5a3408" stroke-width="1.1"/>
<path d="M487.37 39.41L489.87 43.81L484.87 43.81Z" fill="#eeaa66" stroke="#5a3408" stroke-width="1.1"/>
<path d="M492.41 34.37L494.91 38.77L489.91 38.77Z" fill="#eeaa66" stroke="#5a3408" stroke-width="1.1"/>
<path d="M497.46 29.33L499.96 33.73L494.96 33.73Z" fill="#eeaa66" stroke="#5a3408" stroke-width="1.1"/>
<path d="M502.50 24.30L505.00 28.70L500.00 28.70Z" fill="#eeaa66" stroke="#5a3408" stroke-width="1.1"/>
<circle cx="310.30" cy="337.60" r="2.1" fill="#b8121c" stroke="#6a0810" stroke-width="0.9"/>
<circle cx="315.33" cy="330.05" r="2.1" fill="#b8121c" stroke="#6a0810" stroke-width="0.9"/>
<circle cx="320.36" cy="322.52" r="2.1" fill="#b8121c" stroke="#6a0810" stroke-width="0.9"/>
<circle cx="325.39" cy="314.99" r="2.1" fill="#b8121c" stroke="#6a0810" stroke-width="0.9"/>
<circle cx="330.42" cy="307.47" r="2.1" fill="#b8121c" stroke="#6a0810" stroke-width="0.9"/>
<circle cx="335.45" cy="299.96" r="2.1" fill="#b8121c" stroke="#6a0810" stroke-width="0.9"/>
<circle cx="340.48" cy="292.47" r="2.1" fill="#b8121c" stroke="#6a0810" stroke-width="0.9"/>
<circle cx="345.51" cy="284.98" r="2.1" fill="#b8121c" stroke="#6a0810" stroke-width="0.9"/>
<circle cx="350.54" cy="277.50" r="2.1" fill="#b8121c" stroke="#6a0810" stroke-width="0.9"/>
<circle cx="355.57" cy="270.03" r="2.1" fill="#b8121c" stroke="#6a0810" stroke-width="0.9"/>
<circle cx="360.60" cy="262.58" r="2.1" fill="#b8121c" stroke="#6a0810" stroke-width="0.9"/>
<circle cx="365.63" cy="255.13" r="2.1" fill="#b8121c" stroke="#6a0810" stroke-width="0.9"/>
<circle cx="370.66" cy="247.69" r="2.1" fill="#b8121c" stroke="#6a0810" stroke-width="0.9"/>
<circle cx="375.69" cy="240.26" r="2.1" fill="#b8121c" stroke="#6a0810" stroke-width="0.9"/>
<circle cx="380.72" cy="232.85" r="2.1" fill="#b8121c" stroke="#6a0810" stroke-width="0.9"/>
<circle cx="385.75" cy="225.44" r="2.1" fill="#b8121c" stroke="#6a0810" stroke-width="0.9"/>
<circle cx="390.78" cy="218.04" r="2.1" fill="#b8121c" stroke="#6a0810" stroke-width="0.9"/>
<circle cx="395.81" cy="210.65" r="2.1" fill="#b8121c" stroke="#6a0810" stroke-width="0.9"/>
<circle cx="400.84" cy="203.28" r="2.1" fill="#b8121c" stroke="#6a0810" stroke-width="0.9"/>
<circle cx="405.87" cy="195.91" r="2.1" fill="#b8121c" stroke="#6a0810" stroke-width="0.9"/>
<circle cx="410.90" cy="188.55" r="2.1" fill="#b8121c" stroke="#6a0810" stroke-width="0.9"/>
<circle cx="415.93" cy="181.20" r="2.1" fill="#b8121c" stroke="#6a0810" stroke-width="0.9"/>
<circle cx="420.96" cy="173.87" r="2.1" fill="#b8121c" stroke="#6a0810" stroke-width="0.9"/>
<circle cx="425.99" cy="166.54" r="2.1" fill="#b8121c" stroke="#6a0810" stroke-width="0.9"/>
<circle cx="431.02" cy="159.22" r="2.1" fill="#b8121c" stroke="#6a0810" stroke-width="0.9"/>
<circle cx="436.05" cy="151.91" r="2.1" fill="#b8121c" stroke="#6a0810" stroke-width="0.9"/>
<circle cx="441.08" cy="144.62" r="2.1" fill="#b8121c" stroke="#6a0810" stroke-width="0.9"/>
<circle cx="446.11" cy="137.33" r="2.1" fill="#b8121c" stroke="#6a0810" stroke-width="0.9"/>
<circle cx="451.14" cy="130.05" r="2.1" fill="#b8121c" stroke="#6a0810" stroke-width="0.9"/>
<circle cx="456.17" cy="122.78" r="2.1" fill="#b8121c" stroke="#6a0810" stroke-width="0.9"/>
<circle cx="461.20" cy="115.53" r="2.1" fill="#b8121c" stroke="#6a0810" stroke-width="0.9"/>
<circle cx="466.23" cy="108.28" r="2.1" fill="#b8121c" stroke="#6a0810" stroke-width="0.9"/>
<circle cx="471.26" cy="101.04" r="2.1" fill="#b8121c" stroke="#6a0810" stroke-width="0.9"/>
<circle cx="476.29" cy="93.81" r="2.1" fill="#b8121c" stroke="#6a0810" stroke-width="0.9"/>
<circle cx="481.32" cy="86.60" r="2.1" fill="#b8121c" stroke="#6a0810" stroke-width="0.9"/>
<circle cx="486.35" cy="79.39" r="2.1" fill="#b8121c" stroke="#6a0810" stroke-width="0.9"/>
<circle cx="491.38" cy="72.19" r="2.1" fill="#b8121c" stroke="#6a0810" stroke-width="0.9"/>
<circle cx="496.41" cy="65.00" r="2.1" fill="#b8121c" stroke="#6a0810" stroke-width="0.9"/>
<circle cx="501.44" cy="57.83" r="2.1" fill="#b8121c" stroke="#6a0810" stroke-width="0.9"/>
<circle cx="506.47" cy="50.66" r="2.1" fill="#b8121c" stroke="#6a0810" stroke-width="0.9"/>
<circle cx="511.50" cy="43.50" r="2.1" fill="#b8121c" stroke="#6a0810" stroke-width="0.9"/>
<path d="M346.2 91.2H370.4V77.5" stroke="#262626" stroke-width="1" fill="none"/>
<path d="M344 192.5H370.3V164" stroke="#262626" stroke-width="1" fill="none"/>
<path d="M342.5 292.8H371.3V249.4" stroke="#262626" stroke-width="1" fill="none"/>
<text x="372.6" y="91" font-family="Liberation Sans, sans-serif" font-size="16" fill="#1a1a1a">1</text>
<text x="372.6" y="184" font-family="Liberation Sans, sans-serif" font-size="16" fill="#1a1a1a">2</text>
<text x="372.6" y="276.8" font-family="Liberation Sans, sans-serif" font-size="16" fill="#1a1a1a">3</text>
<path d="M361.6 312.6H375" stroke="#22dd22" stroke-width="2.2"/>
<path d="M361.6 327.4H375" stroke="#f0a040" stroke-width="2.2"/>
<path d="M361.6 342.4H375" stroke="#d01020" stroke-width="2.2"/>
<text x="376.4" y="319.5" textLength="64.0" font-family="Liberation Serif, serif" font-size="14.4" fill="#151515" stroke="#151515" stroke-width="0.25" lengthAdjust="spacingAndGlyphs">Stretching</text>
<text x="447.0" y="319.5" textLength="69.0" font-family="Liberation Serif, serif" font-size="14.4" fill="#151515" stroke="#151515" stroke-width="0.25" lengthAdjust="spacingAndGlyphs">Dominated</text>
<text x="376.4" y="334.3" textLength="39.0" font-family="Liberation Serif, serif" font-size="14.4" fill="#151515" stroke="#151515" stroke-width="0.25" lengthAdjust="spacingAndGlyphs">Mixed</text>
<text x="376.6" y="349.3" textLength="51.6" font-family="Liberation Serif, serif" font-size="14.4" fill="#151515" stroke="#151515" stroke-width="0.25" lengthAdjust="spacingAndGlyphs">Bending</text>
<text x="434.3" y="349.3" textLength="68.6" font-family="Liberation Serif, serif" font-size="14.4" fill="#151515" stroke="#151515" stroke-width="0.25" lengthAdjust="spacingAndGlyphs">Dominated</text>
<text transform="translate(277.8,18.10) scale(1.06,1)" text-anchor="end" font-family="Liberation Sans, sans-serif" fill="#151515" stroke="#151515" stroke-width="0.4"><tspan font-size="13.8">10</tspan><tspan font-size="10.2" dy="-8.2" dx="0.6">4</tspan></text>
<text transform="translate(277.8,67.70) scale(1.06,1)" text-anchor="end" font-family="Liberation Sans, sans-serif" fill="#151515" stroke="#151515" stroke-width="0.4"><tspan font-size="13.8">10</tspan><tspan font-size="10.2" dy="-8.2" dx="0.6">2</tspan></text>
<text transform="translate(277.8,117.30) scale(1.06,1)" text-anchor="end" font-family="Liberation Sans, sans-serif" fill="#151515" stroke="#151515" stroke-width="0.4"><tspan font-size="13.8">10</tspan><tspan font-size="10.2" dy="-8.2" dx="0.6">0</tspan></text>
<text transform="translate(277.8,166.90) scale(1.06,1)" text-anchor="end" font-family="Liberation Sans, sans-serif" fill="#151515" stroke="#151515" stroke-width="0.4"><tspan font-size="13.8">10</tspan><tspan font-size="10.2" dy="-8.2" dx="2.2">-2</tspan></text>
<text transform="translate(277.8,216.50) scale(1.06,1)" text-anchor="end" font-family="Liberation Sans, sans-serif" fill="#151515" stroke="#151515" stroke-width="0.4"><tspan font-size="13.8">10</tspan><tspan font-size="10.2" dy="-8.2" dx="2.2">-4</tspan></text>
<text transform="translate(277.8,266.10) scale(1.06,1)" text-anchor="end" font-family="Liberation Sans, sans-serif" fill="#151515" stroke="#151515" stroke-width="0.4"><tspan font-size="13.8">10</tspan><tspan font-size="10.2" dy="-8.2" dx="2.2">-6</tspan></text>
<text transform="translate(277.8,315.70) scale(1.06,1)" text-anchor="end" font-family="Liberation Sans, sans-serif" fill="#151515" stroke="#151515" stroke-width="0.4"><tspan font-size="13.8">10</tspan><tspan font-size="10.2" dy="-8.2" dx="2.2">-8</tspan></text>
<text transform="translate(277.8,365.30) scale(1.06,1)" text-anchor="end" font-family="Liberation Sans, sans-serif" fill="#151515" stroke="#151515" stroke-width="0.4"><tspan font-size="13.8">10</tspan><tspan font-size="10.2" dy="-8.2" dx="2.2">-10</tspan></text>
<text transform="translate(333.80,381.5) scale(1.06,1)" text-anchor="middle" font-family="Liberation Sans, sans-serif" fill="#151515" stroke="#151515" stroke-width="0.4"><tspan font-size="13.8">10</tspan><tspan font-size="10.2" dy="-8.4" dx="1.6">-4</tspan></text>
<text transform="translate(433.80,381.5) scale(1.06,1)" text-anchor="middle" font-family="Liberation Sans, sans-serif" fill="#151515" stroke="#151515" stroke-width="0.4"><tspan font-size="13.8">10</tspan><tspan font-size="10.2" dy="-8.4" dx="1.6">-2</tspan></text>
<text x="305.2" y="401" font-size="20" font-family="Liberation Serif, serif" fill="#2c2c2c" textLength="151" lengthAdjust="spacingAndGlyphs">Relative Density</text>
<text transform="translate(467.4,401) scale(1.12,1)" font-size="21" font-style="italic" font-family="Liberation Serif, serif" fill="#2c2c2c">&#961;</text>
<text transform="translate(467.4,392.6) scale(1.5,0.9)" font-size="16" font-family="Liberation Serif, serif" fill="#2c2c2c">~</text>
<text x="477.6" y="405.4" font-size="28" font-family="Liberation Serif, serif" fill="#2c2c2c">/</text>
<text transform="translate(487.3,401) scale(1.12,1)" font-size="21" font-style="italic" font-family="Liberation Serif, serif" fill="#2c2c2c">&#961;</text>
<g transform="translate(231.5,290) rotate(-90)">
<text x="0" y="0" font-size="20" font-family="Liberation Serif, serif" fill="#2c2c2c" textLength="162.6" lengthAdjust="spacingAndGlyphs">Relative Stiffness</text>
<text x="170.5" y="0" font-size="21" font-style="italic" font-family="Liberation Serif, serif" fill="#2c2c2c">Y</text>
<text transform="translate(171.4,-13.4) scale(1.55,0.9)" font-size="16" font-family="Liberation Serif, serif" fill="#2c2c2c">~</text>
<text x="187.8" y="4.9" font-size="28" font-family="Liberation Serif, serif" fill="#2c2c2c">/</text>
<text x="199.5" y="0" font-size="21" font-style="italic" font-family="Liberation Serif, serif" fill="#2c2c2c">Y</text>
</g>
</svg>
</body></html>
